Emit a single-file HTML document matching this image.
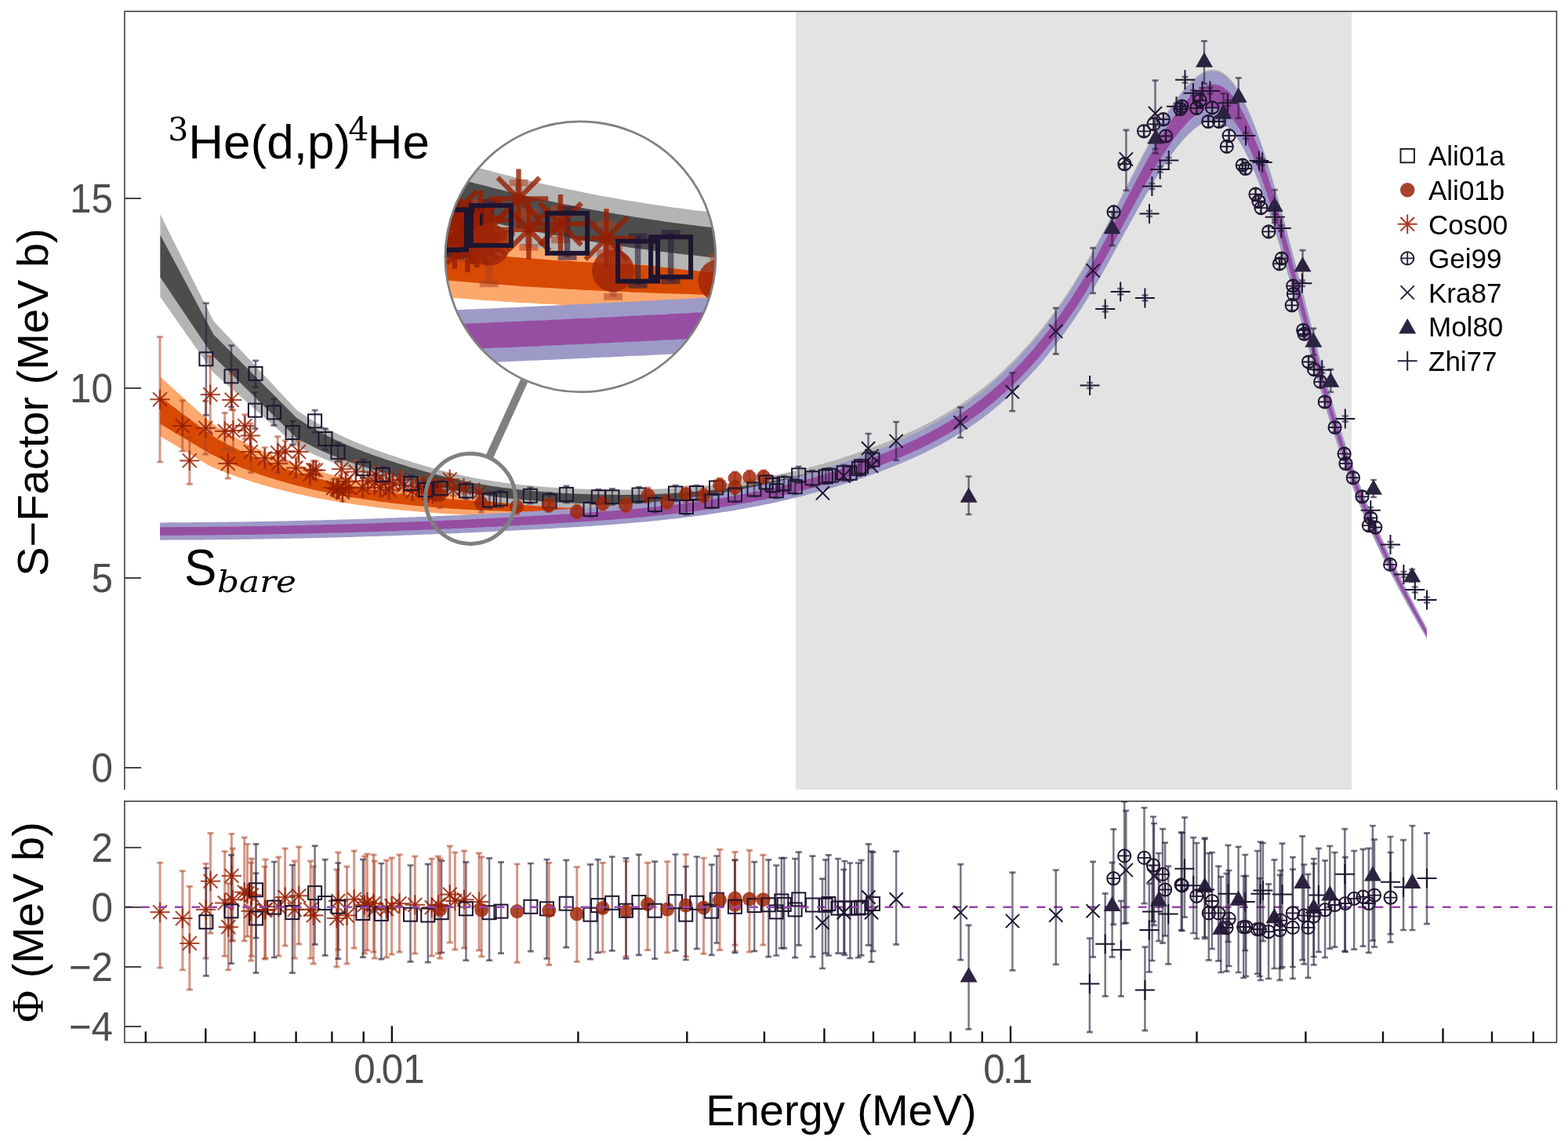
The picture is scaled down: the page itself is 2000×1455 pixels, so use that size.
<!DOCTYPE html>
<html><head><meta charset="utf-8"><title>S-Factor plot</title>
<style>
html,body{margin:0;padding:0;background:#fff;}
body{width:2000px;height:1455px;overflow:hidden;}
svg{display:block;}
text{font-family:"Liberation Sans",Arial,sans-serif;}
.tl{font-size:52px;fill:#4d4d4d;}
.lg{font-size:35px;fill:#000;}
.ax{font-size:56px;fill:#000;}
.sr{font-family:"Liberation Serif","Times New Roman",serif;}
</style></head>
<body>
<svg width="2000" height="1455" viewBox="0 0 2000 1455">
<defs>
<clipPath id="cu"><rect x="159" y="15" width="1826" height="992"/></clipPath>
<clipPath id="cl"><rect x="159" y="1022" width="1826" height="307"/></clipPath>
<clipPath id="ci"><circle cx="740.4" cy="327.4" r="172.2"/></clipPath>
<g id="upc">
<path d="M204.4,480.6 L268.0,538.1 L271.0,540.1 L274.0,542.1 L277.0,544.0 L280.0,545.9 L283.0,547.7 L286.0,549.5 L289.0,551.3 L292.0,553.1 L295.0,554.8 L298.0,556.5 L301.0,558.1 L304.0,559.8 L307.0,561.4 L310.0,562.9 L313.0,564.5 L316.0,566.0 L319.0,567.5 L322.0,568.9 L325.0,570.4 L328.0,571.8 L331.0,573.2 L334.0,574.5 L337.0,575.9 L340.0,577.2 L343.0,578.4 L346.0,579.7 L349.0,580.9 L352.0,582.2 L355.0,583.3 L358.0,584.5 L361.0,585.7 L364.0,586.8 L367.0,587.9 L370.0,589.0 L373.0,590.1 L376.0,591.1 L379.0,592.1 L382.0,593.1 L385.0,594.1 L388.0,595.1 L391.0,596.1 L394.0,597.0 L397.0,597.9 L400.0,598.8 L403.0,599.7 L406.0,600.6 L409.0,601.4 L412.0,602.3 L415.0,603.1 L418.0,603.9 L421.0,604.7 L424.0,605.5 L427.0,606.2 L430.0,607.0 L433.0,607.7 L436.0,608.4 L439.0,609.1 L442.0,609.8 L445.0,610.5 L448.0,611.1 L451.0,611.8 L454.0,612.4 L457.0,613.1 L460.0,613.7 L463.0,614.3 L466.0,614.9 L469.0,615.4 L472.0,616.0 L475.0,616.6 L478.0,617.1 L481.0,617.6 L484.0,618.1 L487.0,618.7 L490.0,619.2 L493.0,619.6 L496.0,620.1 L499.0,620.6 L502.0,621.0 L505.0,621.5 L508.0,621.9 L511.0,622.4 L514.0,622.8 L517.0,623.2 L520.0,623.6 L523.0,624.0 L526.0,624.4 L529.0,624.7 L532.0,625.1 L535.0,625.5 L538.0,625.8 L541.0,626.1 L544.0,626.5 L547.0,626.8 L550.0,627.1 L553.0,627.4 L556.0,627.7 L559.0,628.0 L562.0,628.3 L565.0,628.6 L568.0,628.9 L571.0,629.1 L574.0,629.4 L577.0,629.6 L580.0,629.9 L583.0,630.1 L586.0,630.3 L589.0,630.6 L592.0,630.8 L595.0,631.0 L598.0,631.2 L601.0,631.4 L604.0,631.6 L607.0,631.8 L610.0,631.9 L613.0,632.1 L616.0,632.3 L619.0,632.4 L622.0,632.6 L625.0,632.7 L628.0,632.9 L631.0,633.0 L634.0,633.2 L637.0,633.3 L640.0,633.4 L643.0,633.5 L646.0,633.6 L649.0,633.8 L652.0,633.9 L655.0,634.0 L658.0,634.0 L661.0,634.1 L664.0,634.2 L667.0,634.3 L670.0,634.4 L673.0,634.4 L676.0,634.5 L679.0,634.6 L682.0,634.6 L685.0,634.7 L688.0,634.7 L691.0,634.8 L694.0,634.8 L697.0,634.8 L700.0,634.9 L703.0,634.9 L706.0,634.9 L709.0,634.9 L712.0,634.9 L715.0,635.0 L718.0,635.0 L721.0,635.0 L724.0,635.0 L727.0,634.9 L730.0,634.9 L733.0,634.9 L736.0,634.9 L739.0,634.9 L742.0,634.8 L745.0,634.8 L748.0,634.8 L751.0,634.7 L754.0,634.7 L757.0,634.6 L760.0,634.5 L763.0,634.5 L766.0,634.4 L769.0,634.3 L772.0,634.2 L775.0,634.2 L778.0,634.1 L781.0,634.0 L784.0,633.9 L787.0,633.7 L790.0,633.6 L793.0,633.5 L796.0,633.4 L799.0,633.3 L802.0,633.1 L805.0,633.0 L808.0,632.8 L811.0,632.7 L814.0,632.5 L817.0,632.3 L820.0,632.2 L823.0,632.0 L826.0,631.8 L829.0,631.6 L832.0,631.4 L835.0,631.2 L838.0,631.0 L841.0,630.7 L844.0,630.5 L847.0,630.3 L850.0,630.0 L853.0,629.8 L856.0,629.5 L859.0,629.3 L862.0,629.0 L865.0,628.7 L868.0,628.4 L871.0,628.1 L874.0,627.8 L877.0,627.5 L880.0,627.2 L883.0,626.9 L886.0,626.6 L889.0,626.2 L892.0,625.9 L895.0,625.5 L898.0,625.1 L901.0,624.8 L904.0,624.4 L907.0,624.0 L910.0,623.6 L913.0,623.2 L916.0,622.8 L919.0,622.4 L922.0,621.9 L925.0,621.5 L928.0,621.1 L931.0,620.6 L934.0,620.1 L937.0,619.7 L940.0,619.2 L943.0,618.7 L946.0,618.2 L949.0,617.7 L952.0,617.1 L955.0,616.6 L958.0,616.1 L961.0,615.5 L964.0,615.0 L967.0,614.4 L970.0,613.8 L973.0,613.2 L976.0,612.6 L979.0,612.0 L982.0,611.4 L985.0,610.8 L988.0,610.1 L991.0,609.5 L994.0,608.8 L997.0,608.1 L1000.0,607.5 L1003.0,606.8 L1006.0,606.1 L1009.0,605.3 L1012.0,604.6 L1015.0,603.9 L1018.0,603.1 L1021.0,602.4 L1024.0,601.6 L1027.0,600.8 L1030.0,600.0 L1033.0,599.2 L1036.0,598.4 L1039.0,597.6 L1042.0,596.7 L1045.0,595.9 L1048.0,595.0 L1051.0,594.1 L1054.0,593.2 L1057.0,592.3 L1060.0,591.4 L1063.0,590.5 L1066.0,589.6 L1069.0,588.6 L1072.0,587.7 L1075.0,586.7 L1078.0,585.7 L1081.0,584.7 L1084.0,583.7 L1087.0,582.7 L1090.0,581.6 L1093.0,580.6 L1096.0,579.5 L1099.0,578.4 L1102.0,577.3 L1105.0,576.2 L1108.0,575.1 L1111.0,574.0 L1114.0,572.8 L1117.0,571.7 L1120.0,570.5 L1123.0,569.3 L1126.0,568.1 L1129.0,566.9 L1132.0,565.6 L1135.0,564.4 L1138.0,563.1 L1141.0,561.9 L1144.0,560.6 L1147.0,559.3 L1150.0,557.9 L1153.0,556.6 L1156.0,555.2 L1159.0,553.9 L1162.0,552.5 L1165.0,551.1 L1168.0,549.6 L1171.0,548.2 L1174.0,546.7 L1177.0,545.2 L1180.0,543.7 L1183.0,542.1 L1186.0,540.6 L1189.0,539.0 L1192.0,537.3 L1195.0,535.7 L1198.0,534.0 L1201.0,532.3 L1204.0,530.5 L1207.0,528.8 L1210.0,527.0 L1213.0,525.1 L1216.0,523.2 L1219.0,521.3 L1222.0,519.4 L1225.0,517.4 L1228.0,515.4 L1231.0,513.3 L1234.0,511.2 L1237.0,509.1 L1240.0,506.9 L1243.0,504.7 L1246.0,502.4 L1249.0,500.1 L1252.0,497.8 L1255.0,495.4 L1258.0,493.0 L1261.0,490.5 L1264.0,488.0 L1267.0,485.4 L1270.0,482.8 L1273.0,480.1 L1276.0,477.4 L1279.0,474.6 L1282.0,471.7 L1285.0,468.9 L1288.0,465.9 L1291.0,462.9 L1294.0,459.9 L1297.0,456.8 L1300.0,453.6 L1303.0,450.4 L1306.0,447.1 L1309.0,443.8 L1312.0,440.4 L1315.0,437.0 L1318.0,433.4 L1321.0,429.9 L1324.0,426.2 L1327.0,422.5 L1330.0,418.7 L1333.0,414.9 L1336.0,411.0 L1339.0,407.0 L1342.0,403.0 L1345.0,398.9 L1348.0,394.7 L1351.0,390.4 L1354.0,386.1 L1357.0,381.7 L1360.0,377.3 L1363.0,372.7 L1366.0,368.1 L1369.0,363.4 L1372.0,358.6 L1375.0,353.8 L1378.0,348.9 L1381.0,343.8 L1384.0,338.8 L1387.0,333.6 L1390.0,328.3 L1393.0,323.0 L1396.0,317.6 L1399.0,312.1 L1402.0,306.5 L1405.0,300.9 L1408.0,295.2 L1411.0,289.5 L1414.0,283.7 L1417.0,277.9 L1420.0,272.0 L1423.0,266.1 L1426.0,260.2 L1429.0,254.3 L1432.0,248.4 L1435.0,242.5 L1438.0,236.6 L1441.0,230.7 L1444.0,224.8 L1447.0,219.0 L1450.0,213.2 L1453.0,207.4 L1456.0,201.7 L1459.0,196.0 L1462.0,190.4 L1465.0,184.9 L1468.0,179.4 L1471.0,174.1 L1474.0,168.8 L1477.0,163.6 L1480.0,158.5 L1483.0,153.5 L1486.0,148.7 L1489.0,143.9 L1492.0,139.3 L1495.0,134.9 L1498.0,130.5 L1501.0,126.3 L1504.0,122.3 L1507.0,118.5 L1510.0,114.8 L1513.0,111.3 L1516.0,108.0 L1519.0,104.9 L1522.0,102.0 L1525.0,99.4 L1528.0,97.1 L1531.0,95.0 L1534.0,93.3 L1537.0,91.9 L1540.0,90.8 L1543.0,90.1 L1546.0,89.7 L1549.0,89.8 L1552.0,90.2 L1555.0,91.1 L1558.0,92.4 L1561.0,94.2 L1564.0,96.5 L1567.0,99.2 L1570.0,102.5 L1573.0,106.2 L1576.0,110.4 L1579.0,115.1 L1582.0,120.3 L1585.0,125.8 L1588.0,131.8 L1591.0,138.2 L1594.0,145.1 L1597.0,152.3 L1600.0,159.8 L1603.0,167.8 L1606.0,176.1 L1609.0,184.7 L1612.0,193.7 L1615.0,202.9 L1618.0,212.5 L1621.0,222.3 L1624.0,232.4 L1627.0,242.8 L1630.0,253.3 L1633.0,264.1 L1636.0,275.0 L1639.0,286.1 L1642.0,297.4 L1645.0,308.7 L1648.0,320.2 L1651.0,331.7 L1654.0,343.3 L1657.0,355.0 L1660.0,366.7 L1663.0,378.3 L1666.0,390.0 L1669.0,401.6 L1672.0,413.2 L1675.0,424.7 L1678.0,436.1 L1681.0,447.4 L1684.0,458.6 L1687.0,469.6 L1690.0,480.5 L1693.0,491.1 L1696.0,501.6 L1699.0,511.9 L1702.0,522.0 L1705.0,531.9 L1708.0,541.6 L1711.0,551.1 L1714.0,560.4 L1717.0,569.5 L1720.0,578.3 L1723.0,587.0 L1726.0,595.5 L1729.0,603.8 L1732.0,611.9 L1735.0,619.9 L1738.0,627.7 L1741.0,635.4 L1744.0,643.0 L1747.0,650.4 L1750.0,657.6 L1753.0,664.8 L1756.0,671.8 L1759.0,678.7 L1762.0,685.5 L1765.0,692.2 L1768.0,698.7 L1771.0,705.2 L1774.0,711.6 L1777.0,717.9 L1780.0,724.1 L1783.0,730.3 L1786.0,736.4 L1789.0,742.4 L1792.0,748.3 L1795.0,754.2 L1798.0,760.0 L1801.0,765.8 L1804.0,771.5 L1807.0,777.2 L1810.0,782.8 L1813.0,788.5 L1816.0,794.1 L1819.0,799.6 L1820.0,801.5 L1820.0,814.1 L1819.0,812.4 L1816.0,807.2 L1813.0,802.0 L1810.0,796.8 L1807.0,791.6 L1804.0,786.3 L1801.0,781.0 L1798.0,775.6 L1795.0,770.2 L1792.0,764.7 L1789.0,759.2 L1786.0,753.7 L1783.0,748.0 L1780.0,742.3 L1777.0,736.5 L1774.0,730.7 L1771.0,724.8 L1768.0,718.7 L1765.0,712.6 L1762.0,706.4 L1759.0,700.1 L1756.0,693.7 L1753.0,687.2 L1750.0,680.5 L1747.0,673.8 L1744.0,666.9 L1741.0,659.9 L1738.0,652.8 L1735.0,645.5 L1732.0,638.1 L1729.0,630.6 L1726.0,622.8 L1723.0,615.0 L1720.0,606.9 L1717.0,598.7 L1714.0,590.2 L1711.0,581.6 L1708.0,572.8 L1705.0,563.8 L1702.0,554.6 L1699.0,545.2 L1696.0,535.7 L1693.0,525.9 L1690.0,516.0 L1687.0,506.0 L1684.0,495.7 L1681.0,485.3 L1678.0,474.8 L1675.0,464.2 L1672.0,453.6 L1669.0,442.8 L1666.0,432.0 L1663.0,421.2 L1660.0,410.3 L1657.0,399.5 L1654.0,388.7 L1651.0,377.9 L1648.0,367.2 L1645.0,356.5 L1642.0,346.0 L1639.0,335.5 L1636.0,325.2 L1633.0,315.1 L1630.0,305.1 L1627.0,295.3 L1624.0,285.7 L1621.0,276.3 L1618.0,267.2 L1615.0,258.3 L1612.0,249.7 L1609.0,241.3 L1606.0,233.3 L1603.0,225.6 L1600.0,218.2 L1597.0,211.2 L1594.0,204.5 L1591.0,198.2 L1588.0,192.2 L1585.0,186.7 L1582.0,181.5 L1579.0,176.7 L1576.0,172.4 L1573.0,168.4 L1570.0,165.0 L1567.0,161.9 L1564.0,159.4 L1561.0,157.3 L1558.0,155.6 L1555.0,154.4 L1552.0,153.6 L1549.0,153.2 L1546.0,153.1 L1543.0,153.5 L1540.0,154.1 L1537.0,155.1 L1534.0,156.4 L1531.0,158.1 L1528.0,159.9 L1525.0,162.1 L1522.0,164.5 L1519.0,167.2 L1516.0,170.0 L1513.0,173.1 L1510.0,176.4 L1507.0,179.8 L1504.0,183.4 L1501.0,187.1 L1498.0,191.0 L1495.0,195.0 L1492.0,199.2 L1489.0,203.4 L1486.0,207.8 L1483.0,212.3 L1480.0,217.0 L1477.0,221.7 L1474.0,226.5 L1471.0,231.4 L1468.0,236.4 L1465.0,241.5 L1462.0,246.6 L1459.0,251.8 L1456.0,257.1 L1453.0,262.4 L1450.0,267.7 L1447.0,273.1 L1444.0,278.5 L1441.0,284.0 L1438.0,289.5 L1435.0,294.9 L1432.0,300.4 L1429.0,305.9 L1426.0,311.4 L1423.0,316.9 L1420.0,322.4 L1417.0,327.8 L1414.0,333.2 L1411.0,338.6 L1408.0,343.9 L1405.0,349.2 L1402.0,354.4 L1399.0,359.6 L1396.0,364.7 L1393.0,369.7 L1390.0,374.7 L1387.0,379.5 L1384.0,384.3 L1381.0,389.1 L1378.0,393.7 L1375.0,398.3 L1372.0,402.8 L1369.0,407.2 L1366.0,411.6 L1363.0,415.9 L1360.0,420.1 L1357.0,424.2 L1354.0,428.3 L1351.0,432.3 L1348.0,436.3 L1345.0,440.2 L1342.0,444.0 L1339.0,447.7 L1336.0,451.4 L1333.0,455.1 L1330.0,458.6 L1327.0,462.1 L1324.0,465.6 L1321.0,468.9 L1318.0,472.3 L1315.0,475.5 L1312.0,478.7 L1309.0,481.9 L1306.0,485.0 L1303.0,488.0 L1300.0,491.0 L1297.0,493.9 L1294.0,496.8 L1291.0,499.6 L1288.0,502.4 L1285.0,505.2 L1282.0,507.8 L1279.0,510.5 L1276.0,513.0 L1273.0,515.6 L1270.0,518.0 L1267.0,520.5 L1264.0,522.9 L1261.0,525.2 L1258.0,527.5 L1255.0,529.8 L1252.0,532.0 L1249.0,534.2 L1246.0,536.3 L1243.0,538.4 L1240.0,540.5 L1237.0,542.5 L1234.0,544.5 L1231.0,546.4 L1228.0,548.3 L1225.0,550.2 L1222.0,552.0 L1219.0,553.9 L1216.0,555.6 L1213.0,557.4 L1210.0,559.1 L1207.0,560.8 L1204.0,562.4 L1201.0,564.0 L1198.0,565.6 L1195.0,567.2 L1192.0,568.7 L1189.0,570.2 L1186.0,571.7 L1183.0,573.2 L1180.0,574.6 L1177.0,576.0 L1174.0,577.4 L1171.0,578.8 L1168.0,580.1 L1165.0,581.5 L1162.0,582.8 L1159.0,584.1 L1156.0,585.3 L1153.0,586.6 L1150.0,587.8 L1147.0,589.0 L1144.0,590.3 L1141.0,591.5 L1138.0,592.6 L1135.0,593.8 L1132.0,595.0 L1129.0,596.1 L1126.0,597.2 L1123.0,598.3 L1120.0,599.5 L1117.0,600.5 L1114.0,601.6 L1111.0,602.7 L1108.0,603.7 L1105.0,604.8 L1102.0,605.8 L1099.0,606.8 L1096.0,607.8 L1093.0,608.8 L1090.0,609.8 L1087.0,610.7 L1084.0,611.7 L1081.0,612.6 L1078.0,613.6 L1075.0,614.5 L1072.0,615.4 L1069.0,616.3 L1066.0,617.2 L1063.0,618.0 L1060.0,618.9 L1057.0,619.7 L1054.0,620.6 L1051.0,621.4 L1048.0,622.2 L1045.0,623.0 L1042.0,623.8 L1039.0,624.6 L1036.0,625.3 L1033.0,626.1 L1030.0,626.8 L1027.0,627.6 L1024.0,628.3 L1021.0,629.0 L1018.0,629.7 L1015.0,630.4 L1012.0,631.1 L1009.0,631.8 L1006.0,632.4 L1003.0,633.1 L1000.0,633.7 L997.0,634.4 L994.0,635.0 L991.0,635.6 L988.0,636.2 L985.0,636.8 L982.0,637.4 L979.0,637.9 L976.0,638.5 L973.0,639.1 L970.0,639.6 L967.0,640.1 L964.0,640.7 L961.0,641.2 L958.0,641.7 L955.0,642.2 L952.0,642.7 L949.0,643.2 L946.0,643.7 L943.0,644.1 L940.0,644.6 L937.0,645.0 L934.0,645.5 L931.0,645.9 L928.0,646.3 L925.0,646.7 L922.0,647.1 L919.0,647.5 L916.0,647.9 L913.0,648.3 L910.0,648.7 L907.0,649.1 L904.0,649.4 L901.0,649.8 L898.0,650.1 L895.0,650.4 L892.0,650.8 L889.0,651.1 L886.0,651.4 L883.0,651.7 L880.0,652.0 L877.0,652.3 L874.0,652.6 L871.0,652.9 L868.0,653.1 L865.0,653.4 L862.0,653.7 L859.0,653.9 L856.0,654.2 L853.0,654.4 L850.0,654.6 L847.0,654.9 L844.0,655.1 L841.0,655.3 L838.0,655.5 L835.0,655.7 L832.0,655.9 L829.0,656.1 L826.0,656.3 L823.0,656.4 L820.0,656.6 L817.0,656.8 L814.0,656.9 L811.0,657.1 L808.0,657.2 L805.0,657.4 L802.0,657.5 L799.0,657.6 L796.0,657.8 L793.0,657.9 L790.0,658.0 L787.0,658.1 L784.0,658.2 L781.0,658.3 L778.0,658.4 L775.0,658.5 L772.0,658.6 L769.0,658.7 L766.0,658.8 L763.0,658.8 L760.0,658.9 L757.0,659.0 L754.0,659.0 L751.0,659.1 L748.0,659.1 L745.0,659.2 L742.0,659.2 L739.0,659.2 L736.0,659.3 L733.0,659.3 L730.0,659.3 L727.0,659.3 L724.0,659.4 L721.0,659.4 L718.0,659.4 L715.0,659.4 L712.0,659.4 L709.0,659.4 L706.0,659.4 L703.0,659.4 L700.0,659.4 L697.0,659.3 L694.0,659.3 L691.0,659.3 L688.0,659.3 L685.0,659.3 L682.0,659.2 L679.0,659.2 L676.0,659.1 L673.0,659.1 L670.0,659.1 L667.0,659.0 L664.0,659.0 L661.0,658.9 L658.0,658.8 L655.0,658.8 L652.0,658.7 L649.0,658.6 L646.0,658.6 L643.0,658.5 L640.0,658.4 L637.0,658.3 L634.0,658.2 L631.0,658.1 L628.0,658.0 L625.0,657.9 L622.0,657.8 L619.0,657.7 L616.0,657.6 L613.0,657.4 L610.0,657.3 L607.0,657.2 L604.0,657.1 L601.0,656.9 L598.0,656.8 L595.0,656.6 L592.0,656.5 L589.0,656.3 L586.0,656.1 L583.0,656.0 L580.0,655.8 L577.0,655.6 L574.0,655.5 L571.0,655.3 L568.0,655.1 L565.0,654.9 L562.0,654.7 L559.0,654.5 L556.0,654.3 L553.0,654.0 L550.0,653.8 L547.0,653.6 L544.0,653.4 L541.0,653.1 L538.0,652.9 L535.0,652.6 L532.0,652.4 L529.0,652.1 L526.0,651.8 L523.0,651.6 L520.0,651.3 L517.0,651.0 L514.0,650.7 L511.0,650.4 L508.0,650.1 L505.0,649.8 L502.0,649.5 L499.0,649.2 L496.0,648.8 L493.0,648.5 L490.0,648.1 L487.0,647.8 L484.0,647.4 L481.0,647.1 L478.0,646.7 L475.0,646.3 L472.0,645.9 L469.0,645.5 L466.0,645.1 L463.0,644.7 L460.0,644.3 L457.0,643.9 L454.0,643.5 L451.0,643.0 L448.0,642.6 L445.0,642.1 L442.0,641.7 L439.0,641.2 L436.0,640.7 L433.0,640.2 L430.0,639.7 L427.0,639.2 L424.0,638.7 L421.0,638.2 L418.0,637.6 L415.0,637.1 L412.0,636.5 L409.0,636.0 L406.0,635.4 L403.0,634.8 L400.0,634.2 L397.0,633.6 L394.0,633.0 L391.0,632.3 L388.0,631.7 L385.0,631.1 L382.0,630.4 L379.0,629.7 L376.0,629.0 L373.0,628.3 L370.0,627.6 L367.0,626.9 L364.0,626.2 L361.0,625.4 L358.0,624.7 L355.0,623.9 L352.0,623.1 L349.0,622.3 L346.0,621.5 L343.0,620.7 L340.0,619.8 L337.0,619.0 L334.0,618.1 L331.0,617.2 L328.0,616.3 L325.0,615.4 L322.0,614.5 L319.0,613.5 L316.0,612.6 L313.0,611.6 L310.0,610.6 L307.0,609.5 L304.0,608.5 L301.0,607.5 L298.0,606.4 L295.0,605.3 L292.0,604.2 L289.0,603.1 L286.0,601.9 L283.0,600.7 L280.0,599.5 L277.0,598.3 L274.0,597.1 L271.0,595.8 L268.0,594.6 L204.4,556.2Z" fill="#fca86c"/>
<path d="M204.4,506.0 L268.0,554.1 L271.0,555.8 L274.0,557.6 L277.0,559.3 L280.0,561.0 L283.0,562.7 L286.0,564.3 L289.0,565.9 L292.0,567.5 L295.0,569.0 L298.0,570.5 L301.0,572.0 L304.0,573.5 L307.0,574.9 L310.0,576.3 L313.0,577.7 L316.0,579.1 L319.0,580.4 L322.0,581.7 L325.0,583.0 L328.0,584.3 L331.0,585.5 L334.0,586.7 L337.0,587.9 L340.0,589.1 L343.0,590.3 L346.0,591.4 L349.0,592.5 L352.0,593.6 L355.0,594.7 L358.0,595.7 L361.0,596.8 L364.0,597.8 L367.0,598.8 L370.0,599.7 L373.0,600.7 L376.0,601.7 L379.0,602.6 L382.0,603.5 L385.0,604.4 L388.0,605.3 L391.0,606.1 L394.0,607.0 L397.0,607.8 L400.0,608.6 L403.0,609.4 L406.0,610.2 L409.0,611.0 L412.0,611.7 L415.0,612.5 L418.0,613.2 L421.0,613.9 L424.0,614.6 L427.0,615.3 L430.0,616.0 L433.0,616.6 L436.0,617.3 L439.0,617.9 L442.0,618.6 L445.0,619.2 L448.0,619.8 L451.0,620.4 L454.0,620.9 L457.0,621.5 L460.0,622.1 L463.0,622.6 L466.0,623.1 L469.0,623.7 L472.0,624.2 L475.0,624.7 L478.0,625.2 L481.0,625.7 L484.0,626.1 L487.0,626.6 L490.0,627.0 L493.0,627.5 L496.0,627.9 L499.0,628.3 L502.0,628.8 L505.0,629.2 L508.0,629.6 L511.0,630.0 L514.0,630.3 L517.0,630.7 L520.0,631.1 L523.0,631.4 L526.0,631.8 L529.0,632.1 L532.0,632.5 L535.0,632.8 L538.0,633.1 L541.0,633.4 L544.0,633.7 L547.0,634.0 L550.0,634.3 L553.0,634.6 L556.0,634.9 L559.0,635.1 L562.0,635.4 L565.0,635.7 L568.0,635.9 L571.0,636.1 L574.0,636.4 L577.0,636.6 L580.0,636.8 L583.0,637.0 L586.0,637.3 L589.0,637.5 L592.0,637.7 L595.0,637.8 L598.0,638.0 L601.0,638.2 L604.0,638.4 L607.0,638.6 L610.0,638.7 L613.0,638.9 L616.0,639.0 L619.0,639.2 L622.0,639.3 L625.0,639.5 L628.0,639.6 L631.0,639.7 L634.0,639.8 L637.0,640.0 L640.0,640.1 L643.0,640.2 L646.0,640.3 L649.0,640.4 L652.0,640.5 L655.0,640.6 L658.0,640.6 L661.0,640.7 L664.0,640.8 L667.0,640.9 L670.0,640.9 L673.0,641.0 L676.0,641.1 L679.0,641.1 L682.0,641.2 L685.0,641.2 L688.0,641.2 L691.0,641.3 L694.0,641.3 L697.0,641.3 L700.0,641.4 L703.0,641.4 L706.0,641.4 L709.0,641.4 L712.0,641.4 L715.0,641.4 L718.0,641.4 L721.0,641.4 L724.0,641.4 L727.0,641.4 L730.0,641.4 L733.0,641.4 L736.0,641.4 L739.0,641.3 L742.0,641.3 L745.0,641.3 L748.0,641.2 L751.0,641.2 L754.0,641.1 L757.0,641.0 L760.0,641.0 L763.0,640.9 L766.0,640.8 L769.0,640.8 L772.0,640.7 L775.0,640.6 L778.0,640.5 L781.0,640.4 L784.0,640.3 L787.0,640.2 L790.0,640.1 L793.0,640.0 L796.0,639.8 L799.0,639.7 L802.0,639.6 L805.0,639.4 L808.0,639.3 L811.0,639.1 L814.0,639.0 L817.0,638.8 L820.0,638.6 L823.0,638.4 L826.0,638.2 L829.0,638.1 L832.0,637.9 L835.0,637.7 L838.0,637.4 L841.0,637.2 L844.0,637.0 L847.0,636.8 L850.0,636.5 L853.0,636.3 L856.0,636.0 L859.0,635.8 L862.0,635.5 L865.0,635.2 L868.0,635.0 L871.0,634.7 L874.0,634.4 L877.0,634.1 L880.0,633.8 L883.0,633.4 L886.0,633.1 L889.0,632.8 L892.0,632.4 L895.0,632.1 L898.0,631.7 L901.0,631.4 L904.0,631.0 L907.0,630.6 L910.0,630.2 L913.0,629.8 L916.0,629.4 L919.0,629.0 L922.0,628.6 L925.0,628.2 L928.0,627.7 L931.0,627.3 L934.0,626.8 L937.0,626.3 L940.0,625.9 L943.0,625.4 L946.0,624.9 L949.0,624.4 L952.0,623.9 L955.0,623.4 L958.0,622.8 L961.0,622.3 L964.0,621.7 L967.0,621.2 L970.0,620.6 L973.0,620.0 L976.0,619.4 L979.0,618.8 L982.0,618.2 L985.0,617.6 L988.0,617.0 L991.0,616.4 L994.0,615.7 L997.0,615.0 L1000.0,614.4 L1003.0,613.7 L1006.0,613.0 L1009.0,612.3 L1012.0,611.6 L1015.0,610.9 L1018.0,610.1 L1021.0,609.4 L1024.0,608.6 L1027.0,607.9 L1030.0,607.1 L1033.0,606.3 L1036.0,605.5 L1039.0,604.7 L1042.0,603.9 L1045.0,603.0 L1048.0,602.2 L1051.0,601.3 L1054.0,600.4 L1057.0,599.6 L1060.0,598.7 L1063.0,597.8 L1066.0,596.8 L1069.0,595.9 L1072.0,595.0 L1075.0,594.0 L1078.0,593.0 L1081.0,592.1 L1084.0,591.1 L1087.0,590.1 L1090.0,589.0 L1093.0,588.0 L1096.0,587.0 L1099.0,585.9 L1102.0,584.8 L1105.0,583.7 L1108.0,582.6 L1111.0,581.5 L1114.0,580.4 L1117.0,579.3 L1120.0,578.1 L1123.0,576.9 L1126.0,575.8 L1129.0,574.6 L1132.0,573.4 L1135.0,572.1 L1138.0,570.9 L1141.0,569.7 L1144.0,568.4 L1147.0,567.1 L1150.0,565.8 L1153.0,564.5 L1156.0,563.2 L1159.0,561.8 L1162.0,560.5 L1165.0,559.1 L1168.0,557.7 L1171.0,556.2 L1174.0,554.8 L1177.0,553.3 L1180.0,551.8 L1183.0,550.3 L1186.0,548.8 L1189.0,547.2 L1192.0,545.6 L1195.0,544.0 L1198.0,542.3 L1201.0,540.6 L1204.0,538.9 L1207.0,537.2 L1210.0,535.4 L1213.0,533.6 L1216.0,531.8 L1219.0,529.9 L1222.0,528.0 L1225.0,526.0 L1228.0,524.1 L1231.0,522.0 L1234.0,520.0 L1237.0,517.9 L1240.0,515.8 L1243.0,513.6 L1246.0,511.4 L1249.0,509.1 L1252.0,506.8 L1255.0,504.5 L1258.0,502.1 L1261.0,499.6 L1264.0,497.2 L1267.0,494.6 L1270.0,492.1 L1273.0,489.4 L1276.0,486.8 L1279.0,484.0 L1282.0,481.3 L1285.0,478.4 L1288.0,475.5 L1291.0,472.6 L1294.0,469.6 L1297.0,466.6 L1300.0,463.5 L1303.0,460.3 L1306.0,457.1 L1309.0,453.8 L1312.0,450.5 L1315.0,447.1 L1318.0,443.7 L1321.0,440.2 L1324.0,436.6 L1327.0,433.0 L1330.0,429.3 L1333.0,425.5 L1336.0,421.7 L1339.0,417.8 L1342.0,413.8 L1345.0,409.8 L1348.0,405.7 L1351.0,401.5 L1354.0,397.2 L1357.0,392.9 L1360.0,388.5 L1363.0,384.1 L1366.0,379.6 L1369.0,374.9 L1372.0,370.3 L1375.0,365.5 L1378.0,360.7 L1381.0,355.8 L1384.0,350.8 L1387.0,345.7 L1390.0,340.6 L1393.0,335.3 L1396.0,330.0 L1399.0,324.6 L1402.0,319.2 L1405.0,313.6 L1408.0,308.1 L1411.0,302.4 L1414.0,296.7 L1417.0,291.0 L1420.0,285.3 L1423.0,279.5 L1426.0,273.7 L1429.0,267.9 L1432.0,262.1 L1435.0,256.3 L1438.0,250.5 L1441.0,244.7 L1444.0,239.0 L1447.0,233.2 L1450.0,227.5 L1453.0,221.9 L1456.0,216.3 L1459.0,210.7 L1462.0,205.2 L1465.0,199.8 L1468.0,194.4 L1471.0,189.2 L1474.0,184.0 L1477.0,178.9 L1480.0,173.9 L1483.0,169.0 L1486.0,164.3 L1489.0,159.6 L1492.0,155.1 L1495.0,150.7 L1498.0,146.5 L1501.0,142.4 L1504.0,138.4 L1507.0,134.6 L1510.0,131.0 L1513.0,127.6 L1516.0,124.3 L1519.0,121.3 L1522.0,118.5 L1525.0,115.9 L1528.0,113.7 L1531.0,111.6 L1534.0,109.9 L1537.0,108.6 L1540.0,107.5 L1543.0,106.8 L1546.0,106.5 L1549.0,106.5 L1552.0,106.9 L1555.0,107.8 L1558.0,109.1 L1561.0,110.8 L1564.0,113.1 L1567.0,115.8 L1570.0,118.9 L1573.0,122.6 L1576.0,126.8 L1579.0,131.4 L1582.0,136.4 L1585.0,141.9 L1588.0,147.7 L1591.0,154.0 L1594.0,160.7 L1597.0,167.8 L1600.0,175.2 L1603.0,183.0 L1606.0,191.2 L1609.0,199.6 L1612.0,208.4 L1615.0,217.5 L1618.0,226.9 L1621.0,236.6 L1624.0,246.5 L1627.0,256.6 L1630.0,267.0 L1633.0,277.5 L1636.0,288.3 L1639.0,299.1 L1642.0,310.2 L1645.0,321.3 L1648.0,332.6 L1651.0,343.9 L1654.0,355.3 L1657.0,366.7 L1660.0,378.2 L1663.0,389.6 L1666.0,401.1 L1669.0,412.5 L1672.0,423.8 L1675.0,435.1 L1678.0,446.3 L1681.0,457.4 L1684.0,468.4 L1687.0,479.2 L1690.0,489.8 L1693.0,500.3 L1696.0,510.6 L1699.0,520.7 L1702.0,530.6 L1705.0,540.3 L1708.0,549.8 L1711.0,559.1 L1714.0,568.3 L1717.0,577.2 L1720.0,585.9 L1723.0,594.4 L1726.0,602.7 L1729.0,610.9 L1732.0,618.8 L1735.0,626.7 L1738.0,634.3 L1741.0,641.9 L1744.0,649.3 L1747.0,656.5 L1750.0,663.7 L1753.0,670.7 L1756.0,677.6 L1759.0,684.3 L1762.0,691.0 L1765.0,697.6 L1768.0,704.0 L1771.0,710.4 L1774.0,716.6 L1777.0,722.8 L1780.0,728.9 L1783.0,735.0 L1786.0,740.9 L1789.0,746.8 L1792.0,752.6 L1795.0,758.4 L1798.0,764.1 L1801.0,769.8 L1804.0,775.4 L1807.0,781.0 L1810.0,786.5 L1813.0,792.0 L1816.0,797.5 L1819.0,803.0 L1820.0,804.8 L1820.0,810.8 L1819.0,809.1 L1816.0,803.8 L1813.0,798.5 L1810.0,793.1 L1807.0,787.8 L1804.0,782.4 L1801.0,777.0 L1798.0,771.5 L1795.0,766.0 L1792.0,760.4 L1789.0,754.8 L1786.0,749.1 L1783.0,743.4 L1780.0,737.5 L1777.0,731.6 L1774.0,725.7 L1771.0,719.6 L1768.0,713.5 L1765.0,707.2 L1762.0,700.9 L1759.0,694.5 L1756.0,687.9 L1753.0,681.3 L1750.0,674.5 L1747.0,667.6 L1744.0,660.6 L1741.0,653.5 L1738.0,646.2 L1735.0,638.8 L1732.0,631.2 L1729.0,623.5 L1726.0,615.6 L1723.0,607.6 L1720.0,599.4 L1717.0,591.0 L1714.0,582.4 L1711.0,573.6 L1708.0,564.6 L1705.0,555.4 L1702.0,546.0 L1699.0,536.5 L1696.0,526.7 L1693.0,516.8 L1690.0,506.7 L1687.0,496.4 L1684.0,485.9 L1681.0,475.4 L1678.0,464.6 L1675.0,453.8 L1672.0,442.9 L1669.0,432.0 L1666.0,420.9 L1663.0,409.9 L1660.0,398.8 L1657.0,387.8 L1654.0,376.7 L1651.0,365.7 L1648.0,354.8 L1645.0,343.9 L1642.0,333.2 L1639.0,322.5 L1636.0,312.0 L1633.0,301.6 L1630.0,291.5 L1627.0,281.4 L1624.0,271.7 L1621.0,262.1 L1618.0,252.8 L1615.0,243.7 L1612.0,234.9 L1609.0,226.4 L1606.0,218.2 L1603.0,210.4 L1600.0,202.9 L1597.0,195.7 L1594.0,188.8 L1591.0,182.4 L1588.0,176.3 L1585.0,170.6 L1582.0,165.3 L1579.0,160.5 L1576.0,156.0 L1573.0,152.0 L1570.0,148.5 L1567.0,145.4 L1564.0,142.8 L1561.0,140.7 L1558.0,139.0 L1555.0,137.7 L1552.0,136.9 L1549.0,136.5 L1546.0,136.4 L1543.0,136.8 L1540.0,137.4 L1537.0,138.5 L1534.0,139.8 L1531.0,141.4 L1528.0,143.4 L1525.0,145.6 L1522.0,148.1 L1519.0,150.8 L1516.0,153.7 L1513.0,156.8 L1510.0,160.1 L1507.0,163.6 L1504.0,167.3 L1501.0,171.1 L1498.0,175.1 L1495.0,179.2 L1492.0,183.4 L1489.0,187.8 L1486.0,192.2 L1483.0,196.8 L1480.0,201.6 L1477.0,206.4 L1474.0,211.3 L1471.0,216.3 L1468.0,221.4 L1465.0,226.6 L1462.0,231.8 L1459.0,237.1 L1456.0,242.5 L1453.0,247.9 L1450.0,253.3 L1447.0,258.8 L1444.0,264.4 L1441.0,269.9 L1438.0,275.5 L1435.0,281.1 L1432.0,286.7 L1429.0,292.3 L1426.0,297.9 L1423.0,303.5 L1420.0,309.1 L1417.0,314.6 L1414.0,320.2 L1411.0,325.6 L1408.0,331.1 L1405.0,336.5 L1402.0,341.8 L1399.0,347.1 L1396.0,352.3 L1393.0,357.4 L1390.0,362.5 L1387.0,367.4 L1384.0,372.3 L1381.0,377.2 L1378.0,381.9 L1375.0,386.6 L1372.0,391.2 L1369.0,395.7 L1366.0,400.1 L1363.0,404.5 L1360.0,408.8 L1357.0,413.0 L1354.0,417.2 L1351.0,421.3 L1348.0,425.3 L1345.0,429.3 L1342.0,433.2 L1339.0,437.0 L1336.0,440.8 L1333.0,444.5 L1330.0,448.1 L1327.0,451.7 L1324.0,455.2 L1321.0,458.6 L1318.0,462.0 L1315.0,465.4 L1312.0,468.6 L1309.0,471.9 L1306.0,475.0 L1303.0,478.1 L1300.0,481.2 L1297.0,484.2 L1294.0,487.1 L1291.0,490.0 L1288.0,492.8 L1285.0,495.6 L1282.0,498.3 L1279.0,501.0 L1276.0,503.6 L1273.0,506.2 L1270.0,508.7 L1267.0,511.2 L1264.0,513.7 L1261.0,516.1 L1258.0,518.4 L1255.0,520.7 L1252.0,523.0 L1249.0,525.2 L1246.0,527.4 L1243.0,529.5 L1240.0,531.6 L1237.0,533.7 L1234.0,535.7 L1231.0,537.7 L1228.0,539.6 L1225.0,541.6 L1222.0,543.4 L1219.0,545.3 L1216.0,547.1 L1213.0,548.9 L1210.0,550.6 L1207.0,552.3 L1204.0,554.0 L1201.0,555.7 L1198.0,557.3 L1195.0,558.9 L1192.0,560.4 L1189.0,562.0 L1186.0,563.5 L1183.0,565.0 L1180.0,566.5 L1177.0,567.9 L1174.0,569.3 L1171.0,570.7 L1168.0,572.1 L1165.0,573.4 L1162.0,574.8 L1159.0,576.1 L1156.0,577.4 L1153.0,578.7 L1150.0,579.9 L1147.0,581.2 L1144.0,582.4 L1141.0,583.7 L1138.0,584.9 L1135.0,586.1 L1132.0,587.2 L1129.0,588.4 L1126.0,589.5 L1123.0,590.7 L1120.0,591.8 L1117.0,592.9 L1114.0,594.0 L1111.0,595.1 L1108.0,596.2 L1105.0,597.2 L1102.0,598.3 L1099.0,599.3 L1096.0,600.3 L1093.0,601.4 L1090.0,602.4 L1087.0,603.3 L1084.0,604.3 L1081.0,605.3 L1078.0,606.2 L1075.0,607.2 L1072.0,608.1 L1069.0,609.0 L1066.0,609.9 L1063.0,610.8 L1060.0,611.6 L1057.0,612.5 L1054.0,613.4 L1051.0,614.2 L1048.0,615.0 L1045.0,615.8 L1042.0,616.7 L1039.0,617.4 L1036.0,618.2 L1033.0,619.0 L1030.0,619.8 L1027.0,620.5 L1024.0,621.3 L1021.0,622.0 L1018.0,622.7 L1015.0,623.4 L1012.0,624.1 L1009.0,624.8 L1006.0,625.5 L1003.0,626.1 L1000.0,626.8 L997.0,627.4 L994.0,628.1 L991.0,628.7 L988.0,629.3 L985.0,629.9 L982.0,630.5 L979.0,631.1 L976.0,631.7 L973.0,632.2 L970.0,632.8 L967.0,633.4 L964.0,633.9 L961.0,634.4 L958.0,634.9 L955.0,635.5 L952.0,636.0 L949.0,636.4 L946.0,636.9 L943.0,637.4 L940.0,637.9 L937.0,638.3 L934.0,638.8 L931.0,639.2 L928.0,639.7 L925.0,640.1 L922.0,640.5 L919.0,640.9 L916.0,641.3 L913.0,641.7 L910.0,642.1 L907.0,642.4 L904.0,642.8 L901.0,643.2 L898.0,643.5 L895.0,643.9 L892.0,644.2 L889.0,644.5 L886.0,644.9 L883.0,645.2 L880.0,645.5 L877.0,645.8 L874.0,646.1 L871.0,646.3 L868.0,646.6 L865.0,646.9 L862.0,647.2 L859.0,647.4 L856.0,647.7 L853.0,647.9 L850.0,648.1 L847.0,648.4 L844.0,648.6 L841.0,648.8 L838.0,649.0 L835.0,649.2 L832.0,649.4 L829.0,649.6 L826.0,649.8 L823.0,650.0 L820.0,650.2 L817.0,650.3 L814.0,650.5 L811.0,650.6 L808.0,650.8 L805.0,650.9 L802.0,651.1 L799.0,651.2 L796.0,651.3 L793.0,651.4 L790.0,651.6 L787.0,651.7 L784.0,651.8 L781.0,651.9 L778.0,652.0 L775.0,652.1 L772.0,652.2 L769.0,652.2 L766.0,652.3 L763.0,652.4 L760.0,652.4 L757.0,652.5 L754.0,652.6 L751.0,652.6 L748.0,652.7 L745.0,652.7 L742.0,652.7 L739.0,652.8 L736.0,652.8 L733.0,652.8 L730.0,652.9 L727.0,652.9 L724.0,652.9 L721.0,652.9 L718.0,652.9 L715.0,652.9 L712.0,652.9 L709.0,652.9 L706.0,652.9 L703.0,652.9 L700.0,652.9 L697.0,652.8 L694.0,652.8 L691.0,652.8 L688.0,652.8 L685.0,652.7 L682.0,652.7 L679.0,652.6 L676.0,652.6 L673.0,652.5 L670.0,652.5 L667.0,652.4 L664.0,652.4 L661.0,652.3 L658.0,652.2 L655.0,652.2 L652.0,652.1 L649.0,652.0 L646.0,651.9 L643.0,651.8 L640.0,651.7 L637.0,651.6 L634.0,651.5 L631.0,651.4 L628.0,651.3 L625.0,651.2 L622.0,651.1 L619.0,650.9 L616.0,650.8 L613.0,650.7 L610.0,650.5 L607.0,650.4 L604.0,650.2 L601.0,650.1 L598.0,649.9 L595.0,649.8 L592.0,649.6 L589.0,649.4 L586.0,649.2 L583.0,649.0 L580.0,648.9 L577.0,648.7 L574.0,648.5 L571.0,648.2 L568.0,648.0 L565.0,647.8 L562.0,647.6 L559.0,647.4 L556.0,647.1 L553.0,646.9 L550.0,646.6 L547.0,646.4 L544.0,646.1 L541.0,645.8 L538.0,645.6 L535.0,645.3 L532.0,645.0 L529.0,644.7 L526.0,644.4 L523.0,644.1 L520.0,643.8 L517.0,643.5 L514.0,643.1 L511.0,642.8 L508.0,642.5 L505.0,642.1 L502.0,641.8 L499.0,641.4 L496.0,641.0 L493.0,640.6 L490.0,640.3 L487.0,639.9 L484.0,639.5 L481.0,639.0 L478.0,638.6 L475.0,638.2 L472.0,637.8 L469.0,637.3 L466.0,636.9 L463.0,636.4 L460.0,635.9 L457.0,635.5 L454.0,635.0 L451.0,634.5 L448.0,634.0 L445.0,633.4 L442.0,632.9 L439.0,632.4 L436.0,631.8 L433.0,631.3 L430.0,630.7 L427.0,630.1 L424.0,629.5 L421.0,628.9 L418.0,628.3 L415.0,627.7 L412.0,627.1 L409.0,626.4 L406.0,625.8 L403.0,625.1 L400.0,624.4 L397.0,623.7 L394.0,623.0 L391.0,622.3 L388.0,621.6 L385.0,620.8 L382.0,620.1 L379.0,619.3 L376.0,618.5 L373.0,617.7 L370.0,616.9 L367.0,616.0 L364.0,615.2 L361.0,614.3 L358.0,613.5 L355.0,612.6 L352.0,611.7 L349.0,610.8 L346.0,609.8 L343.0,608.9 L340.0,607.9 L337.0,606.9 L334.0,605.9 L331.0,604.9 L328.0,603.8 L325.0,602.8 L322.0,601.7 L319.0,600.6 L316.0,599.5 L313.0,598.3 L310.0,597.2 L307.0,596.0 L304.0,594.8 L301.0,593.6 L298.0,592.3 L295.0,591.1 L292.0,589.8 L289.0,588.5 L286.0,587.1 L283.0,585.8 L280.0,584.4 L277.0,583.0 L274.0,581.5 L271.0,580.1 L268.0,578.6 L204.4,540.4Z" fill="#d84a04"/>
<path d="M204.4,273.2 L272.3,409.3 L378.2,522.7 L381.2,524.8 L384.2,526.8 L387.2,528.8 L390.2,530.8 L393.2,532.7 L396.2,534.6 L399.2,536.4 L402.2,538.2 L405.2,540.0 L408.2,541.7 L411.2,543.4 L414.2,545.0 L417.2,546.7 L420.2,548.2 L423.2,549.8 L426.2,551.3 L429.2,552.8 L432.2,554.2 L435.2,555.6 L438.2,557.0 L441.2,558.4 L444.2,559.7 L447.2,561.0 L450.2,562.3 L453.2,563.5 L456.2,564.8 L459.2,566.0 L462.2,567.2 L465.2,568.4 L468.2,569.5 L471.2,570.7 L474.2,571.8 L477.2,572.9 L480.2,574.0 L483.2,575.1 L486.2,576.2 L489.2,577.2 L492.2,578.3 L495.2,579.3 L498.2,580.3 L501.2,581.3 L504.2,582.3 L507.2,583.3 L510.2,584.3 L513.2,585.3 L516.2,586.2 L519.2,587.2 L522.2,588.1 L525.2,589.1 L528.2,590.0 L531.2,590.9 L534.2,591.8 L537.2,592.7 L540.2,593.6 L543.2,594.5 L546.2,595.3 L549.2,596.2 L552.2,597.0 L555.2,597.8 L558.2,598.6 L561.2,599.4 L564.2,600.2 L567.2,601.0 L570.2,601.7 L573.2,602.5 L576.2,603.2 L579.2,603.9 L582.2,604.6 L585.2,605.3 L588.2,605.9 L591.2,606.6 L594.2,607.2 L597.2,607.8 L600.2,608.4 L603.2,609.0 L606.2,609.6 L609.2,610.2 L612.2,610.7 L615.2,611.2 L618.2,611.8 L621.2,612.3 L624.2,612.7 L627.2,613.2 L630.2,613.7 L633.2,614.1 L636.2,614.5 L639.2,615.0 L642.2,615.4 L645.2,615.8 L648.2,616.2 L651.2,616.5 L654.2,616.9 L657.2,617.2 L660.2,617.6 L663.2,617.9 L666.2,618.2 L669.2,618.5 L672.2,618.8 L675.2,619.1 L678.2,619.4 L681.2,619.7 L684.2,620.0 L687.2,620.2 L690.2,620.5 L693.2,620.7 L696.2,620.9 L699.2,621.2 L702.2,621.4 L705.2,621.6 L708.2,621.8 L711.2,622.0 L714.2,622.2 L717.2,622.4 L720.2,622.5 L723.2,622.7 L726.2,622.9 L729.2,623.0 L732.2,623.2 L735.2,623.3 L738.2,623.4 L741.2,623.5 L744.2,623.7 L747.2,623.8 L750.2,623.9 L753.2,624.0 L756.2,624.1 L759.2,624.1 L762.2,624.2 L765.2,624.3 L768.2,624.3 L771.2,624.4 L774.2,624.4 L777.2,624.5 L780.2,624.5 L783.2,624.5 L786.2,624.5 L789.2,624.5 L792.2,624.5 L795.2,624.5 L798.2,624.5 L801.2,624.5 L804.2,624.5 L807.2,624.4 L810.2,624.4 L813.2,624.3 L816.2,624.3 L819.2,624.2 L822.2,624.1 L825.2,624.0 L828.2,623.9 L831.2,623.8 L834.2,623.7 L837.2,623.6 L840.2,623.5 L843.2,623.3 L846.2,623.2 L849.2,623.0 L852.2,622.9 L855.2,622.7 L858.2,622.5 L861.2,622.4 L864.2,622.2 L867.2,622.0 L870.2,621.8 L873.2,621.5 L876.2,621.3 L879.2,621.1 L882.2,620.8 L885.2,620.6 L888.2,620.3 L891.2,620.0 L894.2,619.8 L897.2,619.5 L900.2,619.2 L903.2,618.9 L906.2,618.5 L909.2,618.2 L912.2,617.9 L915.2,617.5 L918.2,617.2 L921.2,616.8 L924.2,616.4 L927.2,616.1 L930.2,615.7 L933.2,615.3 L936.2,614.9 L939.2,614.4 L942.2,614.0 L945.2,613.6 L948.2,613.1 L951.2,612.6 L954.2,612.2 L957.2,611.7 L960.2,611.2 L963.2,610.7 L966.2,610.2 L969.2,609.6 L972.2,609.1 L975.2,608.6 L978.2,608.0 L981.2,607.4 L984.2,606.8 L987.2,606.3 L990.2,605.7 L993.2,605.0 L996.2,604.4 L999.2,603.8 L1002.2,603.1 L1005.2,602.5 L1008.2,601.8 L1011.2,601.1 L1014.2,600.4 L1017.2,599.7 L1020.2,599.0 L1023.2,598.3 L1026.2,597.5 L1029.2,596.8 L1032.2,596.0 L1035.2,595.2 L1038.2,594.5 L1041.2,593.7 L1044.2,592.8 L1047.2,592.0 L1050.2,591.2 L1053.2,590.3 L1056.2,589.5 L1059.2,588.6 L1062.2,587.7 L1065.2,586.8 L1068.2,585.9 L1071.2,585.0 L1074.2,584.0 L1077.2,583.1 L1080.2,582.1 L1083.2,581.1 L1086.2,580.1 L1089.2,579.1 L1092.2,578.1 L1095.2,577.1 L1098.2,576.0 L1101.2,575.0 L1104.2,573.9 L1107.2,572.8 L1110.2,571.7 L1113.2,570.6 L1116.2,569.4 L1119.2,568.3 L1122.2,567.1 L1125.2,566.0 L1128.2,564.8 L1131.2,563.6 L1134.2,562.4 L1137.2,561.1 L1140.2,559.9 L1143.2,558.6 L1146.2,557.3 L1149.2,556.0 L1152.2,554.7 L1155.2,553.4 L1158.2,552.1 L1161.2,550.7 L1164.2,549.3 L1167.2,547.9 L1170.2,546.5 L1173.2,545.0 L1176.2,543.6 L1179.2,542.1 L1182.2,540.5 L1185.2,539.0 L1188.2,537.4 L1191.2,535.8 L1194.2,534.2 L1197.2,532.5 L1200.2,530.8 L1203.2,529.1 L1206.2,527.4 L1209.2,525.6 L1212.2,523.8 L1215.2,521.9 L1218.2,520.0 L1221.2,518.1 L1224.2,516.2 L1227.2,514.2 L1230.2,512.1 L1233.2,510.1 L1236.2,508.0 L1239.2,505.8 L1242.2,503.6 L1245.2,501.4 L1248.2,499.1 L1251.2,496.8 L1254.2,494.4 L1257.2,492.0 L1260.2,489.5 L1263.2,487.0 L1266.2,484.5 L1269.2,481.9 L1272.2,479.2 L1275.2,476.5 L1278.2,473.8 L1281.2,471.0 L1284.2,468.1 L1287.2,465.2 L1290.2,462.3 L1293.2,459.2 L1296.2,456.2 L1299.2,453.0 L1302.2,449.8 L1305.2,446.6 L1308.2,443.3 L1311.2,439.9 L1314.2,436.5 L1317.2,433.0 L1320.2,429.4 L1323.2,425.8 L1326.2,422.1 L1329.2,418.4 L1332.2,414.6 L1335.2,410.7 L1338.2,406.8 L1341.2,402.7 L1344.2,398.7 L1347.2,394.5 L1350.2,390.3 L1353.2,386.0 L1356.2,381.6 L1359.2,377.2 L1362.2,372.7 L1365.2,368.1 L1368.2,363.4 L1371.2,358.7 L1374.2,353.8 L1377.2,348.9 L1380.2,344.0 L1383.2,338.9 L1386.2,333.8 L1389.2,328.5 L1392.2,323.2 L1395.2,317.9 L1398.2,312.4 L1401.2,306.8 L1404.2,301.2 L1407.2,295.6 L1410.2,289.8 L1413.2,284.1 L1416.2,278.3 L1419.2,272.4 L1422.2,266.5 L1425.2,260.7 L1428.2,254.8 L1431.2,248.8 L1434.2,242.9 L1437.2,237.0 L1440.2,231.1 L1443.2,225.3 L1446.2,219.4 L1449.2,213.6 L1452.2,207.8 L1455.2,202.1 L1458.2,196.4 L1461.2,190.8 L1464.2,185.3 L1467.2,179.8 L1470.2,174.4 L1473.2,169.1 L1476.2,163.9 L1479.2,158.8 L1482.2,153.8 L1485.2,148.9 L1488.2,144.2 L1491.2,139.5 L1494.2,135.0 L1497.2,130.7 L1500.2,126.5 L1503.2,122.4 L1506.2,118.5 L1509.2,114.8 L1512.2,111.2 L1515.2,107.9 L1518.2,104.7 L1521.2,101.8 L1524.2,99.2 L1527.2,96.8 L1530.2,94.7 L1533.2,92.9 L1536.2,91.4 L1539.2,90.2 L1542.2,89.4 L1545.2,89.0 L1548.2,88.9 L1551.2,89.3 L1554.2,90.0 L1557.2,91.3 L1560.2,92.9 L1563.2,95.1 L1566.2,97.7 L1569.2,100.8 L1572.2,104.4 L1575.2,108.6 L1578.2,113.1 L1581.2,118.2 L1584.2,123.6 L1587.2,129.5 L1590.2,135.8 L1593.2,142.6 L1596.2,149.7 L1599.2,157.2 L1602.2,165.0 L1605.2,173.2 L1608.2,181.8 L1611.2,190.7 L1614.2,199.9 L1617.2,209.4 L1620.2,219.2 L1623.2,229.2 L1626.2,239.5 L1629.2,250.0 L1632.2,260.7 L1635.2,271.7 L1638.2,282.7 L1641.2,293.9 L1644.2,305.3 L1647.2,316.7 L1650.2,328.3 L1653.2,339.9 L1656.2,351.5 L1659.2,363.2 L1662.2,374.9 L1665.2,386.6 L1668.2,398.2 L1671.2,409.8 L1674.2,421.4 L1677.2,432.8 L1680.2,444.2 L1683.2,455.4 L1686.2,466.4 L1689.2,477.4 L1692.2,488.1 L1695.2,498.6 L1698.2,509.0 L1701.2,519.1 L1704.2,529.1 L1707.2,538.8 L1710.2,548.4 L1713.2,557.7 L1716.2,566.9 L1719.2,575.8 L1722.2,584.5 L1725.2,593.1 L1728.2,601.4 L1731.2,609.6 L1734.2,617.7 L1737.2,625.5 L1740.2,633.2 L1743.2,640.8 L1746.2,648.3 L1749.2,655.6 L1752.2,662.8 L1755.2,669.8 L1758.2,676.7 L1761.2,683.6 L1764.2,690.3 L1767.2,696.9 L1770.2,703.4 L1773.2,709.8 L1776.2,716.2 L1779.2,722.4 L1782.2,728.6 L1785.2,734.7 L1788.2,740.7 L1791.2,746.6 L1794.2,752.5 L1797.2,758.4 L1800.2,764.2 L1803.2,769.9 L1806.2,775.6 L1809.2,781.3 L1812.2,786.9 L1815.2,792.5 L1818.2,798.1 L1820.0,801.4 L1820.0,814.1 L1818.2,811.0 L1815.2,805.8 L1812.2,800.6 L1809.2,795.4 L1806.2,790.1 L1803.2,784.8 L1800.2,779.5 L1797.2,774.1 L1794.2,768.7 L1791.2,763.2 L1788.2,757.7 L1785.2,752.1 L1782.2,746.4 L1779.2,740.7 L1776.2,734.9 L1773.2,729.0 L1770.2,723.1 L1767.2,717.0 L1764.2,710.9 L1761.2,704.6 L1758.2,698.3 L1755.2,691.9 L1752.2,685.3 L1749.2,678.6 L1746.2,671.8 L1743.2,664.9 L1740.2,657.9 L1737.2,650.7 L1734.2,643.4 L1731.2,636.0 L1728.2,628.4 L1725.2,620.6 L1722.2,612.7 L1719.2,604.6 L1716.2,596.3 L1713.2,587.8 L1710.2,579.1 L1707.2,570.2 L1704.2,561.2 L1701.2,551.9 L1698.2,542.5 L1695.2,532.9 L1692.2,523.1 L1689.2,513.1 L1686.2,503.0 L1683.2,492.7 L1680.2,482.3 L1677.2,471.7 L1674.2,461.1 L1671.2,450.4 L1668.2,439.6 L1665.2,428.8 L1662.2,417.9 L1659.2,407.1 L1656.2,396.2 L1653.2,385.4 L1650.2,374.6 L1647.2,363.9 L1644.2,353.3 L1641.2,342.8 L1638.2,332.3 L1635.2,322.1 L1632.2,311.9 L1629.2,302.0 L1626.2,292.2 L1623.2,282.7 L1620.2,273.3 L1617.2,264.2 L1614.2,255.4 L1611.2,246.9 L1608.2,238.6 L1605.2,230.7 L1602.2,223.0 L1599.2,215.7 L1596.2,208.8 L1593.2,202.2 L1590.2,195.9 L1587.2,190.0 L1584.2,184.6 L1581.2,179.5 L1578.2,174.8 L1575.2,170.6 L1572.2,166.7 L1569.2,163.4 L1566.2,160.5 L1563.2,158.0 L1560.2,156.0 L1557.2,154.5 L1554.2,153.4 L1551.2,152.6 L1548.2,152.3 L1545.2,152.3 L1542.2,152.8 L1539.2,153.5 L1536.2,154.6 L1533.2,156.0 L1530.2,157.6 L1527.2,159.6 L1524.2,161.8 L1521.2,164.3 L1518.2,167.0 L1515.2,169.9 L1512.2,173.0 L1509.2,176.3 L1506.2,179.8 L1503.2,183.4 L1500.2,187.2 L1497.2,191.1 L1494.2,195.1 L1491.2,199.3 L1488.2,203.6 L1485.2,208.0 L1482.2,212.5 L1479.2,217.2 L1476.2,221.9 L1473.2,226.8 L1470.2,231.7 L1467.2,236.7 L1464.2,241.8 L1461.2,246.9 L1458.2,252.1 L1455.2,257.4 L1452.2,262.7 L1449.2,268.1 L1446.2,273.5 L1443.2,278.9 L1440.2,284.3 L1437.2,289.8 L1434.2,295.3 L1431.2,300.8 L1428.2,306.3 L1425.2,311.7 L1422.2,317.2 L1419.2,322.7 L1416.2,328.1 L1413.2,333.5 L1410.2,338.8 L1407.2,344.2 L1404.2,349.4 L1401.2,354.6 L1398.2,359.8 L1395.2,364.8 L1392.2,369.9 L1389.2,374.8 L1386.2,379.6 L1383.2,384.4 L1380.2,389.1 L1377.2,393.7 L1374.2,398.3 L1371.2,402.7 L1368.2,407.1 L1365.2,411.5 L1362.2,415.7 L1359.2,419.9 L1356.2,424.1 L1353.2,428.1 L1350.2,432.1 L1347.2,436.0 L1344.2,439.9 L1341.2,443.7 L1338.2,447.4 L1335.2,451.1 L1332.2,454.7 L1329.2,458.2 L1326.2,461.7 L1323.2,465.1 L1320.2,468.5 L1317.2,471.8 L1314.2,475.0 L1311.2,478.2 L1308.2,481.3 L1305.2,484.4 L1302.2,487.4 L1299.2,490.3 L1296.2,493.3 L1293.2,496.1 L1290.2,498.9 L1287.2,501.7 L1284.2,504.4 L1281.2,507.0 L1278.2,509.6 L1275.2,512.2 L1272.2,514.7 L1269.2,517.1 L1266.2,519.6 L1263.2,521.9 L1260.2,524.2 L1257.2,526.5 L1254.2,528.8 L1251.2,531.0 L1248.2,533.1 L1245.2,535.2 L1242.2,537.3 L1239.2,539.3 L1236.2,541.3 L1233.2,543.3 L1230.2,545.2 L1227.2,547.1 L1224.2,548.9 L1221.2,550.7 L1218.2,552.5 L1215.2,554.3 L1212.2,556.0 L1209.2,557.7 L1206.2,559.3 L1203.2,561.0 L1200.2,562.5 L1197.2,564.1 L1194.2,565.6 L1191.2,567.2 L1188.2,568.6 L1185.2,570.1 L1182.2,571.5 L1179.2,572.9 L1176.2,574.3 L1173.2,575.7 L1170.2,577.0 L1167.2,578.4 L1164.2,579.7 L1161.2,581.0 L1158.2,582.2 L1155.2,583.5 L1152.2,584.7 L1149.2,585.9 L1146.2,587.1 L1143.2,588.3 L1140.2,589.5 L1137.2,590.6 L1134.2,591.8 L1131.2,592.9 L1128.2,594.0 L1125.2,595.1 L1122.2,596.2 L1119.2,597.3 L1116.2,598.3 L1113.2,599.4 L1110.2,600.4 L1107.2,601.4 L1104.2,602.4 L1101.2,603.4 L1098.2,604.4 L1095.2,605.4 L1092.2,606.3 L1089.2,607.3 L1086.2,608.2 L1083.2,609.1 L1080.2,610.0 L1077.2,610.9 L1074.2,611.8 L1071.2,612.7 L1068.2,613.5 L1065.2,614.4 L1062.2,615.2 L1059.2,616.1 L1056.2,616.9 L1053.2,617.7 L1050.2,618.4 L1047.2,619.2 L1044.2,620.0 L1041.2,620.7 L1038.2,621.5 L1035.2,622.2 L1032.2,622.9 L1029.2,623.6 L1026.2,624.3 L1023.2,625.0 L1020.2,625.7 L1017.2,626.3 L1014.2,627.0 L1011.2,627.6 L1008.2,628.3 L1005.2,628.9 L1002.2,629.5 L999.2,630.1 L996.2,630.7 L993.2,631.2 L990.2,631.8 L987.2,632.4 L984.2,632.9 L981.2,633.4 L978.2,634.0 L975.2,634.5 L972.2,635.0 L969.2,635.5 L966.2,636.0 L963.2,636.4 L960.2,636.9 L957.2,637.4 L954.2,637.8 L951.2,638.2 L948.2,638.7 L945.2,639.1 L942.2,639.5 L939.2,639.9 L936.2,640.3 L933.2,640.7 L930.2,641.0 L927.2,641.4 L924.2,641.7 L921.2,642.1 L918.2,642.4 L915.2,642.8 L912.2,643.1 L909.2,643.4 L906.2,643.7 L903.2,644.0 L900.2,644.3 L897.2,644.5 L894.2,644.8 L891.2,645.0 L888.2,645.3 L885.2,645.5 L882.2,645.8 L879.2,646.0 L876.2,646.2 L873.2,646.4 L870.2,646.6 L867.2,646.8 L864.2,647.0 L861.2,647.2 L858.2,647.3 L855.2,647.5 L852.2,647.6 L849.2,647.8 L846.2,647.9 L843.2,648.1 L840.2,648.2 L837.2,648.3 L834.2,648.4 L831.2,648.5 L828.2,648.6 L825.2,648.7 L822.2,648.8 L819.2,648.8 L816.2,648.9 L813.2,648.9 L810.2,649.0 L807.2,649.0 L804.2,649.1 L801.2,649.1 L798.2,649.1 L795.2,649.1 L792.2,649.2 L789.2,649.2 L786.2,649.1 L783.2,649.1 L780.2,649.1 L777.2,649.1 L774.2,649.1 L771.2,649.0 L768.2,649.0 L765.2,648.9 L762.2,648.9 L759.2,648.8 L756.2,648.7 L753.2,648.7 L750.2,648.6 L747.2,648.5 L744.2,648.4 L741.2,648.3 L738.2,648.2 L735.2,648.1 L732.2,647.9 L729.2,647.8 L726.2,647.7 L723.2,647.5 L720.2,647.4 L717.2,647.2 L714.2,647.1 L711.2,646.9 L708.2,646.8 L705.2,646.6 L702.2,646.4 L699.2,646.2 L696.2,646.0 L693.2,645.8 L690.2,645.6 L687.2,645.4 L684.2,645.2 L681.2,644.9 L678.2,644.7 L675.2,644.5 L672.2,644.2 L669.2,644.0 L666.2,643.7 L663.2,643.4 L660.2,643.1 L657.2,642.8 L654.2,642.5 L651.2,642.2 L648.2,641.9 L645.2,641.6 L642.2,641.3 L639.2,640.9 L636.2,640.6 L633.2,640.2 L630.2,639.8 L627.2,639.4 L624.2,639.0 L621.2,638.6 L618.2,638.2 L615.2,637.8 L612.2,637.3 L609.2,636.9 L606.2,636.4 L603.2,635.9 L600.2,635.4 L597.2,634.9 L594.2,634.4 L591.2,633.9 L588.2,633.4 L585.2,632.8 L582.2,632.3 L579.2,631.7 L576.2,631.1 L573.2,630.5 L570.2,629.9 L567.2,629.3 L564.2,628.7 L561.2,628.0 L558.2,627.4 L555.2,626.7 L552.2,626.1 L549.2,625.4 L546.2,624.7 L543.2,624.0 L540.2,623.3 L537.2,622.6 L534.2,621.9 L531.2,621.2 L528.2,620.5 L525.2,619.7 L522.2,619.0 L519.2,618.2 L516.2,617.5 L513.2,616.7 L510.2,615.9 L507.2,615.2 L504.2,614.4 L501.2,613.6 L498.2,612.8 L495.2,612.0 L492.2,611.2 L489.2,610.4 L486.2,609.5 L483.2,608.7 L480.2,607.9 L477.2,607.0 L474.2,606.1 L471.2,605.3 L468.2,604.4 L465.2,603.5 L462.2,602.6 L459.2,601.6 L456.2,600.7 L453.2,599.7 L450.2,598.8 L447.2,597.8 L444.2,596.8 L441.2,595.7 L438.2,594.7 L435.2,593.6 L432.2,592.5 L429.2,591.4 L426.2,590.3 L423.2,589.1 L420.2,588.0 L417.2,586.8 L414.2,585.5 L411.2,584.3 L408.2,583.0 L405.2,581.7 L402.2,580.3 L399.2,579.0 L396.2,577.6 L393.2,576.1 L390.2,574.7 L387.2,573.2 L384.2,571.7 L381.2,570.1 L378.2,568.5 L272.3,475.3 L204.4,378.8Z" fill="#b4b4b4"/>
<path d="M204.4,299.6 L272.3,426.5 L378.2,532.7 L381.2,534.7 L384.2,536.6 L387.2,538.5 L390.2,540.4 L393.2,542.2 L396.2,544.0 L399.2,545.8 L402.2,547.5 L405.2,549.2 L408.2,550.8 L411.2,552.4 L414.2,554.0 L417.2,555.6 L420.2,557.1 L423.2,558.5 L426.2,560.0 L429.2,561.4 L432.2,562.8 L435.2,564.1 L438.2,565.5 L441.2,566.8 L444.2,568.0 L447.2,569.3 L450.2,570.5 L453.2,571.7 L456.2,572.9 L459.2,574.1 L462.2,575.2 L465.2,576.4 L468.2,577.5 L471.2,578.6 L474.2,579.7 L477.2,580.7 L480.2,581.8 L483.2,582.8 L486.2,583.8 L489.2,584.9 L492.2,585.9 L495.2,586.9 L498.2,587.8 L501.2,588.8 L504.2,589.8 L507.2,590.7 L510.2,591.7 L513.2,592.6 L516.2,593.6 L519.2,594.5 L522.2,595.4 L525.2,596.3 L528.2,597.2 L531.2,598.1 L534.2,598.9 L537.2,599.8 L540.2,600.7 L543.2,601.5 L546.2,602.3 L549.2,603.2 L552.2,604.0 L555.2,604.8 L558.2,605.5 L561.2,606.3 L564.2,607.1 L567.2,607.8 L570.2,608.6 L573.2,609.3 L576.2,610.0 L579.2,610.7 L582.2,611.3 L585.2,612.0 L588.2,612.6 L591.2,613.3 L594.2,613.9 L597.2,614.5 L600.2,615.1 L603.2,615.7 L606.2,616.2 L609.2,616.8 L612.2,617.3 L615.2,617.8 L618.2,618.3 L621.2,618.8 L624.2,619.3 L627.2,619.7 L630.2,620.2 L633.2,620.6 L636.2,621.1 L639.2,621.5 L642.2,621.9 L645.2,622.3 L648.2,622.6 L651.2,623.0 L654.2,623.4 L657.2,623.7 L660.2,624.0 L663.2,624.4 L666.2,624.7 L669.2,625.0 L672.2,625.3 L675.2,625.6 L678.2,625.8 L681.2,626.1 L684.2,626.4 L687.2,626.6 L690.2,626.9 L693.2,627.1 L696.2,627.3 L699.2,627.6 L702.2,627.8 L705.2,628.0 L708.2,628.2 L711.2,628.4 L714.2,628.6 L717.2,628.7 L720.2,628.9 L723.2,629.1 L726.2,629.2 L729.2,629.4 L732.2,629.5 L735.2,629.7 L738.2,629.8 L741.2,629.9 L744.2,630.0 L747.2,630.1 L750.2,630.2 L753.2,630.3 L756.2,630.4 L759.2,630.5 L762.2,630.6 L765.2,630.6 L768.2,630.7 L771.2,630.8 L774.2,630.8 L777.2,630.8 L780.2,630.9 L783.2,630.9 L786.2,630.9 L789.2,630.9 L792.2,630.9 L795.2,630.9 L798.2,630.9 L801.2,630.9 L804.2,630.9 L807.2,630.8 L810.2,630.8 L813.2,630.7 L816.2,630.7 L819.2,630.6 L822.2,630.5 L825.2,630.4 L828.2,630.4 L831.2,630.3 L834.2,630.2 L837.2,630.0 L840.2,629.9 L843.2,629.8 L846.2,629.7 L849.2,629.5 L852.2,629.4 L855.2,629.2 L858.2,629.0 L861.2,628.8 L864.2,628.7 L867.2,628.5 L870.2,628.3 L873.2,628.0 L876.2,627.8 L879.2,627.6 L882.2,627.4 L885.2,627.1 L888.2,626.9 L891.2,626.6 L894.2,626.3 L897.2,626.0 L900.2,625.7 L903.2,625.4 L906.2,625.1 L909.2,624.8 L912.2,624.5 L915.2,624.2 L918.2,623.8 L921.2,623.4 L924.2,623.1 L927.2,622.7 L930.2,622.3 L933.2,621.9 L936.2,621.5 L939.2,621.1 L942.2,620.7 L945.2,620.3 L948.2,619.8 L951.2,619.4 L954.2,618.9 L957.2,618.4 L960.2,617.9 L963.2,617.4 L966.2,616.9 L969.2,616.4 L972.2,615.9 L975.2,615.4 L978.2,614.8 L981.2,614.3 L984.2,613.7 L987.2,613.1 L990.2,612.5 L993.2,611.9 L996.2,611.3 L999.2,610.7 L1002.2,610.1 L1005.2,609.4 L1008.2,608.8 L1011.2,608.1 L1014.2,607.4 L1017.2,606.7 L1020.2,606.0 L1023.2,605.3 L1026.2,604.6 L1029.2,603.8 L1032.2,603.1 L1035.2,602.3 L1038.2,601.6 L1041.2,600.8 L1044.2,600.0 L1047.2,599.2 L1050.2,598.4 L1053.2,597.5 L1056.2,596.7 L1059.2,595.8 L1062.2,594.9 L1065.2,594.1 L1068.2,593.2 L1071.2,592.3 L1074.2,591.3 L1077.2,590.4 L1080.2,589.5 L1083.2,588.5 L1086.2,587.5 L1089.2,586.5 L1092.2,585.5 L1095.2,584.5 L1098.2,583.5 L1101.2,582.5 L1104.2,581.4 L1107.2,580.3 L1110.2,579.3 L1113.2,578.2 L1116.2,577.0 L1119.2,575.9 L1122.2,574.8 L1125.2,573.6 L1128.2,572.5 L1131.2,571.3 L1134.2,570.1 L1137.2,568.9 L1140.2,567.7 L1143.2,566.4 L1146.2,565.2 L1149.2,563.9 L1152.2,562.6 L1155.2,561.3 L1158.2,560.0 L1161.2,558.7 L1164.2,557.3 L1167.2,555.9 L1170.2,554.5 L1173.2,553.1 L1176.2,551.7 L1179.2,550.2 L1182.2,548.7 L1185.2,547.2 L1188.2,545.6 L1191.2,544.1 L1194.2,542.5 L1197.2,540.8 L1200.2,539.2 L1203.2,537.5 L1206.2,535.8 L1209.2,534.0 L1212.2,532.3 L1215.2,530.4 L1218.2,528.6 L1221.2,526.7 L1224.2,524.8 L1227.2,522.8 L1230.2,520.8 L1233.2,518.8 L1236.2,516.7 L1239.2,514.6 L1242.2,512.5 L1245.2,510.3 L1248.2,508.1 L1251.2,505.8 L1254.2,503.5 L1257.2,501.1 L1260.2,498.7 L1263.2,496.2 L1266.2,493.7 L1269.2,491.2 L1272.2,488.6 L1275.2,485.9 L1278.2,483.2 L1281.2,480.5 L1284.2,477.7 L1287.2,474.8 L1290.2,471.9 L1293.2,469.0 L1296.2,465.9 L1299.2,462.9 L1302.2,459.7 L1305.2,456.5 L1308.2,453.3 L1311.2,450.0 L1314.2,446.6 L1317.2,443.2 L1320.2,439.7 L1323.2,436.2 L1326.2,432.6 L1329.2,428.9 L1332.2,425.1 L1335.2,421.3 L1338.2,417.5 L1341.2,413.5 L1344.2,409.5 L1347.2,405.4 L1350.2,401.3 L1353.2,397.1 L1356.2,392.8 L1359.2,388.4 L1362.2,384.0 L1365.2,379.5 L1368.2,374.9 L1371.2,370.3 L1374.2,365.5 L1377.2,360.7 L1380.2,355.8 L1383.2,350.9 L1386.2,345.8 L1389.2,340.7 L1392.2,335.5 L1395.2,330.2 L1398.2,324.9 L1401.2,319.4 L1404.2,313.9 L1407.2,308.4 L1410.2,302.8 L1413.2,297.1 L1416.2,291.4 L1419.2,285.7 L1422.2,279.9 L1425.2,274.1 L1428.2,268.3 L1431.2,262.5 L1434.2,256.7 L1437.2,250.9 L1440.2,245.1 L1443.2,239.4 L1446.2,233.7 L1449.2,228.0 L1452.2,222.3 L1455.2,216.7 L1458.2,211.1 L1461.2,205.6 L1464.2,200.2 L1467.2,194.8 L1470.2,189.5 L1473.2,184.3 L1476.2,179.2 L1479.2,174.2 L1482.2,169.3 L1485.2,164.5 L1488.2,159.8 L1491.2,155.3 L1494.2,150.9 L1497.2,146.6 L1500.2,142.5 L1503.2,138.5 L1506.2,134.7 L1509.2,131.0 L1512.2,127.5 L1515.2,124.2 L1518.2,121.1 L1521.2,118.3 L1524.2,115.7 L1527.2,113.3 L1530.2,111.3 L1533.2,109.5 L1536.2,108.0 L1539.2,106.9 L1542.2,106.1 L1545.2,105.7 L1548.2,105.6 L1551.2,106.0 L1554.2,106.7 L1557.2,107.9 L1560.2,109.5 L1563.2,111.6 L1566.2,114.2 L1569.2,117.3 L1572.2,120.9 L1575.2,124.9 L1578.2,129.4 L1581.2,134.3 L1584.2,139.7 L1587.2,145.5 L1590.2,151.7 L1593.2,158.3 L1596.2,165.2 L1599.2,172.6 L1602.2,180.3 L1605.2,188.4 L1608.2,196.8 L1611.2,205.5 L1614.2,214.5 L1617.2,223.8 L1620.2,233.4 L1623.2,243.3 L1626.2,253.4 L1629.2,263.7 L1632.2,274.2 L1635.2,284.9 L1638.2,295.8 L1641.2,306.8 L1644.2,317.9 L1647.2,329.2 L1650.2,340.5 L1653.2,351.9 L1656.2,363.3 L1659.2,374.8 L1662.2,386.2 L1665.2,397.7 L1668.2,409.1 L1671.2,420.5 L1674.2,431.8 L1677.2,443.1 L1680.2,454.2 L1683.2,465.2 L1686.2,476.1 L1689.2,486.8 L1692.2,497.3 L1695.2,507.6 L1698.2,517.8 L1701.2,527.8 L1704.2,537.5 L1707.2,547.1 L1710.2,556.5 L1713.2,565.7 L1716.2,574.6 L1719.2,583.4 L1722.2,592.0 L1725.2,600.3 L1728.2,608.5 L1731.2,616.6 L1734.2,624.4 L1737.2,632.2 L1740.2,639.7 L1743.2,647.2 L1746.2,654.5 L1749.2,661.6 L1752.2,668.7 L1755.2,675.6 L1758.2,682.4 L1761.2,689.1 L1764.2,695.7 L1767.2,702.2 L1770.2,708.6 L1773.2,714.9 L1776.2,721.1 L1779.2,727.2 L1782.2,733.3 L1785.2,739.3 L1788.2,745.2 L1791.2,751.0 L1794.2,756.8 L1797.2,762.5 L1800.2,768.2 L1803.2,773.8 L1806.2,779.4 L1809.2,785.0 L1812.2,790.5 L1815.2,796.0 L1818.2,801.5 L1820.0,804.8 L1820.0,810.8 L1818.2,807.6 L1815.2,802.3 L1812.2,797.0 L1809.2,791.7 L1806.2,786.3 L1803.2,780.9 L1800.2,775.4 L1797.2,770.0 L1794.2,764.4 L1791.2,758.8 L1788.2,753.2 L1785.2,747.5 L1782.2,741.7 L1779.2,735.9 L1776.2,730.0 L1773.2,724.0 L1770.2,717.9 L1767.2,711.7 L1764.2,705.4 L1761.2,699.1 L1758.2,692.6 L1755.2,686.0 L1752.2,679.4 L1749.2,672.6 L1746.2,665.6 L1743.2,658.6 L1740.2,651.4 L1737.2,644.1 L1734.2,636.6 L1731.2,629.0 L1728.2,621.3 L1725.2,613.3 L1722.2,605.3 L1719.2,597.0 L1716.2,588.5 L1713.2,579.9 L1710.2,571.0 L1707.2,561.9 L1704.2,552.7 L1701.2,543.3 L1698.2,533.6 L1695.2,523.8 L1692.2,513.9 L1689.2,503.7 L1686.2,493.4 L1683.2,482.9 L1680.2,472.2 L1677.2,461.5 L1674.2,450.6 L1671.2,439.7 L1668.2,428.7 L1665.2,417.7 L1662.2,406.6 L1659.2,395.5 L1656.2,384.4 L1653.2,373.4 L1650.2,362.4 L1647.2,351.5 L1644.2,340.6 L1641.2,329.9 L1638.2,319.3 L1635.2,308.8 L1632.2,298.4 L1629.2,288.3 L1626.2,278.3 L1623.2,268.6 L1620.2,259.1 L1617.2,249.8 L1614.2,240.8 L1611.2,232.1 L1608.2,223.6 L1605.2,215.5 L1602.2,207.7 L1599.2,200.3 L1596.2,193.2 L1593.2,186.5 L1590.2,180.1 L1587.2,174.1 L1584.2,168.5 L1581.2,163.3 L1578.2,158.6 L1575.2,154.2 L1572.2,150.3 L1569.2,146.9 L1566.2,143.9 L1563.2,141.4 L1560.2,139.4 L1557.2,137.8 L1554.2,136.7 L1551.2,135.9 L1548.2,135.6 L1545.2,135.6 L1542.2,136.1 L1539.2,136.8 L1536.2,137.9 L1533.2,139.3 L1530.2,141.1 L1527.2,143.0 L1524.2,145.3 L1521.2,147.8 L1518.2,150.6 L1515.2,153.6 L1512.2,156.7 L1509.2,160.1 L1506.2,163.6 L1503.2,167.3 L1500.2,171.2 L1497.2,175.2 L1494.2,179.3 L1491.2,183.5 L1488.2,187.9 L1485.2,192.4 L1482.2,197.1 L1479.2,201.8 L1476.2,206.6 L1473.2,211.6 L1470.2,216.6 L1467.2,221.7 L1464.2,226.9 L1461.2,232.1 L1458.2,237.4 L1455.2,242.8 L1452.2,248.2 L1449.2,253.7 L1446.2,259.2 L1443.2,264.7 L1440.2,270.3 L1437.2,275.9 L1434.2,281.5 L1431.2,287.1 L1428.2,292.7 L1425.2,298.3 L1422.2,303.9 L1419.2,309.4 L1416.2,315.0 L1413.2,320.5 L1410.2,325.9 L1407.2,331.4 L1404.2,336.7 L1401.2,342.0 L1398.2,347.3 L1395.2,352.5 L1392.2,357.6 L1389.2,362.6 L1386.2,367.5 L1383.2,372.4 L1380.2,377.2 L1377.2,381.9 L1374.2,386.6 L1371.2,391.1 L1368.2,395.6 L1365.2,400.0 L1362.2,404.4 L1359.2,408.7 L1356.2,412.9 L1353.2,417.0 L1350.2,421.1 L1347.2,425.1 L1344.2,429.0 L1341.2,432.9 L1338.2,436.7 L1335.2,440.4 L1332.2,444.1 L1329.2,447.7 L1326.2,451.3 L1323.2,454.7 L1320.2,458.2 L1317.2,461.5 L1314.2,464.8 L1311.2,468.1 L1308.2,471.3 L1305.2,474.4 L1302.2,477.5 L1299.2,480.5 L1296.2,483.5 L1293.2,486.4 L1290.2,489.3 L1287.2,492.1 L1284.2,494.8 L1281.2,497.5 L1278.2,500.2 L1275.2,502.8 L1272.2,505.3 L1269.2,507.9 L1266.2,510.3 L1263.2,512.7 L1260.2,515.1 L1257.2,517.4 L1254.2,519.7 L1251.2,522.0 L1248.2,524.1 L1245.2,526.3 L1242.2,528.4 L1239.2,530.5 L1236.2,532.5 L1233.2,534.5 L1230.2,536.5 L1227.2,538.4 L1224.2,540.3 L1221.2,542.2 L1218.2,544.0 L1215.2,545.8 L1212.2,547.5 L1209.2,549.2 L1206.2,550.9 L1203.2,552.6 L1200.2,554.2 L1197.2,555.8 L1194.2,557.4 L1191.2,558.9 L1188.2,560.4 L1185.2,561.9 L1182.2,563.4 L1179.2,564.8 L1176.2,566.2 L1173.2,567.6 L1170.2,569.0 L1167.2,570.3 L1164.2,571.7 L1161.2,573.0 L1158.2,574.3 L1155.2,575.5 L1152.2,576.8 L1149.2,578.0 L1146.2,579.3 L1143.2,580.5 L1140.2,581.7 L1137.2,582.8 L1134.2,584.0 L1131.2,585.2 L1128.2,586.3 L1125.2,587.4 L1122.2,588.5 L1119.2,589.6 L1116.2,590.7 L1113.2,591.8 L1110.2,592.8 L1107.2,593.9 L1104.2,594.9 L1101.2,595.9 L1098.2,596.9 L1095.2,597.9 L1092.2,598.9 L1089.2,599.9 L1086.2,600.8 L1083.2,601.8 L1080.2,602.7 L1077.2,603.6 L1074.2,604.5 L1071.2,605.4 L1068.2,606.3 L1065.2,607.1 L1062.2,608.0 L1059.2,608.8 L1056.2,609.7 L1053.2,610.5 L1050.2,611.3 L1047.2,612.1 L1044.2,612.8 L1041.2,613.6 L1038.2,614.4 L1035.2,615.1 L1032.2,615.8 L1029.2,616.6 L1026.2,617.3 L1023.2,618.0 L1020.2,618.7 L1017.2,619.3 L1014.2,620.0 L1011.2,620.7 L1008.2,621.3 L1005.2,621.9 L1002.2,622.6 L999.2,623.2 L996.2,623.8 L993.2,624.4 L990.2,624.9 L987.2,625.5 L984.2,626.1 L981.2,626.6 L978.2,627.1 L975.2,627.7 L972.2,628.2 L969.2,628.7 L966.2,629.2 L963.2,629.7 L960.2,630.2 L957.2,630.6 L954.2,631.1 L951.2,631.5 L948.2,632.0 L945.2,632.4 L942.2,632.8 L939.2,633.2 L936.2,633.6 L933.2,634.0 L930.2,634.4 L927.2,634.7 L924.2,635.1 L921.2,635.5 L918.2,635.8 L915.2,636.1 L912.2,636.5 L909.2,636.8 L906.2,637.1 L903.2,637.4 L900.2,637.7 L897.2,638.0 L894.2,638.2 L891.2,638.5 L888.2,638.8 L885.2,639.0 L882.2,639.2 L879.2,639.5 L876.2,639.7 L873.2,639.9 L870.2,640.1 L867.2,640.3 L864.2,640.5 L861.2,640.7 L858.2,640.9 L855.2,641.0 L852.2,641.2 L849.2,641.3 L846.2,641.5 L843.2,641.6 L840.2,641.7 L837.2,641.9 L834.2,642.0 L831.2,642.1 L828.2,642.2 L825.2,642.3 L822.2,642.3 L819.2,642.4 L816.2,642.5 L813.2,642.5 L810.2,642.6 L807.2,642.6 L804.2,642.7 L801.2,642.7 L798.2,642.7 L795.2,642.7 L792.2,642.8 L789.2,642.8 L786.2,642.8 L783.2,642.7 L780.2,642.7 L777.2,642.7 L774.2,642.7 L771.2,642.6 L768.2,642.6 L765.2,642.5 L762.2,642.5 L759.2,642.4 L756.2,642.4 L753.2,642.3 L750.2,642.2 L747.2,642.1 L744.2,642.0 L741.2,641.9 L738.2,641.8 L735.2,641.7 L732.2,641.6 L729.2,641.4 L726.2,641.3 L723.2,641.2 L720.2,641.0 L717.2,640.9 L714.2,640.7 L711.2,640.5 L708.2,640.4 L705.2,640.2 L702.2,640.0 L699.2,639.8 L696.2,639.6 L693.2,639.4 L690.2,639.2 L687.2,639.0 L684.2,638.8 L681.2,638.5 L678.2,638.3 L675.2,638.0 L672.2,637.8 L669.2,637.5 L666.2,637.2 L663.2,637.0 L660.2,636.7 L657.2,636.4 L654.2,636.1 L651.2,635.8 L648.2,635.4 L645.2,635.1 L642.2,634.8 L639.2,634.4 L636.2,634.0 L633.2,633.7 L630.2,633.3 L627.2,632.9 L624.2,632.5 L621.2,632.1 L618.2,631.6 L615.2,631.2 L612.2,630.7 L609.2,630.3 L606.2,629.8 L603.2,629.3 L600.2,628.8 L597.2,628.3 L594.2,627.8 L591.2,627.2 L588.2,626.7 L585.2,626.1 L582.2,625.5 L579.2,624.9 L576.2,624.3 L573.2,623.7 L570.2,623.1 L567.2,622.5 L564.2,621.8 L561.2,621.2 L558.2,620.5 L555.2,619.8 L552.2,619.1 L549.2,618.4 L546.2,617.7 L543.2,617.0 L540.2,616.3 L537.2,615.5 L534.2,614.8 L531.2,614.0 L528.2,613.3 L525.2,612.5 L522.2,611.7 L519.2,610.9 L516.2,610.2 L513.2,609.4 L510.2,608.6 L507.2,607.7 L504.2,606.9 L501.2,606.1 L498.2,605.3 L495.2,604.4 L492.2,603.6 L489.2,602.7 L486.2,601.9 L483.2,601.0 L480.2,600.1 L477.2,599.2 L474.2,598.3 L471.2,597.4 L468.2,596.4 L465.2,595.5 L462.2,594.5 L459.2,593.6 L456.2,592.6 L453.2,591.6 L450.2,590.5 L447.2,589.5 L444.2,588.4 L441.2,587.3 L438.2,586.2 L435.2,585.1 L432.2,584.0 L429.2,582.8 L426.2,581.6 L423.2,580.4 L420.2,579.1 L417.2,577.9 L414.2,576.6 L411.2,575.2 L408.2,573.9 L405.2,572.5 L402.2,571.1 L399.2,569.6 L396.2,568.1 L393.2,566.6 L390.2,565.1 L387.2,563.5 L384.2,561.9 L381.2,560.2 L378.2,558.5 L272.3,454.6 L204.4,353.5Z" fill="#4d4d4d"/>
<path d="M204.0,666.4 L207.0,666.4 L210.0,666.4 L213.0,666.3 L216.0,666.3 L219.0,666.3 L222.0,666.3 L225.0,666.3 L228.0,666.3 L231.0,666.2 L234.0,666.2 L237.0,666.2 L240.0,666.2 L243.0,666.2 L246.0,666.1 L249.0,666.1 L252.0,666.1 L255.0,666.1 L258.0,666.0 L261.0,666.0 L264.0,666.0 L267.0,665.9 L270.0,665.9 L273.0,665.9 L276.0,665.8 L279.0,665.8 L282.0,665.8 L285.0,665.7 L288.0,665.7 L291.0,665.7 L294.0,665.6 L297.0,665.6 L300.0,665.5 L303.0,665.5 L306.0,665.5 L309.0,665.4 L312.0,665.4 L315.0,665.3 L318.0,665.3 L321.0,665.2 L324.0,665.2 L327.0,665.1 L330.0,665.1 L333.0,665.0 L336.0,665.0 L339.0,664.9 L342.0,664.9 L345.0,664.8 L348.0,664.7 L351.0,664.7 L354.0,664.6 L357.0,664.6 L360.0,664.5 L363.0,664.4 L366.0,664.4 L369.0,664.3 L372.0,664.2 L375.0,664.2 L378.0,664.1 L381.0,664.0 L384.0,664.0 L387.0,663.9 L390.0,663.8 L393.0,663.7 L396.0,663.7 L399.0,663.6 L402.0,663.5 L405.0,663.4 L408.0,663.4 L411.0,663.3 L414.0,663.2 L417.0,663.1 L420.0,663.0 L423.0,663.0 L426.0,662.9 L429.0,662.8 L432.0,662.7 L435.0,662.6 L438.0,662.5 L441.0,662.4 L444.0,662.3 L447.0,662.3 L450.0,662.2 L453.0,662.1 L456.0,662.0 L459.0,661.9 L462.0,661.8 L465.0,661.7 L468.0,661.6 L471.0,661.5 L474.0,661.4 L477.0,661.3 L480.0,661.2 L483.0,661.1 L486.0,661.0 L489.0,660.9 L492.0,660.8 L495.0,660.6 L498.0,660.5 L501.0,660.4 L504.0,660.3 L507.0,660.2 L510.0,660.1 L513.0,660.0 L516.0,659.9 L519.0,659.7 L522.0,659.6 L525.0,659.5 L528.0,659.4 L531.0,659.3 L534.0,659.1 L537.0,659.0 L540.0,658.9 L543.0,658.8 L546.0,658.6 L549.0,658.5 L552.0,658.4 L555.0,658.3 L558.0,658.1 L561.0,658.0 L564.0,657.9 L567.0,657.7 L570.0,657.6 L573.0,657.5 L576.0,657.3 L579.0,657.2 L582.0,657.0 L585.0,656.9 L588.0,656.8 L591.0,656.6 L594.0,656.5 L597.0,656.3 L600.0,656.2 L603.0,656.0 L606.0,655.9 L609.0,655.7 L612.0,655.6 L615.0,655.4 L618.0,655.3 L621.0,655.1 L624.0,655.0 L627.0,654.8 L630.0,654.7 L633.0,654.5 L636.0,654.3 L639.0,654.2 L642.0,654.0 L645.0,653.9 L648.0,653.7 L651.0,653.5 L654.0,653.4 L657.0,653.2 L660.0,653.0 L663.0,652.9 L666.0,652.7 L669.0,652.5 L672.0,652.4 L675.0,652.2 L678.0,652.0 L681.0,651.8 L684.0,651.7 L687.0,651.5 L690.0,651.3 L693.0,651.1 L696.0,650.9 L699.0,650.8 L702.0,650.6 L705.0,650.4 L708.0,650.2 L711.0,650.0 L714.0,649.8 L717.0,649.6 L720.0,649.4 L723.0,649.3 L726.0,649.1 L729.0,648.9 L732.0,648.7 L735.0,648.5 L738.0,648.3 L741.0,648.1 L744.0,647.9 L747.0,647.6 L750.0,647.4 L753.0,647.2 L756.0,647.0 L759.0,646.8 L762.0,646.6 L765.0,646.3 L768.0,646.1 L771.0,645.9 L774.0,645.6 L777.0,645.4 L780.0,645.1 L783.0,644.9 L786.0,644.7 L789.0,644.4 L792.0,644.1 L795.0,643.9 L798.0,643.6 L801.0,643.4 L804.0,643.1 L807.0,642.8 L810.0,642.5 L813.0,642.2 L816.0,641.9 L819.0,641.6 L822.0,641.4 L825.0,641.0 L828.0,640.7 L831.0,640.4 L834.0,640.1 L837.0,639.8 L840.0,639.5 L843.0,639.1 L846.0,638.8 L849.0,638.4 L852.0,638.1 L855.0,637.7 L858.0,637.4 L861.0,637.0 L864.0,636.6 L867.0,636.2 L870.0,635.9 L873.0,635.5 L876.0,635.1 L879.0,634.7 L882.0,634.3 L885.0,633.8 L888.0,633.4 L891.0,633.0 L894.0,632.5 L897.0,632.1 L900.0,631.6 L903.0,631.2 L906.0,630.7 L909.0,630.3 L912.0,629.8 L915.0,629.3 L918.0,628.8 L921.0,628.3 L924.0,627.8 L927.0,627.3 L930.0,626.7 L933.0,626.2 L936.0,625.7 L939.0,625.1 L942.0,624.5 L945.0,624.0 L948.0,623.4 L951.0,622.8 L954.0,622.2 L957.0,621.6 L960.0,621.0 L963.0,620.4 L966.0,619.8 L969.0,619.1 L972.0,618.5 L975.0,617.8 L978.0,617.2 L981.0,616.5 L984.0,615.8 L987.0,615.1 L990.0,614.4 L993.0,613.7 L996.0,613.0 L999.0,612.3 L1002.0,611.5 L1005.0,610.8 L1008.0,610.0 L1011.0,609.2 L1014.0,608.4 L1017.0,607.7 L1020.0,606.9 L1023.0,606.0 L1026.0,605.2 L1029.0,604.4 L1032.0,603.5 L1035.0,602.7 L1038.0,601.8 L1041.0,600.9 L1044.0,600.0 L1047.0,599.1 L1050.0,598.2 L1053.0,597.3 L1056.0,596.4 L1059.0,595.4 L1062.0,594.4 L1065.0,593.5 L1068.0,592.5 L1071.0,591.5 L1074.0,590.5 L1077.0,589.5 L1080.0,588.4 L1083.0,587.4 L1086.0,586.3 L1089.0,585.3 L1092.0,584.2 L1095.0,583.1 L1098.0,582.0 L1101.0,580.9 L1104.0,579.7 L1107.0,578.6 L1110.0,577.4 L1113.0,576.2 L1116.0,575.0 L1119.0,573.8 L1122.0,572.6 L1125.0,571.4 L1128.0,570.2 L1131.0,568.9 L1134.0,567.6 L1137.0,566.3 L1140.0,565.0 L1143.0,563.7 L1146.0,562.4 L1149.0,561.1 L1152.0,559.7 L1155.0,558.3 L1158.0,556.9 L1161.0,555.5 L1164.0,554.1 L1167.0,552.7 L1170.0,551.2 L1173.0,549.7 L1176.0,548.2 L1179.0,546.6 L1182.0,545.1 L1185.0,543.5 L1188.0,541.9 L1191.0,540.2 L1194.0,538.6 L1197.0,536.9 L1200.0,535.1 L1203.0,533.4 L1206.0,531.6 L1209.0,529.8 L1212.0,527.9 L1215.0,526.0 L1218.0,524.1 L1221.0,522.2 L1224.0,520.2 L1227.0,518.2 L1230.0,516.1 L1233.0,514.0 L1236.0,511.9 L1239.0,509.7 L1242.0,507.5 L1245.0,505.2 L1248.0,502.9 L1251.0,500.5 L1254.0,498.2 L1257.0,495.7 L1260.0,493.2 L1263.0,490.7 L1266.0,488.1 L1269.0,485.5 L1272.0,482.8 L1275.0,480.1 L1278.0,477.3 L1281.0,474.5 L1284.0,471.6 L1287.0,468.7 L1290.0,465.7 L1293.0,462.7 L1296.0,459.6 L1299.0,456.4 L1302.0,453.2 L1305.0,450.0 L1308.0,446.6 L1311.0,443.2 L1314.0,439.8 L1317.0,436.3 L1320.0,432.7 L1323.0,429.1 L1326.0,425.4 L1329.0,421.6 L1332.0,417.8 L1335.0,413.9 L1338.0,410.0 L1341.0,405.9 L1344.0,401.8 L1347.0,397.7 L1350.0,393.4 L1353.0,389.1 L1356.0,384.7 L1359.0,380.3 L1362.0,375.8 L1365.0,371.2 L1368.0,366.5 L1371.0,361.7 L1374.0,356.9 L1377.0,352.0 L1380.0,347.0 L1383.0,341.9 L1386.0,336.8 L1389.0,331.6 L1392.0,326.2 L1395.0,320.8 L1398.0,315.4 L1401.0,309.8 L1404.0,304.2 L1407.0,298.5 L1410.0,292.8 L1413.0,287.0 L1416.0,281.2 L1419.0,275.3 L1422.0,269.5 L1425.0,263.6 L1428.0,257.6 L1431.0,251.7 L1434.0,245.8 L1437.0,239.9 L1440.0,234.0 L1443.0,228.1 L1446.0,222.2 L1449.0,216.4 L1452.0,210.6 L1455.0,204.9 L1458.0,199.2 L1461.0,193.6 L1464.0,188.0 L1467.0,182.5 L1470.0,177.1 L1473.0,171.8 L1476.0,166.5 L1479.0,161.4 L1482.0,156.4 L1485.0,151.5 L1488.0,146.7 L1491.0,142.0 L1494.0,137.5 L1497.0,133.1 L1500.0,128.9 L1503.0,124.8 L1506.0,120.9 L1509.0,117.1 L1512.0,113.5 L1515.0,110.2 L1518.0,107.0 L1521.0,104.0 L1524.0,101.3 L1527.0,98.9 L1530.0,96.8 L1533.0,94.9 L1536.0,93.4 L1539.0,92.2 L1542.0,91.3 L1545.0,90.8 L1548.0,90.7 L1551.0,91.0 L1554.0,91.7 L1557.0,92.9 L1560.0,94.5 L1563.0,96.6 L1566.0,99.2 L1569.0,102.2 L1572.0,105.8 L1575.0,109.8 L1578.0,114.4 L1581.0,119.3 L1584.0,124.7 L1587.0,130.6 L1590.0,136.8 L1593.0,143.5 L1596.0,150.6 L1599.0,158.0 L1602.0,165.8 L1605.0,174.0 L1608.0,182.5 L1611.0,191.3 L1614.0,200.5 L1617.0,209.9 L1620.0,219.7 L1623.0,229.7 L1626.0,239.9 L1629.0,250.4 L1632.0,261.0 L1635.0,271.9 L1638.0,282.9 L1641.0,294.1 L1644.0,305.4 L1647.0,316.8 L1650.0,328.3 L1653.0,339.9 L1656.0,351.5 L1659.0,363.2 L1662.0,374.8 L1665.0,386.5 L1668.0,398.1 L1671.0,409.7 L1674.0,421.2 L1677.0,432.7 L1680.0,444.0 L1683.0,455.2 L1686.0,466.3 L1689.0,477.2 L1692.0,487.9 L1695.0,498.4 L1698.0,508.8 L1701.0,518.9 L1704.0,528.9 L1707.0,538.6 L1710.0,548.2 L1713.0,557.5 L1716.0,566.7 L1719.0,575.6 L1722.0,584.3 L1725.0,592.9 L1728.0,601.2 L1731.0,609.4 L1734.0,617.5 L1737.0,625.3 L1740.0,633.0 L1743.0,640.6 L1746.0,648.1 L1749.0,655.4 L1752.0,662.5 L1755.0,669.6 L1758.0,676.5 L1761.0,683.4 L1764.0,690.1 L1767.0,696.7 L1770.0,703.2 L1773.0,709.6 L1776.0,715.9 L1779.0,722.2 L1782.0,728.3 L1785.0,734.4 L1788.0,740.5 L1791.0,746.4 L1794.0,752.3 L1797.0,758.1 L1800.0,763.9 L1803.0,769.7 L1806.0,775.4 L1809.0,781.0 L1812.0,786.7 L1815.0,792.3 L1818.0,797.8 L1820.0,801.5 L1820.0,814.2 L1818.0,810.8 L1815.0,805.6 L1812.0,800.4 L1809.0,795.2 L1806.0,789.9 L1803.0,784.6 L1800.0,779.3 L1797.0,773.9 L1794.0,768.5 L1791.0,763.0 L1788.0,757.5 L1785.0,751.9 L1782.0,746.2 L1779.0,740.5 L1776.0,734.7 L1773.0,728.8 L1770.0,722.9 L1767.0,716.8 L1764.0,710.7 L1761.0,704.5 L1758.0,698.1 L1755.0,691.7 L1752.0,685.1 L1749.0,678.5 L1746.0,671.7 L1743.0,664.8 L1740.0,657.7 L1737.0,650.6 L1734.0,643.3 L1731.0,635.8 L1728.0,628.2 L1725.0,620.4 L1722.0,612.5 L1719.0,604.4 L1716.0,596.1 L1713.0,587.6 L1710.0,578.9 L1707.0,570.1 L1704.0,561.0 L1701.0,551.8 L1698.0,542.3 L1695.0,532.7 L1692.0,522.9 L1689.0,513.0 L1686.0,502.9 L1683.0,492.6 L1680.0,482.2 L1677.0,471.7 L1674.0,461.0 L1671.0,450.3 L1668.0,439.6 L1665.0,428.8 L1662.0,418.0 L1659.0,407.1 L1656.0,396.3 L1653.0,385.5 L1650.0,374.8 L1647.0,364.1 L1644.0,353.5 L1641.0,343.0 L1638.0,332.6 L1635.0,322.4 L1632.0,312.3 L1629.0,302.4 L1626.0,292.6 L1623.0,283.1 L1620.0,273.8 L1617.0,264.8 L1614.0,256.0 L1611.0,247.5 L1608.0,239.3 L1605.0,231.4 L1602.0,223.8 L1599.0,216.6 L1596.0,209.7 L1593.0,203.1 L1590.0,196.9 L1587.0,191.1 L1584.0,185.7 L1581.0,180.7 L1578.0,176.1 L1575.0,171.9 L1572.0,168.1 L1569.0,164.8 L1566.0,161.9 L1563.0,159.6 L1560.0,157.6 L1557.0,156.1 L1554.0,155.1 L1551.0,154.4 L1548.0,154.1 L1545.0,154.2 L1542.0,154.7 L1539.0,155.4 L1536.0,156.6 L1533.0,158.0 L1530.0,159.7 L1527.0,161.7 L1524.0,164.0 L1521.0,166.5 L1518.0,169.2 L1515.0,172.2 L1512.0,175.3 L1509.0,178.6 L1506.0,182.1 L1503.0,185.8 L1500.0,189.6 L1497.0,193.5 L1494.0,197.6 L1491.0,201.8 L1488.0,206.1 L1485.0,210.5 L1482.0,215.1 L1479.0,219.8 L1476.0,224.5 L1473.0,229.4 L1470.0,234.3 L1467.0,239.3 L1464.0,244.4 L1461.0,249.6 L1458.0,254.8 L1455.0,260.1 L1452.0,265.4 L1449.0,270.8 L1446.0,276.2 L1443.0,281.7 L1440.0,287.1 L1437.0,292.6 L1434.0,298.1 L1431.0,303.6 L1428.0,309.1 L1425.0,314.6 L1422.0,320.1 L1419.0,325.6 L1416.0,331.0 L1413.0,336.4 L1410.0,341.8 L1407.0,347.1 L1404.0,352.4 L1401.0,357.6 L1398.0,362.7 L1395.0,367.8 L1392.0,372.8 L1389.0,377.8 L1386.0,382.6 L1383.0,387.4 L1380.0,392.1 L1377.0,396.7 L1374.0,401.3 L1371.0,405.8 L1368.0,410.2 L1365.0,414.5 L1362.0,418.8 L1359.0,423.0 L1356.0,427.1 L1353.0,431.2 L1350.0,435.2 L1347.0,439.1 L1344.0,443.0 L1341.0,446.8 L1338.0,450.6 L1335.0,454.2 L1332.0,457.9 L1329.0,461.4 L1326.0,464.9 L1323.0,468.3 L1320.0,471.7 L1317.0,475.0 L1314.0,478.3 L1311.0,481.5 L1308.0,484.6 L1305.0,487.7 L1302.0,490.7 L1299.0,493.7 L1296.0,496.6 L1293.0,499.5 L1290.0,502.3 L1287.0,505.1 L1284.0,507.8 L1281.0,510.5 L1278.0,513.1 L1275.0,515.7 L1272.0,518.2 L1269.0,520.7 L1266.0,523.2 L1263.0,525.5 L1260.0,527.9 L1257.0,530.2 L1254.0,532.5 L1251.0,534.7 L1248.0,536.9 L1245.0,539.0 L1242.0,541.1 L1239.0,543.2 L1236.0,545.2 L1233.0,547.2 L1230.0,549.1 L1227.0,551.0 L1224.0,552.9 L1221.0,554.8 L1218.0,556.6 L1215.0,558.4 L1212.0,560.1 L1209.0,561.8 L1206.0,563.5 L1203.0,565.2 L1200.0,566.8 L1197.0,568.4 L1194.0,570.0 L1191.0,571.5 L1188.0,573.1 L1185.0,574.6 L1182.0,576.0 L1179.0,577.5 L1176.0,578.9 L1173.0,580.3 L1170.0,581.7 L1167.0,583.1 L1164.0,584.4 L1161.0,585.8 L1158.0,587.1 L1155.0,588.4 L1152.0,589.6 L1149.0,590.9 L1146.0,592.1 L1143.0,593.4 L1140.0,594.6 L1137.0,595.8 L1134.0,597.0 L1131.0,598.2 L1128.0,599.3 L1125.0,600.5 L1122.0,601.6 L1119.0,602.8 L1116.0,603.9 L1113.0,605.0 L1110.0,606.1 L1107.0,607.1 L1104.0,608.2 L1101.0,609.3 L1098.0,610.3 L1095.0,611.3 L1092.0,612.4 L1089.0,613.4 L1086.0,614.4 L1083.0,615.3 L1080.0,616.3 L1077.0,617.3 L1074.0,618.2 L1071.0,619.1 L1068.0,620.1 L1065.0,621.0 L1062.0,621.9 L1059.0,622.8 L1056.0,623.7 L1053.0,624.5 L1050.0,625.4 L1047.0,626.2 L1044.0,627.1 L1041.0,627.9 L1038.0,628.7 L1035.0,629.5 L1032.0,630.3 L1029.0,631.1 L1026.0,631.9 L1023.0,632.7 L1020.0,633.4 L1017.0,634.2 L1014.0,634.9 L1011.0,635.6 L1008.0,636.3 L1005.0,637.0 L1002.0,637.7 L999.0,638.4 L996.0,639.1 L993.0,639.8 L990.0,640.4 L987.0,641.1 L984.0,641.7 L981.0,642.4 L978.0,643.0 L975.0,643.6 L972.0,644.2 L969.0,644.8 L966.0,645.4 L963.0,646.0 L960.0,646.6 L957.0,647.1 L954.0,647.7 L951.0,648.2 L948.0,648.8 L945.0,649.3 L942.0,649.8 L939.0,650.4 L936.0,650.9 L933.0,651.4 L930.0,651.9 L927.0,652.4 L924.0,652.8 L921.0,653.3 L918.0,653.8 L915.0,654.2 L912.0,654.7 L909.0,655.1 L906.0,655.6 L903.0,656.0 L900.0,656.4 L897.0,656.9 L894.0,657.3 L891.0,657.7 L888.0,658.1 L885.0,658.5 L882.0,658.9 L879.0,659.2 L876.0,659.6 L873.0,660.0 L870.0,660.3 L867.0,660.7 L864.0,661.1 L861.0,661.4 L858.0,661.7 L855.0,662.1 L852.0,662.4 L849.0,662.7 L846.0,663.1 L843.0,663.4 L840.0,663.7 L837.0,664.0 L834.0,664.3 L831.0,664.6 L828.0,664.9 L825.0,665.2 L822.0,665.4 L819.0,665.7 L816.0,666.0 L813.0,666.3 L810.0,666.5 L807.0,666.8 L804.0,667.0 L801.0,667.3 L798.0,667.6 L795.0,667.8 L792.0,668.0 L789.0,668.3 L786.0,668.5 L783.0,668.7 L780.0,669.0 L777.0,669.2 L774.0,669.4 L771.0,669.6 L768.0,669.9 L765.0,670.1 L762.0,670.3 L759.0,670.5 L756.0,670.7 L753.0,670.9 L750.0,671.1 L747.0,671.3 L744.0,671.5 L741.0,671.7 L738.0,671.9 L735.0,672.1 L732.0,672.2 L729.0,672.4 L726.0,672.6 L723.0,672.8 L720.0,673.0 L717.0,673.1 L714.0,673.3 L711.0,673.5 L708.0,673.7 L705.0,673.8 L702.0,674.0 L699.0,674.2 L696.0,674.3 L693.0,674.5 L690.0,674.7 L687.0,674.9 L684.0,675.0 L681.0,675.2 L678.0,675.3 L675.0,675.5 L672.0,675.7 L669.0,675.8 L666.0,676.0 L663.0,676.1 L660.0,676.3 L657.0,676.5 L654.0,676.6 L651.0,676.8 L648.0,676.9 L645.0,677.1 L642.0,677.2 L639.0,677.4 L636.0,677.5 L633.0,677.7 L630.0,677.8 L627.0,678.0 L624.0,678.1 L621.0,678.2 L618.0,678.4 L615.0,678.5 L612.0,678.7 L609.0,678.8 L606.0,678.9 L603.0,679.1 L600.0,679.2 L597.0,679.4 L594.0,679.5 L591.0,679.6 L588.0,679.8 L585.0,679.9 L582.0,680.0 L579.0,680.1 L576.0,680.3 L573.0,680.4 L570.0,680.5 L567.0,680.7 L564.0,680.8 L561.0,680.9 L558.0,681.0 L555.0,681.1 L552.0,681.3 L549.0,681.4 L546.0,681.5 L543.0,681.6 L540.0,681.7 L537.0,681.8 L534.0,682.0 L531.0,682.1 L528.0,682.2 L525.0,682.3 L522.0,682.4 L519.0,682.5 L516.0,682.6 L513.0,682.7 L510.0,682.8 L507.0,683.0 L504.0,683.1 L501.0,683.2 L498.0,683.3 L495.0,683.4 L492.0,683.5 L489.0,683.6 L486.0,683.7 L483.0,683.8 L480.0,683.9 L477.0,684.0 L474.0,684.0 L471.0,684.1 L468.0,684.2 L465.0,684.3 L462.0,684.4 L459.0,684.5 L456.0,684.6 L453.0,684.7 L450.0,684.8 L447.0,684.9 L444.0,684.9 L441.0,685.0 L438.0,685.1 L435.0,685.2 L432.0,685.3 L429.0,685.4 L426.0,685.4 L423.0,685.5 L420.0,685.6 L417.0,685.7 L414.0,685.7 L411.0,685.8 L408.0,685.9 L405.0,686.0 L402.0,686.0 L399.0,686.1 L396.0,686.2 L393.0,686.2 L390.0,686.3 L387.0,686.4 L384.0,686.4 L381.0,686.5 L378.0,686.6 L375.0,686.6 L372.0,686.7 L369.0,686.8 L366.0,686.8 L363.0,686.9 L360.0,686.9 L357.0,687.0 L354.0,687.1 L351.0,687.1 L348.0,687.2 L345.0,687.2 L342.0,687.3 L339.0,687.3 L336.0,687.4 L333.0,687.4 L330.0,687.5 L327.0,687.5 L324.0,687.6 L321.0,687.6 L318.0,687.7 L315.0,687.7 L312.0,687.7 L309.0,687.8 L306.0,687.8 L303.0,687.9 L300.0,687.9 L297.0,687.9 L294.0,688.0 L291.0,688.0 L288.0,688.1 L285.0,688.1 L282.0,688.1 L279.0,688.2 L276.0,688.2 L273.0,688.2 L270.0,688.3 L267.0,688.3 L264.0,688.3 L261.0,688.3 L258.0,688.4 L255.0,688.4 L252.0,688.4 L249.0,688.4 L246.0,688.5 L243.0,688.5 L240.0,688.5 L237.0,688.5 L234.0,688.5 L231.0,688.6 L228.0,688.6 L225.0,688.6 L222.0,688.6 L219.0,688.6 L216.0,688.6 L213.0,688.7 L210.0,688.7 L207.0,688.7 L204.0,688.7Z" fill="#9e9ac8"/>
<path d="M204.0,672.3 L207.0,672.2 L210.0,672.2 L213.0,672.2 L216.0,672.2 L219.0,672.2 L222.0,672.2 L225.0,672.2 L228.0,672.1 L231.0,672.1 L234.0,672.1 L237.0,672.1 L240.0,672.1 L243.0,672.0 L246.0,672.0 L249.0,672.0 L252.0,672.0 L255.0,671.9 L258.0,671.9 L261.0,671.9 L264.0,671.9 L267.0,671.8 L270.0,671.8 L273.0,671.8 L276.0,671.7 L279.0,671.7 L282.0,671.7 L285.0,671.6 L288.0,671.6 L291.0,671.6 L294.0,671.5 L297.0,671.5 L300.0,671.4 L303.0,671.4 L306.0,671.4 L309.0,671.3 L312.0,671.3 L315.0,671.2 L318.0,671.2 L321.0,671.1 L324.0,671.1 L327.0,671.0 L330.0,671.0 L333.0,670.9 L336.0,670.9 L339.0,670.8 L342.0,670.8 L345.0,670.7 L348.0,670.6 L351.0,670.6 L354.0,670.5 L357.0,670.5 L360.0,670.4 L363.0,670.3 L366.0,670.3 L369.0,670.2 L372.0,670.2 L375.0,670.1 L378.0,670.0 L381.0,670.0 L384.0,669.9 L387.0,669.8 L390.0,669.7 L393.0,669.7 L396.0,669.6 L399.0,669.5 L402.0,669.5 L405.0,669.4 L408.0,669.3 L411.0,669.2 L414.0,669.1 L417.0,669.1 L420.0,669.0 L423.0,668.9 L426.0,668.8 L429.0,668.7 L432.0,668.7 L435.0,668.6 L438.0,668.5 L441.0,668.4 L444.0,668.3 L447.0,668.2 L450.0,668.1 L453.0,668.0 L456.0,667.9 L459.0,667.8 L462.0,667.7 L465.0,667.6 L468.0,667.6 L471.0,667.5 L474.0,667.4 L477.0,667.3 L480.0,667.2 L483.0,667.1 L486.0,666.9 L489.0,666.8 L492.0,666.7 L495.0,666.6 L498.0,666.5 L501.0,666.4 L504.0,666.3 L507.0,666.2 L510.0,666.1 L513.0,666.0 L516.0,665.9 L519.0,665.7 L522.0,665.6 L525.0,665.5 L528.0,665.4 L531.0,665.3 L534.0,665.2 L537.0,665.0 L540.0,664.9 L543.0,664.8 L546.0,664.7 L549.0,664.5 L552.0,664.4 L555.0,664.3 L558.0,664.2 L561.0,664.0 L564.0,663.9 L567.0,663.8 L570.0,663.6 L573.0,663.5 L576.0,663.4 L579.0,663.2 L582.0,663.1 L585.0,663.0 L588.0,662.8 L591.0,662.7 L594.0,662.5 L597.0,662.4 L600.0,662.2 L603.0,662.1 L606.0,662.0 L609.0,661.8 L612.0,661.7 L615.0,661.5 L618.0,661.4 L621.0,661.2 L624.0,661.1 L627.0,660.9 L630.0,660.8 L633.0,660.6 L636.0,660.5 L639.0,660.3 L642.0,660.1 L645.0,660.0 L648.0,659.8 L651.0,659.7 L654.0,659.5 L657.0,659.3 L660.0,659.2 L663.0,659.0 L666.0,658.8 L669.0,658.7 L672.0,658.5 L675.0,658.3 L678.0,658.2 L681.0,658.0 L684.0,657.8 L687.0,657.6 L690.0,657.5 L693.0,657.3 L696.0,657.1 L699.0,656.9 L702.0,656.8 L705.0,656.6 L708.0,656.4 L711.0,656.2 L714.0,656.0 L717.0,655.8 L720.0,655.6 L723.0,655.5 L726.0,655.3 L729.0,655.1 L732.0,654.9 L735.0,654.7 L738.0,654.5 L741.0,654.3 L744.0,654.1 L747.0,653.9 L750.0,653.7 L753.0,653.5 L756.0,653.2 L759.0,653.0 L762.0,652.8 L765.0,652.6 L768.0,652.4 L771.0,652.1 L774.0,651.9 L777.0,651.7 L780.0,651.4 L783.0,651.2 L786.0,650.9 L789.0,650.7 L792.0,650.4 L795.0,650.2 L798.0,649.9 L801.0,649.7 L804.0,649.4 L807.0,649.1 L810.0,648.8 L813.0,648.6 L816.0,648.3 L819.0,648.0 L822.0,647.7 L825.0,647.4 L828.0,647.1 L831.0,646.8 L834.0,646.5 L837.0,646.2 L840.0,645.8 L843.0,645.5 L846.0,645.2 L849.0,644.8 L852.0,644.5 L855.0,644.1 L858.0,643.8 L861.0,643.4 L864.0,643.1 L867.0,642.7 L870.0,642.3 L873.0,641.9 L876.0,641.5 L879.0,641.1 L882.0,640.7 L885.0,640.3 L888.0,639.9 L891.0,639.5 L894.0,639.1 L897.0,638.6 L900.0,638.2 L903.0,637.7 L906.0,637.3 L909.0,636.8 L912.0,636.3 L915.0,635.9 L918.0,635.4 L921.0,634.9 L924.0,634.4 L927.0,633.9 L930.0,633.4 L933.0,632.8 L936.0,632.3 L939.0,631.8 L942.0,631.2 L945.0,630.7 L948.0,630.1 L951.0,629.5 L954.0,628.9 L957.0,628.3 L960.0,627.8 L963.0,627.1 L966.0,626.5 L969.0,625.9 L972.0,625.3 L975.0,624.6 L978.0,624.0 L981.0,623.3 L984.0,622.6 L987.0,622.0 L990.0,621.3 L993.0,620.6 L996.0,619.9 L999.0,619.2 L1002.0,618.4 L1005.0,617.7 L1008.0,616.9 L1011.0,616.2 L1014.0,615.4 L1017.0,614.6 L1020.0,613.9 L1023.0,613.1 L1026.0,612.2 L1029.0,611.4 L1032.0,610.6 L1035.0,609.8 L1038.0,608.9 L1041.0,608.0 L1044.0,607.2 L1047.0,606.3 L1050.0,605.4 L1053.0,604.5 L1056.0,603.6 L1059.0,602.6 L1062.0,601.7 L1065.0,600.7 L1068.0,599.8 L1071.0,598.8 L1074.0,597.8 L1077.0,596.8 L1080.0,595.8 L1083.0,594.8 L1086.0,593.7 L1089.0,592.7 L1092.0,591.6 L1095.0,590.5 L1098.0,589.4 L1101.0,588.3 L1104.0,587.2 L1107.0,586.1 L1110.0,585.0 L1113.0,583.8 L1116.0,582.6 L1119.0,581.5 L1122.0,580.3 L1125.0,579.1 L1128.0,577.8 L1131.0,576.6 L1134.0,575.4 L1137.0,574.1 L1140.0,572.8 L1143.0,571.5 L1146.0,570.2 L1149.0,568.9 L1152.0,567.6 L1155.0,566.2 L1158.0,564.9 L1161.0,563.5 L1164.0,562.1 L1167.0,560.7 L1170.0,559.2 L1173.0,557.8 L1176.0,556.3 L1179.0,554.8 L1182.0,553.2 L1185.0,551.7 L1188.0,550.1 L1191.0,548.5 L1194.0,546.8 L1197.0,545.2 L1200.0,543.5 L1203.0,541.8 L1206.0,540.0 L1209.0,538.2 L1212.0,536.4 L1215.0,534.6 L1218.0,532.7 L1221.0,530.8 L1224.0,528.8 L1227.0,526.8 L1230.0,524.8 L1233.0,522.7 L1236.0,520.6 L1239.0,518.5 L1242.0,516.3 L1245.0,514.1 L1248.0,511.8 L1251.0,509.5 L1254.0,507.2 L1257.0,504.8 L1260.0,502.4 L1263.0,499.9 L1266.0,497.4 L1269.0,494.8 L1272.0,492.2 L1275.0,489.5 L1278.0,486.8 L1281.0,484.0 L1284.0,481.2 L1287.0,478.3 L1290.0,475.4 L1293.0,472.4 L1296.0,469.3 L1299.0,466.3 L1302.0,463.1 L1305.0,459.9 L1308.0,456.6 L1311.0,453.3 L1314.0,449.9 L1317.0,446.5 L1320.0,443.0 L1323.0,439.4 L1326.0,435.8 L1329.0,432.1 L1332.0,428.4 L1335.0,424.5 L1338.0,420.7 L1341.0,416.7 L1344.0,412.7 L1347.0,408.6 L1350.0,404.4 L1353.0,400.2 L1356.0,395.9 L1359.0,391.5 L1362.0,387.1 L1365.0,382.6 L1368.0,378.0 L1371.0,373.3 L1374.0,368.6 L1377.0,363.8 L1380.0,358.9 L1383.0,353.9 L1386.0,348.9 L1389.0,343.7 L1392.0,338.5 L1395.0,333.2 L1398.0,327.9 L1401.0,322.4 L1404.0,316.9 L1407.0,311.3 L1410.0,305.7 L1413.0,300.0 L1416.0,294.3 L1419.0,288.6 L1422.0,282.8 L1425.0,277.0 L1428.0,271.2 L1431.0,265.4 L1434.0,259.6 L1437.0,253.8 L1440.0,248.0 L1443.0,242.2 L1446.0,236.5 L1449.0,230.7 L1452.0,225.1 L1455.0,219.4 L1458.0,213.8 L1461.0,208.3 L1464.0,202.9 L1467.0,197.5 L1470.0,192.2 L1473.0,187.0 L1476.0,181.8 L1479.0,176.8 L1482.0,171.9 L1485.0,167.0 L1488.0,162.4 L1491.0,157.8 L1494.0,153.3 L1497.0,149.0 L1500.0,144.9 L1503.0,140.9 L1506.0,137.0 L1509.0,133.3 L1512.0,129.8 L1515.0,126.5 L1518.0,123.4 L1521.0,120.5 L1524.0,117.8 L1527.0,115.5 L1530.0,113.3 L1533.0,111.5 L1536.0,110.0 L1539.0,108.8 L1542.0,108.0 L1545.0,107.5 L1548.0,107.4 L1551.0,107.7 L1554.0,108.4 L1557.0,109.6 L1560.0,111.1 L1563.0,113.2 L1566.0,115.7 L1569.0,118.7 L1572.0,122.2 L1575.0,126.2 L1578.0,130.6 L1581.0,135.5 L1584.0,140.8 L1587.0,146.5 L1590.0,152.7 L1593.0,159.2 L1596.0,166.1 L1599.0,173.4 L1602.0,181.1 L1605.0,189.1 L1608.0,197.5 L1611.0,206.1 L1614.0,215.1 L1617.0,224.4 L1620.0,233.9 L1623.0,243.7 L1626.0,253.8 L1629.0,264.1 L1632.0,274.5 L1635.0,285.2 L1638.0,296.0 L1641.0,307.0 L1644.0,318.1 L1647.0,329.3 L1650.0,340.6 L1653.0,351.9 L1656.0,363.3 L1659.0,374.8 L1662.0,386.2 L1665.0,397.7 L1668.0,409.1 L1671.0,420.4 L1674.0,431.7 L1677.0,443.0 L1680.0,454.1 L1683.0,465.1 L1686.0,475.9 L1689.0,486.6 L1692.0,497.1 L1695.0,507.5 L1698.0,517.6 L1701.0,527.6 L1704.0,537.4 L1707.0,546.9 L1710.0,556.3 L1713.0,565.5 L1716.0,574.4 L1719.0,583.2 L1722.0,591.8 L1725.0,600.1 L1728.0,608.3 L1731.0,616.4 L1734.0,624.3 L1737.0,632.0 L1740.0,639.5 L1743.0,647.0 L1746.0,654.3 L1749.0,661.4 L1752.0,668.5 L1755.0,675.4 L1758.0,682.2 L1761.0,688.9 L1764.0,695.5 L1767.0,702.0 L1770.0,708.4 L1773.0,714.7 L1776.0,720.9 L1779.0,727.0 L1782.0,733.1 L1785.0,739.0 L1788.0,744.9 L1791.0,750.8 L1794.0,756.6 L1797.0,762.3 L1800.0,768.0 L1803.0,773.6 L1806.0,779.2 L1809.0,784.7 L1812.0,790.3 L1815.0,795.8 L1818.0,801.2 L1820.0,804.9 L1820.0,810.9 L1818.0,807.4 L1815.0,802.1 L1812.0,796.8 L1809.0,791.4 L1806.0,786.1 L1803.0,780.7 L1800.0,775.2 L1797.0,769.7 L1794.0,764.2 L1791.0,758.6 L1788.0,753.0 L1785.0,747.3 L1782.0,741.5 L1779.0,735.7 L1776.0,729.8 L1773.0,723.8 L1770.0,717.7 L1767.0,711.5 L1764.0,705.3 L1761.0,698.9 L1758.0,692.4 L1755.0,685.9 L1752.0,679.2 L1749.0,672.4 L1746.0,665.4 L1743.0,658.4 L1740.0,651.2 L1737.0,643.9 L1734.0,636.5 L1731.0,628.9 L1728.0,621.1 L1725.0,613.2 L1722.0,605.1 L1719.0,596.8 L1716.0,588.3 L1713.0,579.7 L1710.0,570.8 L1707.0,561.8 L1704.0,552.5 L1701.0,543.1 L1698.0,533.5 L1695.0,523.7 L1692.0,513.7 L1689.0,503.6 L1686.0,493.2 L1683.0,482.7 L1680.0,472.1 L1677.0,461.4 L1674.0,450.6 L1671.0,439.6 L1668.0,428.7 L1665.0,417.6 L1662.0,406.6 L1659.0,395.5 L1656.0,384.5 L1653.0,373.5 L1650.0,362.5 L1647.0,351.6 L1644.0,340.8 L1641.0,330.1 L1638.0,319.5 L1635.0,309.1 L1632.0,298.8 L1629.0,288.7 L1626.0,278.7 L1623.0,269.0 L1620.0,259.6 L1617.0,250.3 L1614.0,241.4 L1611.0,232.7 L1608.0,224.3 L1605.0,216.3 L1602.0,208.5 L1599.0,201.2 L1596.0,194.1 L1593.0,187.4 L1590.0,181.1 L1587.0,175.2 L1584.0,169.6 L1581.0,164.5 L1578.0,159.8 L1575.0,155.5 L1572.0,151.7 L1569.0,148.3 L1566.0,145.4 L1563.0,143.0 L1560.0,141.0 L1557.0,139.5 L1554.0,138.4 L1551.0,137.7 L1548.0,137.4 L1545.0,137.5 L1542.0,138.0 L1539.0,138.8 L1536.0,139.9 L1533.0,141.4 L1530.0,143.1 L1527.0,145.2 L1524.0,147.5 L1521.0,150.0 L1518.0,152.8 L1515.0,155.8 L1512.0,159.0 L1509.0,162.4 L1506.0,166.0 L1503.0,169.7 L1500.0,173.6 L1497.0,177.6 L1494.0,181.7 L1491.0,186.0 L1488.0,190.4 L1485.0,195.0 L1482.0,199.6 L1479.0,204.4 L1476.0,209.2 L1473.0,214.2 L1470.0,219.2 L1467.0,224.4 L1464.0,229.6 L1461.0,234.8 L1458.0,240.2 L1455.0,245.6 L1452.0,251.0 L1449.0,256.5 L1446.0,262.0 L1443.0,267.5 L1440.0,273.1 L1437.0,278.7 L1434.0,284.3 L1431.0,289.9 L1428.0,295.6 L1425.0,301.2 L1422.0,306.8 L1419.0,312.3 L1416.0,317.9 L1413.0,323.4 L1410.0,328.9 L1407.0,334.3 L1404.0,339.7 L1401.0,345.0 L1398.0,350.2 L1395.0,355.4 L1392.0,360.5 L1389.0,365.6 L1386.0,370.5 L1383.0,375.4 L1380.0,380.2 L1377.0,384.9 L1374.0,389.6 L1371.0,394.2 L1368.0,398.7 L1365.0,403.1 L1362.0,407.5 L1359.0,411.7 L1356.0,416.0 L1353.0,420.1 L1350.0,424.2 L1347.0,428.2 L1344.0,432.2 L1341.0,436.0 L1338.0,439.9 L1335.0,443.6 L1332.0,447.3 L1329.0,450.9 L1326.0,454.5 L1323.0,458.0 L1320.0,461.4 L1317.0,464.8 L1314.0,468.1 L1311.0,471.4 L1308.0,474.6 L1305.0,477.8 L1302.0,480.9 L1299.0,483.9 L1296.0,486.9 L1293.0,489.8 L1290.0,492.7 L1287.0,495.5 L1284.0,498.3 L1281.0,501.0 L1278.0,503.7 L1275.0,506.3 L1272.0,508.9 L1269.0,511.4 L1266.0,513.9 L1263.0,516.4 L1260.0,518.8 L1257.0,521.1 L1254.0,523.4 L1251.0,525.7 L1248.0,527.9 L1245.0,530.1 L1242.0,532.2 L1239.0,534.3 L1236.0,536.4 L1233.0,538.4 L1230.0,540.4 L1227.0,542.4 L1224.0,544.3 L1221.0,546.2 L1218.0,548.0 L1215.0,549.9 L1212.0,551.6 L1209.0,553.4 L1206.0,555.1 L1203.0,556.8 L1200.0,558.5 L1197.0,560.1 L1194.0,561.7 L1191.0,563.3 L1188.0,564.8 L1185.0,566.4 L1182.0,567.9 L1179.0,569.4 L1176.0,570.8 L1173.0,572.3 L1170.0,573.7 L1167.0,575.1 L1164.0,576.4 L1161.0,577.8 L1158.0,579.1 L1155.0,580.4 L1152.0,581.7 L1149.0,583.0 L1146.0,584.3 L1143.0,585.6 L1140.0,586.8 L1137.0,588.0 L1134.0,589.3 L1131.0,590.5 L1128.0,591.6 L1125.0,592.8 L1122.0,594.0 L1119.0,595.1 L1116.0,596.3 L1113.0,597.4 L1110.0,598.5 L1107.0,599.6 L1104.0,600.7 L1101.0,601.8 L1098.0,602.8 L1095.0,603.9 L1092.0,604.9 L1089.0,606.0 L1086.0,607.0 L1083.0,608.0 L1080.0,609.0 L1077.0,609.9 L1074.0,610.9 L1071.0,611.9 L1068.0,612.8 L1065.0,613.7 L1062.0,614.7 L1059.0,615.6 L1056.0,616.5 L1053.0,617.4 L1050.0,618.2 L1047.0,619.1 L1044.0,620.0 L1041.0,620.8 L1038.0,621.6 L1035.0,622.5 L1032.0,623.3 L1029.0,624.1 L1026.0,624.9 L1023.0,625.6 L1020.0,626.4 L1017.0,627.2 L1014.0,627.9 L1011.0,628.7 L1008.0,629.4 L1005.0,630.1 L1002.0,630.8 L999.0,631.5 L996.0,632.2 L993.0,632.9 L990.0,633.6 L987.0,634.2 L984.0,634.9 L981.0,635.6 L978.0,636.2 L975.0,636.8 L972.0,637.4 L969.0,638.1 L966.0,638.7 L963.0,639.2 L960.0,639.8 L957.0,640.4 L954.0,641.0 L951.0,641.5 L948.0,642.1 L945.0,642.6 L942.0,643.2 L939.0,643.7 L936.0,644.2 L933.0,644.7 L930.0,645.2 L927.0,645.7 L924.0,646.2 L921.0,646.7 L918.0,647.2 L915.0,647.7 L912.0,648.1 L909.0,648.6 L906.0,649.0 L903.0,649.5 L900.0,649.9 L897.0,650.3 L894.0,650.8 L891.0,651.2 L888.0,651.6 L885.0,652.0 L882.0,652.4 L879.0,652.8 L876.0,653.1 L873.0,653.5 L870.0,653.9 L867.0,654.3 L864.0,654.6 L861.0,655.0 L858.0,655.3 L855.0,655.7 L852.0,656.0 L849.0,656.3 L846.0,656.7 L843.0,657.0 L840.0,657.3 L837.0,657.6 L834.0,657.9 L831.0,658.2 L828.0,658.5 L825.0,658.8 L822.0,659.1 L819.0,659.4 L816.0,659.7 L813.0,659.9 L810.0,660.2 L807.0,660.5 L804.0,660.7 L801.0,661.0 L798.0,661.2 L795.0,661.5 L792.0,661.7 L789.0,662.0 L786.0,662.2 L783.0,662.5 L780.0,662.7 L777.0,662.9 L774.0,663.1 L771.0,663.4 L768.0,663.6 L765.0,663.8 L762.0,664.0 L759.0,664.2 L756.0,664.4 L753.0,664.7 L750.0,664.9 L747.0,665.1 L744.0,665.3 L741.0,665.5 L738.0,665.6 L735.0,665.8 L732.0,666.0 L729.0,666.2 L726.0,666.4 L723.0,666.6 L720.0,666.8 L717.0,667.0 L714.0,667.1 L711.0,667.3 L708.0,667.5 L705.0,667.7 L702.0,667.8 L699.0,668.0 L696.0,668.2 L693.0,668.4 L690.0,668.5 L687.0,668.7 L684.0,668.9 L681.0,669.0 L678.0,669.2 L675.0,669.4 L672.0,669.5 L669.0,669.7 L666.0,669.8 L663.0,670.0 L660.0,670.2 L657.0,670.3 L654.0,670.5 L651.0,670.6 L648.0,670.8 L645.0,671.0 L642.0,671.1 L639.0,671.3 L636.0,671.4 L633.0,671.6 L630.0,671.7 L627.0,671.9 L624.0,672.0 L621.0,672.1 L618.0,672.3 L615.0,672.4 L612.0,672.6 L609.0,672.7 L606.0,672.9 L603.0,673.0 L600.0,673.1 L597.0,673.3 L594.0,673.4 L591.0,673.6 L588.0,673.7 L585.0,673.8 L582.0,674.0 L579.0,674.1 L576.0,674.2 L573.0,674.4 L570.0,674.5 L567.0,674.6 L564.0,674.7 L561.0,674.9 L558.0,675.0 L555.0,675.1 L552.0,675.2 L549.0,675.4 L546.0,675.5 L543.0,675.6 L540.0,675.7 L537.0,675.8 L534.0,675.9 L531.0,676.1 L528.0,676.2 L525.0,676.3 L522.0,676.4 L519.0,676.5 L516.0,676.6 L513.0,676.7 L510.0,676.8 L507.0,677.0 L504.0,677.1 L501.0,677.2 L498.0,677.3 L495.0,677.4 L492.0,677.5 L489.0,677.6 L486.0,677.7 L483.0,677.8 L480.0,677.9 L477.0,678.0 L474.0,678.1 L471.0,678.2 L468.0,678.3 L465.0,678.4 L462.0,678.5 L459.0,678.5 L456.0,678.6 L453.0,678.7 L450.0,678.8 L447.0,678.9 L444.0,679.0 L441.0,679.1 L438.0,679.2 L435.0,679.2 L432.0,679.3 L429.0,679.4 L426.0,679.5 L423.0,679.6 L420.0,679.6 L417.0,679.7 L414.0,679.8 L411.0,679.9 L408.0,680.0 L405.0,680.0 L402.0,680.1 L399.0,680.2 L396.0,680.2 L393.0,680.3 L390.0,680.4 L387.0,680.5 L384.0,680.5 L381.0,680.6 L378.0,680.7 L375.0,680.7 L372.0,680.8 L369.0,680.8 L366.0,680.9 L363.0,681.0 L360.0,681.0 L357.0,681.1 L354.0,681.1 L351.0,681.2 L348.0,681.3 L345.0,681.3 L342.0,681.4 L339.0,681.4 L336.0,681.5 L333.0,681.5 L330.0,681.6 L327.0,681.6 L324.0,681.7 L321.0,681.7 L318.0,681.8 L315.0,681.8 L312.0,681.8 L309.0,681.9 L306.0,681.9 L303.0,682.0 L300.0,682.0 L297.0,682.1 L294.0,682.1 L291.0,682.1 L288.0,682.2 L285.0,682.2 L282.0,682.2 L279.0,682.3 L276.0,682.3 L273.0,682.3 L270.0,682.4 L267.0,682.4 L264.0,682.4 L261.0,682.5 L258.0,682.5 L255.0,682.5 L252.0,682.5 L249.0,682.6 L246.0,682.6 L243.0,682.6 L240.0,682.6 L237.0,682.6 L234.0,682.7 L231.0,682.7 L228.0,682.7 L225.0,682.7 L222.0,682.7 L219.0,682.7 L216.0,682.8 L213.0,682.8 L210.0,682.8 L207.0,682.8 L204.0,682.8Z" fill="#964ea2"/>
<g stroke="rgba(175,65,35,0.55)" fill="none"><path d="M204,429.6V589.1" stroke-width="3.0"/><path d="M200.1,429.6H207.9M200.1,589.1H207.9" stroke-width="2.9"/></g>
<g stroke="rgba(175,65,35,0.55)" fill="none"><path d="M232.7,510.7V575.3" stroke-width="3.0"/><path d="M228.8,510.7H236.6M228.8,575.3H236.6" stroke-width="2.9"/></g>
<g stroke="rgba(175,65,35,0.55)" fill="none"><path d="M241.8,557.5V617.3" stroke-width="3.0"/><path d="M237.9,557.5H245.8M237.9,617.3H245.8" stroke-width="2.9"/></g>
<g stroke="rgba(175,65,35,0.55)" fill="none"><path d="M262.3,511.4V579.4" stroke-width="3.0"/><path d="M258.4,511.4H266.2M258.4,579.4H266.2" stroke-width="2.9"/></g>
<g stroke="rgba(175,65,35,0.55)" fill="none"><path d="M268.2,454.4V552" stroke-width="3.0"/><path d="M264.2,454.4H272.1M264.2,552H272.1" stroke-width="2.9"/></g>
<g stroke="rgba(175,65,35,0.55)" fill="none"><path d="M286.7,526.5V573.3" stroke-width="3.0"/><path d="M282.8,526.5H290.6M282.8,573.3H290.6" stroke-width="2.9"/></g>
<g stroke="rgba(175,65,35,0.55)" fill="none"><path d="M290.8,573.3V610" stroke-width="3.0"/><path d="M286.9,573.3H294.8M286.9,610H294.8" stroke-width="2.9"/></g>
<g stroke="rgba(175,65,35,0.55)" fill="none"><path d="M295.6,476.4V522.4" stroke-width="3.0"/><path d="M291.7,476.4H299.6M291.7,522.4H299.6" stroke-width="2.9"/></g>
<g stroke="rgba(175,65,35,0.55)" fill="none"><path d="M297.4,523.1V576" stroke-width="3.0"/><path d="M293.4,523.1H301.3M293.4,576H301.3" stroke-width="2.9"/></g>
<g stroke="rgba(175,65,35,0.55)" fill="none"><path d="M312.3,528.7V560" stroke-width="3.0"/><path d="M308.4,528.7H316.2M308.4,560H316.2" stroke-width="2.9"/></g>
<g stroke="rgba(175,65,35,0.55)" fill="none"><path d="M319.2,540V570" stroke-width="3.0"/><path d="M315.2,540H323.1M315.2,570H323.1" stroke-width="2.9"/></g>
<g stroke="rgba(175,65,35,0.55)" fill="none"><path d="M319.9,560V602.9" stroke-width="3.0"/><path d="M315.9,560H323.8M315.9,602.9H323.8" stroke-width="2.9"/></g>
<g stroke="rgba(175,65,35,0.55)" fill="none"><path d="M337.7,570.6V598.1" stroke-width="3.0"/><path d="M333.8,570.6H341.6M333.8,598.1H341.6" stroke-width="2.9"/></g>
<g stroke="rgba(175,65,35,0.55)" fill="none"><path d="M354.2,556.8V602.2" stroke-width="3.0"/><path d="M350.2,556.8H358.1M350.2,602.2H358.1" stroke-width="2.9"/></g>
<g stroke="rgba(175,65,35,0.55)" fill="none"><path d="M354.9,578V604" stroke-width="3.0"/><path d="M350.9,578H358.8M350.9,604H358.8" stroke-width="2.9"/></g>
<g stroke="rgba(175,65,35,0.55)" fill="none"><path d="M363.8,562V588" stroke-width="3.0"/><path d="M359.9,562H367.8M359.9,588H367.8" stroke-width="2.9"/></g>
<g stroke="rgba(175,65,35,0.55)" fill="none"><path d="M381,562.3V590" stroke-width="3.0"/><path d="M377.1,562.3H384.9M377.1,590H384.9" stroke-width="2.9"/></g>
<g stroke="rgba(175,65,35,0.55)" fill="none"><path d="M377.6,583V609" stroke-width="3.0"/><path d="M373.7,583H381.6M373.7,609H381.6" stroke-width="2.9"/></g>
<g stroke="rgba(175,65,35,0.55)" fill="none"><path d="M399.6,587.8V611" stroke-width="3.0"/><path d="M395.7,587.8H403.6M395.7,611H403.6" stroke-width="2.9"/></g>
<g stroke="rgba(175,65,35,0.55)" fill="none"><path d="M395.5,592V618" stroke-width="3.0"/><path d="M391.6,592H399.4M391.6,618H399.4" stroke-width="2.9"/></g>
<g stroke="rgba(175,65,35,0.55)" fill="none"><path d="M402.9,588V611" stroke-width="3.0"/><path d="M398.9,588H406.8M398.9,611H406.8" stroke-width="2.9"/></g>
<g stroke="rgba(175,65,35,0.55)" fill="none"><path d="M429.8,610V634" stroke-width="3.0"/><path d="M425.9,610H433.8M425.9,634H433.8" stroke-width="2.9"/></g>
<g stroke="rgba(175,65,35,0.55)" fill="none"><path d="M435.6,586V610" stroke-width="3.0"/><path d="M431.7,586H439.6M431.7,610H439.6" stroke-width="2.9"/></g>
<g stroke="rgba(175,65,35,0.55)" fill="none"><path d="M431.8,611V636" stroke-width="3.0"/><path d="M427.9,611H435.8M427.9,636H435.8" stroke-width="2.9"/></g>
<g stroke="rgba(175,65,35,0.55)" fill="none"><path d="M445.2,610V633" stroke-width="3.0"/><path d="M441.2,610H449.1M441.2,633H449.1" stroke-width="2.9"/></g>
<g stroke="rgba(175,65,35,0.55)" fill="none"><path d="M453.9,587.2V614" stroke-width="3.0"/><path d="M449.9,587.2H457.8M449.9,614H457.8" stroke-width="2.9"/></g>
<g stroke="rgba(175,65,35,0.55)" fill="none"><path d="M462.6,610V633" stroke-width="3.0"/><path d="M458.7,610H466.6M458.7,633H466.6" stroke-width="2.9"/></g>
<g stroke="rgba(175,65,35,0.55)" fill="none"><path d="M469.3,602V624" stroke-width="3.0"/><path d="M465.4,602H473.2M465.4,624H473.2" stroke-width="2.9"/></g>
<g stroke="rgba(175,65,35,0.55)" fill="none"><path d="M478,604V626" stroke-width="3.0"/><path d="M474.1,604H481.9M474.1,626H481.9" stroke-width="2.9"/></g>
<g stroke="rgba(175,65,35,0.55)" fill="none"><path d="M492.4,604V626" stroke-width="3.0"/><path d="M488.4,604H496.3M488.4,626H496.3" stroke-width="2.9"/></g>
<g stroke="rgba(175,65,35,0.55)" fill="none"><path d="M496.2,614V636" stroke-width="3.0"/><path d="M492.2,614H500.1M492.2,636H500.1" stroke-width="2.9"/></g>
<g stroke="rgba(175,65,35,0.55)" fill="none"><path d="M501.1,606V628" stroke-width="3.0"/><path d="M497.2,606H505.1M497.2,628H505.1" stroke-width="2.9"/></g>
<g stroke="rgba(175,65,35,0.55)" fill="none"><path d="M526.1,616V637" stroke-width="3.0"/><path d="M522.1,616H530.1M522.1,637H530.1" stroke-width="2.9"/></g>
<g stroke="rgba(175,65,35,0.55)" fill="none"><path d="M532.8,609V631" stroke-width="3.0"/><path d="M528.8,609H536.8M528.8,631H536.8" stroke-width="2.9"/></g>
<g stroke="rgba(175,65,35,0.55)" fill="none"><path d="M554,616V637" stroke-width="3.0"/><path d="M550,616H558M550,637H558" stroke-width="2.9"/></g>
<g stroke="rgba(175,65,35,0.55)" fill="none"><path d="M425,611V633" stroke-width="3.0"/><path d="M421.1,611H428.9M421.1,633H428.9" stroke-width="2.9"/></g>
<g stroke="rgba(175,65,35,0.55)" fill="none"><path d="M437,617V639" stroke-width="3.0"/><path d="M433.1,617H440.9M433.1,639H440.9" stroke-width="2.9"/></g>
<g stroke="rgba(175,65,35,0.55)" fill="none"><path d="M441,603V625" stroke-width="3.0"/><path d="M437.1,603H444.9M437.1,625H444.9" stroke-width="2.9"/></g>
<g stroke="rgba(175,65,35,0.55)" fill="none"><path d="M480,595V617" stroke-width="3.0"/><path d="M476.1,595H483.9M476.1,617H483.9" stroke-width="2.9"/></g>
<g stroke="rgba(175,65,35,0.55)" fill="none"><path d="M510,601V623" stroke-width="3.0"/><path d="M506.1,601H514M506.1,623H514" stroke-width="2.9"/></g>
<g stroke="rgba(175,65,35,0.55)" fill="none"><path d="M515,608V630" stroke-width="3.0"/><path d="M511.1,608H519M511.1,630H519" stroke-width="2.9"/></g>
<g stroke="rgba(175,65,35,0.55)" fill="none"><path d="M538,611V633" stroke-width="3.0"/><path d="M534,611H542M534,633H542" stroke-width="2.9"/></g>
<g stroke="rgba(175,65,35,0.55)" fill="none"><path d="M547,606V628" stroke-width="3.0"/><path d="M543,606H551M543,628H551" stroke-width="2.9"/></g>
<g stroke="rgba(175,65,35,0.55)" fill="none"><path d="M485,611V633" stroke-width="3.0"/><path d="M481.1,611H488.9M481.1,633H488.9" stroke-width="2.9"/></g>
<g stroke="rgba(175,65,35,0.55)" fill="none"><path d="M552,623V637" stroke-width="3.0"/><path d="M548,623H556M548,637H556" stroke-width="2.9"/></g>
<g stroke="rgba(175,65,35,0.55)" fill="none"><path d="M557.5,613V628" stroke-width="3.0"/><path d="M553.5,613H561.5M553.5,628H561.5" stroke-width="2.9"/></g>
<g stroke="rgba(175,65,35,0.55)" fill="none"><path d="M546.5,621V636" stroke-width="3.0"/><path d="M542.5,621H550.5M542.5,636H550.5" stroke-width="2.9"/></g>
<g stroke="rgba(175,65,35,0.55)" fill="none"><path d="M553,617V631" stroke-width="3.0"/><path d="M549,617H557M549,631H557" stroke-width="2.9"/></g>
<g stroke="rgba(40,30,60,0.62)" fill="none"><path d="M262.9,386.6V529.3" stroke-width="2.5"/><path d="M258.9,386.6H266.8M258.9,529.3H266.8" stroke-width="2.7"/></g>
<g stroke="rgba(40,30,60,0.62)" fill="none"><path d="M295,440.6V519" stroke-width="2.5"/><path d="M291.1,440.6H298.9M291.1,519H298.9" stroke-width="2.7"/></g>
<g stroke="rgba(40,30,60,0.62)" fill="none"><path d="M326,459.9V493.6" stroke-width="2.5"/><path d="M322.1,459.9H329.9M322.1,493.6H329.9" stroke-width="2.7"/></g>
<g stroke="rgba(40,30,60,0.62)" fill="none"><path d="M325.4,500.5V546.5" stroke-width="2.5"/><path d="M321.4,500.5H329.3M321.4,546.5H329.3" stroke-width="2.7"/></g>
<g stroke="rgba(40,30,60,0.62)" fill="none"><path d="M349.4,508.7V542.4" stroke-width="2.5"/><path d="M345.4,508.7H353.3M345.4,542.4H353.3" stroke-width="2.7"/></g>
<g stroke="rgba(40,30,60,0.62)" fill="none"><path d="M373.1,536.9V567.1" stroke-width="2.5"/><path d="M369.2,536.9H377.1M369.2,567.1H377.1" stroke-width="2.7"/></g>
<g stroke="rgba(40,30,60,0.62)" fill="none"><path d="M401.6,523.2V551.3" stroke-width="2.5"/><path d="M397.7,523.2H405.6M397.7,551.3H405.6" stroke-width="2.7"/></g>
<g stroke="rgba(40,30,60,0.62)" fill="none"><path d="M415,546.5V573.3" stroke-width="2.5"/><path d="M411.1,546.5H418.9M411.1,573.3H418.9" stroke-width="2.7"/></g>
<g stroke="rgba(40,30,60,0.62)" fill="none"><path d="M431,565.1V588.5" stroke-width="2.5"/><path d="M427.1,565.1H434.9M427.1,588.5H434.9" stroke-width="2.7"/></g>
<g stroke="rgba(40,30,60,0.62)" fill="none"><path d="M463.5,586.2V609.3" stroke-width="2.5"/><path d="M459.6,586.2H467.4M459.6,609.3H467.4" stroke-width="2.7"/></g>
<g stroke="rgba(40,30,60,0.62)" fill="none"><path d="M488.1,595.8V618" stroke-width="2.5"/><path d="M484.2,595.8H492.1M484.2,618H492.1" stroke-width="2.7"/></g>
<g stroke="rgba(40,30,60,0.62)" fill="none"><path d="M524.2,606.4V627" stroke-width="2.5"/><path d="M520.2,606.4H528.2M520.2,627H528.2" stroke-width="2.7"/></g>
<g stroke="rgba(40,30,60,0.62)" fill="none"><path d="M549.7,614V635" stroke-width="2.5"/><path d="M545.8,614H553.7M545.8,635H553.7" stroke-width="2.7"/></g>
<g stroke="rgba(175,65,35,0.55)" fill="none"><path d="M573.7,604.6V619" stroke-width="3.0"/><path d="M569.8,604.6H577.7M569.8,619H577.7" stroke-width="2.9"/></g>
<g stroke="rgba(175,65,35,0.55)" fill="none"><path d="M591.5,615.4V628.8" stroke-width="3.0"/><path d="M587.5,615.4H595.5M587.5,628.8H595.5" stroke-width="2.9"/></g>
<g stroke="rgba(175,65,35,0.55)" fill="none"><path d="M611,622.1V634.4" stroke-width="3.0"/><path d="M607,622.1H615M607,634.4H615" stroke-width="2.9"/></g>
<g stroke="rgba(175,65,35,0.55)" fill="none"><path d="M578,617V632" stroke-width="3.0"/><path d="M574,617H582M574,632H582" stroke-width="2.9"/></g>
<g stroke="rgba(175,65,35,0.55)" fill="none"><path d="M555.9,620V636" stroke-width="3.0"/><path d="M551.9,620H559.9M551.9,636H559.9" stroke-width="2.9"/></g>
<g stroke="rgba(175,65,35,0.55)" fill="none"><path d="M549.5,617V632" stroke-width="3.0"/><path d="M545.5,617H553.5M545.5,632H553.5" stroke-width="2.9"/></g>
<g stroke="rgba(175,65,35,0.55)" fill="none"><path d="M559.4,619V634" stroke-width="3.0"/><path d="M555.4,619H563.4M555.4,634H563.4" stroke-width="2.9"/></g>
<g stroke="rgba(175,65,35,0.55)" fill="none"><path d="M561.1,612.8V647.5" stroke-width="3.0"/><path d="M557.1,612.8H565.1M557.1,647.5H565.1" stroke-width="2.9"/></g>
<g stroke="rgba(175,65,35,0.55)" fill="none"><path d="M613.9,631.5V653" stroke-width="3.0"/><path d="M609.9,631.5H617.9M609.9,653H617.9" stroke-width="2.9"/></g>
<g stroke="rgba(175,65,35,0.55)" fill="none"><path d="M659,636V656" stroke-width="3.0"/><path d="M655,636H663M655,656H663" stroke-width="2.9"/></g>
<g stroke="rgba(40,30,60,0.62)" fill="none"><path d="M562,612.8V632.9" stroke-width="2.5"/><path d="M558,612.8H566M558,632.9H566" stroke-width="2.7"/></g>
<g stroke="rgba(40,30,60,0.62)" fill="none"><path d="M594.4,615.7V636.1" stroke-width="2.5"/><path d="M590.4,615.7H598.4M590.4,636.1H598.4" stroke-width="2.7"/></g>
<g stroke="rgba(40,30,60,0.62)" fill="none"><path d="M624.4,627.4V648.1" stroke-width="2.5"/><path d="M620.4,627.4H628.4M620.4,648.1H628.4" stroke-width="2.7"/></g>
<g stroke="rgba(40,30,60,0.62)" fill="none"><path d="M638.4,625.9V646.3" stroke-width="2.5"/><path d="M634.4,625.9H642.4M634.4,646.3H642.4" stroke-width="2.7"/></g>
<g stroke="rgba(40,30,60,0.62)" fill="none"><path d="M543,614V635" stroke-width="2.5"/><path d="M539,614H547M539,635H547" stroke-width="2.7"/></g>
<g stroke="rgba(40,30,60,0.62)" fill="none"><path d="M676.3,621.8V642" stroke-width="2.5"/><path d="M672.3,621.8H680.2M672.3,642H680.2" stroke-width="2.7"/></g>
<g stroke="rgba(40,30,60,0.62)" fill="none"><path d="M701,628.9V649" stroke-width="2.5"/><path d="M697,628.9H705M697,649H705" stroke-width="2.7"/></g>
<g stroke="rgba(175,65,35,0.55)" fill="none"><path d="M699.9,636V652.5" stroke-width="3.0"/><path d="M695.9,636H703.9M695.9,652.5H703.9" stroke-width="2.9"/></g>
<g stroke="rgba(40,30,60,0.62)" fill="none"><path d="M722.4,619.9V640.9" stroke-width="2.5"/><path d="M718.4,619.9H726.4M718.4,640.9H726.4" stroke-width="2.7"/></g>
<g stroke="rgba(175,65,35,0.55)" fill="none"><path d="M735.9,644V661" stroke-width="3.0"/><path d="M731.9,644H739.9M731.9,661H739.9" stroke-width="2.9"/></g>
<g stroke="rgba(40,30,60,0.62)" fill="none"><path d="M753.1,640.5V658.5" stroke-width="2.5"/><path d="M749.1,640.5H757.1M749.1,658.5H757.1" stroke-width="2.7"/></g>
<g stroke="rgba(40,30,60,0.62)" fill="none"><path d="M763.3,624V643.5" stroke-width="2.5"/><path d="M759.3,624H767.2M759.3,643.5H767.2" stroke-width="2.7"/></g>
<g stroke="rgba(175,65,35,0.55)" fill="none"><path d="M768.9,633V651" stroke-width="3.0"/><path d="M764.9,633H772.9M764.9,651H772.9" stroke-width="2.9"/></g>
<g stroke="rgba(40,30,60,0.62)" fill="none"><path d="M780.9,623.3V643.5" stroke-width="2.5"/><path d="M776.9,623.3H784.9M776.9,643.5H784.9" stroke-width="2.7"/></g>
<g stroke="rgba(175,65,35,0.55)" fill="none"><path d="M798,635V653" stroke-width="3.0"/><path d="M794,635H802M794,653H802" stroke-width="2.9"/></g>
<g stroke="rgba(40,30,60,0.62)" fill="none"><path d="M815,621V641" stroke-width="2.5"/><path d="M811,621H819M811,641H819" stroke-width="2.7"/></g>
<g stroke="rgba(175,65,35,0.55)" fill="none"><path d="M826.5,622V641" stroke-width="3.0"/><path d="M822.5,622H830.5M822.5,641H830.5" stroke-width="2.9"/></g>
<g stroke="rgba(40,30,60,0.62)" fill="none"><path d="M835.5,634V653" stroke-width="2.5"/><path d="M831.5,634H839.5M831.5,653H839.5" stroke-width="2.7"/></g>
<g stroke="rgba(175,65,35,0.55)" fill="none"><path d="M851,631V649" stroke-width="3.0"/><path d="M847,631H855M847,649H855" stroke-width="2.9"/></g>
<g stroke="rgba(40,30,60,0.62)" fill="none"><path d="M861.5,619V639" stroke-width="2.5"/><path d="M857.5,619H865.5M857.5,639H865.5" stroke-width="2.7"/></g>
<g stroke="rgba(175,65,35,0.55)" fill="none"><path d="M875,621V640" stroke-width="3.0"/><path d="M871,621H879M871,640H879" stroke-width="2.9"/></g>
<g stroke="rgba(40,30,60,0.62)" fill="none"><path d="M875.5,637V656" stroke-width="2.5"/><path d="M871.5,637H879.5M871.5,656H879.5" stroke-width="2.7"/></g>
<g stroke="rgba(40,30,60,0.62)" fill="none"><path d="M888.5,619V638" stroke-width="2.5"/><path d="M884.5,619H892.5M884.5,638H892.5" stroke-width="2.7"/></g>
<g stroke="rgba(175,65,35,0.55)" fill="none"><path d="M897.5,623V641" stroke-width="3.0"/><path d="M893.5,623H901.5M893.5,641H901.5" stroke-width="2.9"/></g>
<g stroke="rgba(40,30,60,0.62)" fill="none"><path d="M908,630V648" stroke-width="2.5"/><path d="M904,630H912M904,648H912" stroke-width="2.7"/></g>
<g stroke="rgba(40,30,60,0.62)" fill="none"><path d="M913.5,613V631" stroke-width="2.5"/><path d="M909.5,613H917.5M909.5,631H917.5" stroke-width="2.7"/></g>
<g stroke="rgba(175,65,35,0.55)" fill="none"><path d="M918,610V627" stroke-width="3.0"/><path d="M914,610H922M914,627H922" stroke-width="2.9"/></g>
<g stroke="rgba(175,65,35,0.55)" fill="none"><path d="M937.5,602V618" stroke-width="3.0"/><path d="M933.5,602H941.5M933.5,618H941.5" stroke-width="2.9"/></g>
<g stroke="rgba(175,65,35,0.55)" fill="none"><path d="M937.5,613V630" stroke-width="3.0"/><path d="M933.5,613H941.5M933.5,630H941.5" stroke-width="2.9"/></g>
<g stroke="rgba(40,30,60,0.62)" fill="none"><path d="M937.5,622V640" stroke-width="2.5"/><path d="M933.5,622H941.5M933.5,640H941.5" stroke-width="2.7"/></g>
<g stroke="rgba(175,65,35,0.55)" fill="none"><path d="M956,600V617" stroke-width="3.0"/><path d="M952,600H960M952,617H960" stroke-width="2.9"/></g>
<g stroke="rgba(40,30,60,0.62)" fill="none"><path d="M962,615V633" stroke-width="2.5"/><path d="M958,615H966M958,633H966" stroke-width="2.7"/></g>
<g stroke="rgba(175,65,35,0.55)" fill="none"><path d="M974,600V616" stroke-width="3.0"/><path d="M970,600H978M970,616H978" stroke-width="2.9"/></g>
<g stroke="rgba(40,30,60,0.62)" fill="none"><path d="M977,606V624" stroke-width="2.5"/><path d="M973,606H981M973,624H981" stroke-width="2.7"/></g>
<g stroke="rgba(40,30,60,0.62)" fill="none"><path d="M985.6,609V628" stroke-width="2.5"/><path d="M981.6,609H989.6M981.6,628H989.6" stroke-width="2.7"/></g>
<g stroke="rgba(40,30,60,0.62)" fill="none"><path d="M990.3,617V635" stroke-width="2.5"/><path d="M986.3,617H994.2M986.3,635H994.2" stroke-width="2.7"/></g>
<g stroke="rgba(40,30,60,0.62)" fill="none"><path d="M1000,607V626" stroke-width="2.5"/><path d="M996,607H1004M996,626H1004" stroke-width="2.7"/></g>
<g stroke="rgba(40,30,60,0.62)" fill="none"><path d="M1014.3,611V630" stroke-width="2.5"/><path d="M1010.3,611H1018.2M1010.3,630H1018.2" stroke-width="2.7"/></g>
<g stroke="rgba(40,30,60,0.62)" fill="none"><path d="M1018.6,595V616" stroke-width="2.5"/><path d="M1014.6,595H1022.6M1014.6,616H1022.6" stroke-width="2.7"/></g>
<g stroke="rgba(40,30,60,0.62)" fill="none"><path d="M1036,600V620" stroke-width="2.5"/><path d="M1032,600H1040M1032,620H1040" stroke-width="2.7"/></g>
<g stroke="rgba(40,30,60,0.62)" fill="none"><path d="M1053.3,598V617" stroke-width="2.5"/><path d="M1049.3,598H1057.2M1049.3,617H1057.2" stroke-width="2.7"/></g>
<g stroke="rgba(40,30,60,0.62)" fill="none"><path d="M1057.3,597V616" stroke-width="2.5"/><path d="M1053.3,597H1061.2M1053.3,616H1061.2" stroke-width="2.7"/></g>
<g stroke="rgba(40,30,60,0.62)" fill="none"><path d="M1076.2,593V613" stroke-width="2.5"/><path d="M1072.2,593H1080.2M1072.2,613H1080.2" stroke-width="2.7"/></g>
<g stroke="rgba(40,30,60,0.62)" fill="none"><path d="M1084,594V613" stroke-width="2.5"/><path d="M1080,594H1088M1080,613H1088" stroke-width="2.7"/></g>
<g stroke="rgba(40,30,60,0.62)" fill="none"><path d="M1095.5,588V607" stroke-width="2.5"/><path d="M1091.5,588H1099.5M1091.5,607H1099.5" stroke-width="2.7"/></g>
<g stroke="rgba(40,30,60,0.62)" fill="none"><path d="M1098.5,586V605" stroke-width="2.5"/><path d="M1094.5,586H1102.5M1094.5,605H1102.5" stroke-width="2.7"/></g>
<g stroke="rgba(40,30,60,0.62)" fill="none"><path d="M1112.9,576V596" stroke-width="2.5"/><path d="M1109,576H1116.9M1109,596H1116.9" stroke-width="2.7"/></g>
<g stroke="rgba(40,30,60,0.62)" fill="none"><path d="M1107.5,553V590" stroke-width="2.5"/><path d="M1103.5,553H1111.5M1103.5,590H1111.5" stroke-width="2.7"/></g>
<g stroke="rgba(40,30,60,0.62)" fill="none"><path d="M1143,538V587" stroke-width="2.5"/><path d="M1139,538H1147M1139,587H1147" stroke-width="2.7"/></g>
<g stroke="rgba(40,30,60,0.62)" fill="none"><path d="M1225,519.4V558" stroke-width="2.5"/><path d="M1221,519.4H1229M1221,558H1229" stroke-width="2.7"/></g>
<g stroke="rgba(40,30,60,0.62)" fill="none"><path d="M1235.6,607.5V656" stroke-width="2.5"/><path d="M1231.6,607.5H1239.5M1231.6,656H1239.5" stroke-width="2.7"/></g>
<g stroke="rgba(40,30,60,0.62)" fill="none"><path d="M1291.3,475.5V524.1" stroke-width="2.5"/><path d="M1287.3,475.5H1295.2M1287.3,524.1H1295.2" stroke-width="2.7"/></g>
<g stroke="rgba(40,30,60,0.62)" fill="none"><path d="M1346.7,392.8V451.4" stroke-width="2.5"/><path d="M1342.8,392.8H1350.7M1342.8,451.4H1350.7" stroke-width="2.7"/></g>
<g stroke="rgba(40,30,60,0.62)" fill="none"><path d="M1394.1,316.1V373.9" stroke-width="2.5"/><path d="M1390.1,316.1H1398M1390.1,373.9H1398" stroke-width="2.7"/></g>
<g stroke="rgba(40,30,60,0.62)" fill="none"><path d="M1418.5,270V312.8" stroke-width="2.5"/><path d="M1414.5,270H1422.5M1414.5,312.8H1422.5" stroke-width="2.7"/></g>
<g stroke="rgba(40,30,60,0.62)" fill="none"><path d="M1420.6,263V278" stroke-width="2.5"/><path d="M1416.6,263H1424.5M1416.6,278H1424.5" stroke-width="2.7"/></g>
<g stroke="rgba(40,30,60,0.62)" fill="none"><path d="M1390.1,488V495" stroke-width="2.5"/><path d="M1386.1,488H1394M1386.1,495H1394" stroke-width="2.7"/></g>
<g stroke="rgba(40,30,60,0.62)" fill="none"><path d="M1409.7,390.5V397.5" stroke-width="2.5"/><path d="M1405.8,390.5H1413.7M1405.8,397.5H1413.7" stroke-width="2.7"/></g>
<g stroke="rgba(40,30,60,0.62)" fill="none"><path d="M1429.2,368V375.5" stroke-width="2.5"/><path d="M1425.2,368H1433.2M1425.2,375.5H1433.2" stroke-width="2.7"/></g>
<g stroke="rgba(40,30,60,0.62)" fill="none"><path d="M1460.4,376.5V383.5" stroke-width="2.5"/><path d="M1456.5,376.5H1464.4M1456.5,383.5H1464.4" stroke-width="2.7"/></g>
<g stroke="rgba(40,30,60,0.62)" fill="none"><path d="M1466,269V276" stroke-width="2.5"/><path d="M1462,269H1470M1462,276H1470" stroke-width="2.7"/></g>
<g stroke="rgba(40,30,60,0.62)" fill="none"><path d="M1469.4,234V241" stroke-width="2.5"/><path d="M1465.5,234H1473.4M1465.5,241H1473.4" stroke-width="2.7"/></g>
<g stroke="rgba(40,30,60,0.62)" fill="none"><path d="M1479.7,212.5V219.5" stroke-width="2.5"/><path d="M1475.8,212.5H1483.7M1475.8,219.5H1483.7" stroke-width="2.7"/></g>
<g stroke="rgba(40,30,60,0.62)" fill="none"><path d="M1490.7,201V208" stroke-width="2.5"/><path d="M1486.8,201H1494.7M1486.8,208H1494.7" stroke-width="2.7"/></g>
<g stroke="rgba(40,30,60,0.62)" fill="none"><path d="M1434.4,202V216" stroke-width="2.5"/><path d="M1430.5,202H1438.4M1430.5,216H1438.4" stroke-width="2.7"/></g>
<g stroke="rgba(40,30,60,0.62)" fill="none"><path d="M1436.4,165.9V242.9" stroke-width="2.5"/><path d="M1432.5,165.9H1440.4M1432.5,242.9H1440.4" stroke-width="2.7"/></g>
<g stroke="rgba(40,30,60,0.62)" fill="none"><path d="M1459.1,160V174" stroke-width="2.5"/><path d="M1455.1,160H1463M1455.1,174H1463" stroke-width="2.7"/></g>
<g stroke="rgba(40,30,60,0.62)" fill="none"><path d="M1471.5,151V165" stroke-width="2.5"/><path d="M1467.5,151H1475.5M1467.5,165H1475.5" stroke-width="2.7"/></g>
<g stroke="rgba(40,30,60,0.62)" fill="none"><path d="M1474.2,160V195.5" stroke-width="2.5"/><path d="M1470.2,160H1478.2M1470.2,195.5H1478.2" stroke-width="2.7"/></g>
<g stroke="rgba(40,30,60,0.62)" fill="none"><path d="M1473.5,102.7V190" stroke-width="2.5"/><path d="M1469.5,102.7H1477.5M1469.5,190H1477.5" stroke-width="2.7"/></g>
<g stroke="rgba(40,30,60,0.62)" fill="none"><path d="M1483.8,145V159" stroke-width="2.5"/><path d="M1479.8,145H1487.8M1479.8,159H1487.8" stroke-width="2.7"/></g>
<g stroke="rgba(40,30,60,0.62)" fill="none"><path d="M1487,166V180" stroke-width="2.5"/><path d="M1483,166H1491M1483,180H1491" stroke-width="2.7"/></g>
<g stroke="rgba(40,30,60,0.62)" fill="none"><path d="M1505.4,132V146" stroke-width="2.5"/><path d="M1501.5,132H1509.4M1501.5,146H1509.4" stroke-width="2.7"/></g>
<g stroke="rgba(40,30,60,0.62)" fill="none"><path d="M1507.6,129V142" stroke-width="2.5"/><path d="M1503.6,129H1511.5M1503.6,142H1511.5" stroke-width="2.7"/></g>
<g stroke="rgba(40,30,60,0.62)" fill="none"><path d="M1526.3,131V145" stroke-width="2.5"/><path d="M1522.3,131H1530.2M1522.3,145H1530.2" stroke-width="2.7"/></g>
<g stroke="rgba(40,30,60,0.62)" fill="none"><path d="M1530.7,121V135" stroke-width="2.5"/><path d="M1526.8,121H1534.7M1526.8,135H1534.7" stroke-width="2.7"/></g>
<g stroke="rgba(40,30,60,0.62)" fill="none"><path d="M1546.1,130V144" stroke-width="2.5"/><path d="M1542.1,130H1550M1542.1,144H1550" stroke-width="2.7"/></g>
<g stroke="rgba(40,30,60,0.62)" fill="none"><path d="M1541.2,148V162" stroke-width="2.5"/><path d="M1537.2,148H1545.2M1537.2,162H1545.2" stroke-width="2.7"/></g>
<g stroke="rgba(40,30,60,0.62)" fill="none"><path d="M1554.9,148V162" stroke-width="2.5"/><path d="M1551,148H1558.9M1551,162H1558.9" stroke-width="2.7"/></g>
<g stroke="rgba(40,30,60,0.62)" fill="none"><path d="M1567.6,166V180" stroke-width="2.5"/><path d="M1563.6,166H1571.5M1563.6,180H1571.5" stroke-width="2.7"/></g>
<g stroke="rgba(40,30,60,0.62)" fill="none"><path d="M1564.8,180V194" stroke-width="2.5"/><path d="M1560.8,180H1568.8M1560.8,194H1568.8" stroke-width="2.7"/></g>
<g stroke="rgba(40,30,60,0.62)" fill="none"><path d="M1500.5,132V139" stroke-width="2.5"/><path d="M1496.5,132H1504.5M1496.5,139H1504.5" stroke-width="2.7"/></g>
<g stroke="rgba(40,30,60,0.62)" fill="none"><path d="M1511.5,98V105.5" stroke-width="2.5"/><path d="M1507.5,98H1515.5M1507.5,105.5H1515.5" stroke-width="2.7"/></g>
<g stroke="rgba(40,30,60,0.62)" fill="none"><path d="M1521.9,115V122" stroke-width="2.5"/><path d="M1518,115H1525.9M1518,122H1525.9" stroke-width="2.7"/></g>
<g stroke="rgba(40,30,60,0.62)" fill="none"><path d="M1533.5,112V119.5" stroke-width="2.5"/><path d="M1529.5,112H1537.5M1529.5,119.5H1537.5" stroke-width="2.7"/></g>
<g stroke="rgba(40,30,60,0.62)" fill="none"><path d="M1543.4,112V119.5" stroke-width="2.5"/><path d="M1539.5,112H1547.4M1539.5,119.5H1547.4" stroke-width="2.7"/></g>
<g stroke="rgba(40,30,60,0.62)" fill="none"><path d="M1565.9,128V135" stroke-width="2.5"/><path d="M1562,128H1569.9M1562,135H1569.9" stroke-width="2.7"/></g>
<g stroke="rgba(40,30,60,0.62)" fill="none"><path d="M1589,169.5V177" stroke-width="2.5"/><path d="M1585,169.5H1593M1585,177H1593" stroke-width="2.7"/></g>
<g stroke="rgba(40,30,60,0.62)" fill="none"><path d="M1536,52.3V106.6" stroke-width="2.5"/><path d="M1532,52.3H1540M1532,106.6H1540" stroke-width="2.7"/></g>
<g stroke="rgba(40,30,60,0.62)" fill="none"><path d="M1579.7,99.4V150.6" stroke-width="2.5"/><path d="M1575.8,99.4H1583.7M1575.8,150.6H1583.7" stroke-width="2.7"/></g>
<g stroke="rgba(40,30,60,0.62)" fill="none"><path d="M1560.4,119.2V160" stroke-width="2.5"/><path d="M1556.5,119.2H1564.4M1556.5,160H1564.4" stroke-width="2.7"/></g>
<g stroke="rgba(40,30,60,0.62)" fill="none"><path d="M1605.9,201.5V209" stroke-width="2.5"/><path d="M1602,201.5H1609.9M1602,209H1609.9" stroke-width="2.7"/></g>
<g stroke="rgba(40,30,60,0.62)" fill="none"><path d="M1610.2,203V210.5" stroke-width="2.5"/><path d="M1606.2,203H1614.2M1606.2,210.5H1614.2" stroke-width="2.7"/></g>
<g stroke="rgba(40,30,60,0.62)" fill="none"><path d="M1584.8,204V217" stroke-width="2.5"/><path d="M1580.8,204H1588.8M1580.8,217H1588.8" stroke-width="2.7"/></g>
<g stroke="rgba(40,30,60,0.62)" fill="none"><path d="M1588.6,208V222" stroke-width="2.5"/><path d="M1584.6,208H1592.5M1584.6,222H1592.5" stroke-width="2.7"/></g>
<g stroke="rgba(40,30,60,0.62)" fill="none"><path d="M1601.5,241V254" stroke-width="2.5"/><path d="M1597.5,241H1605.5M1597.5,254H1605.5" stroke-width="2.7"/></g>
<g stroke="rgba(40,30,60,0.62)" fill="none"><path d="M1605.3,250V263" stroke-width="2.5"/><path d="M1601.3,250H1609.2M1601.3,263H1609.2" stroke-width="2.7"/></g>
<g stroke="rgba(40,30,60,0.62)" fill="none"><path d="M1608.4,258V272" stroke-width="2.5"/><path d="M1604.5,258H1612.4M1604.5,272H1612.4" stroke-width="2.7"/></g>
<g stroke="rgba(40,30,60,0.62)" fill="none"><path d="M1625.7,242.2V284" stroke-width="2.5"/><path d="M1621.8,242.2H1629.7M1621.8,284H1629.7" stroke-width="2.7"/></g>
<g stroke="rgba(40,30,60,0.62)" fill="none"><path d="M1626.3,273V280.5" stroke-width="2.5"/><path d="M1622.3,273H1630.2M1622.3,280.5H1630.2" stroke-width="2.7"/></g>
<g stroke="rgba(40,30,60,0.62)" fill="none"><path d="M1634.3,287.5V294.5" stroke-width="2.5"/><path d="M1630.3,287.5H1638.2M1630.3,294.5H1638.2" stroke-width="2.7"/></g>
<g stroke="rgba(40,30,60,0.62)" fill="none"><path d="M1618.2,289V302" stroke-width="2.5"/><path d="M1614.2,289H1622.2M1614.2,302H1622.2" stroke-width="2.7"/></g>
<g stroke="rgba(40,30,60,0.62)" fill="none"><path d="M1634.7,323V336" stroke-width="2.5"/><path d="M1630.8,323H1638.7M1630.8,336H1638.7" stroke-width="2.7"/></g>
<g stroke="rgba(40,30,60,0.62)" fill="none"><path d="M1632,330V343" stroke-width="2.5"/><path d="M1628,330H1636M1628,343H1636" stroke-width="2.7"/></g>
<g stroke="rgba(40,30,60,0.62)" fill="none"><path d="M1661.5,319.2V360.5" stroke-width="2.5"/><path d="M1657.5,319.2H1665.5M1657.5,360.5H1665.5" stroke-width="2.7"/></g>
<g stroke="rgba(40,30,60,0.62)" fill="none"><path d="M1660.9,357.5V365" stroke-width="2.5"/><path d="M1657,357.5H1664.9M1657,365H1664.9" stroke-width="2.7"/></g>
<g stroke="rgba(40,30,60,0.62)" fill="none"><path d="M1649.2,358V371" stroke-width="2.5"/><path d="M1645.2,358H1653.2M1645.2,371H1653.2" stroke-width="2.7"/></g>
<g stroke="rgba(40,30,60,0.62)" fill="none"><path d="M1649.9,368V381" stroke-width="2.5"/><path d="M1646,368H1653.9M1646,381H1653.9" stroke-width="2.7"/></g>
<g stroke="rgba(40,30,60,0.62)" fill="none"><path d="M1647.8,383V396" stroke-width="2.5"/><path d="M1643.8,383H1651.8M1643.8,396H1651.8" stroke-width="2.7"/></g>
<g stroke="rgba(40,30,60,0.62)" fill="none"><path d="M1662.2,414V428" stroke-width="2.5"/><path d="M1658.2,414H1666.2M1658.2,428H1666.2" stroke-width="2.7"/></g>
<g stroke="rgba(40,30,60,0.62)" fill="none"><path d="M1663.6,419V432" stroke-width="2.5"/><path d="M1659.6,419H1667.5M1659.6,432H1667.5" stroke-width="2.7"/></g>
<g stroke="rgba(40,30,60,0.62)" fill="none"><path d="M1675.3,418.9V452.6" stroke-width="2.5"/><path d="M1671.3,418.9H1679.2M1671.3,452.6H1679.2" stroke-width="2.7"/></g>
<g stroke="rgba(40,30,60,0.62)" fill="none"><path d="M1669.1,455V468" stroke-width="2.5"/><path d="M1665.1,455H1673M1665.1,468H1673" stroke-width="2.7"/></g>
<g stroke="rgba(40,30,60,0.62)" fill="none"><path d="M1676,465V478" stroke-width="2.5"/><path d="M1672,465H1680M1672,478H1680" stroke-width="2.7"/></g>
<g stroke="rgba(40,30,60,0.62)" fill="none"><path d="M1684.2,480V493" stroke-width="2.5"/><path d="M1680.2,480H1688.2M1680.2,493H1688.2" stroke-width="2.7"/></g>
<g stroke="rgba(40,30,60,0.62)" fill="none"><path d="M1686.3,468V475.5" stroke-width="2.5"/><path d="M1682.3,468H1690.2M1682.3,475.5H1690.2" stroke-width="2.7"/></g>
<g stroke="rgba(40,30,60,0.62)" fill="none"><path d="M1697.3,471.1V500" stroke-width="2.5"/><path d="M1693.3,471.1H1701.2M1693.3,500H1701.2" stroke-width="2.7"/></g>
<g stroke="rgba(40,30,60,0.62)" fill="none"><path d="M1689.8,506V519" stroke-width="2.5"/><path d="M1685.8,506H1693.8M1685.8,519H1693.8" stroke-width="2.7"/></g>
<g stroke="rgba(40,30,60,0.62)" fill="none"><path d="M1715.8,530.5V537.5" stroke-width="2.5"/><path d="M1711.8,530.5H1719.8M1711.8,537.5H1719.8" stroke-width="2.7"/></g>
<g stroke="rgba(40,30,60,0.62)" fill="none"><path d="M1702.6,539V551" stroke-width="2.5"/><path d="M1698.6,539H1706.5M1698.6,551H1706.5" stroke-width="2.7"/></g>
<g stroke="rgba(40,30,60,0.62)" fill="none"><path d="M1714.6,572V585" stroke-width="2.5"/><path d="M1710.6,572H1718.5M1710.6,585H1718.5" stroke-width="2.7"/></g>
<g stroke="rgba(40,30,60,0.62)" fill="none"><path d="M1716.5,585V597" stroke-width="2.5"/><path d="M1712.5,585H1720.5M1712.5,597H1720.5" stroke-width="2.7"/></g>
<g stroke="rgba(40,30,60,0.62)" fill="none"><path d="M1725.9,603V615" stroke-width="2.5"/><path d="M1722,603H1729.9M1722,615H1729.9" stroke-width="2.7"/></g>
<g stroke="rgba(40,30,60,0.62)" fill="none"><path d="M1751.9,612V634" stroke-width="2.5"/><path d="M1748,612H1755.9M1748,634H1755.9" stroke-width="2.7"/></g>
<g stroke="rgba(40,30,60,0.62)" fill="none"><path d="M1737.5,627V639" stroke-width="2.5"/><path d="M1733.5,627H1741.5M1733.5,639H1741.5" stroke-width="2.7"/></g>
<g stroke="rgba(40,30,60,0.62)" fill="none"><path d="M1748.3,647V654.5" stroke-width="2.5"/><path d="M1744.3,647H1752.2M1744.3,654.5H1752.2" stroke-width="2.7"/></g>
<g stroke="rgba(40,30,60,0.62)" fill="none"><path d="M1748.3,654V667" stroke-width="2.5"/><path d="M1744.3,654H1752.2M1744.3,667H1752.2" stroke-width="2.7"/></g>
<g stroke="rgba(40,30,60,0.62)" fill="none"><path d="M1745.9,664V676" stroke-width="2.5"/><path d="M1742,664H1749.9M1742,676H1749.9" stroke-width="2.7"/></g>
<g stroke="rgba(40,30,60,0.62)" fill="none"><path d="M1754.3,666V679" stroke-width="2.5"/><path d="M1750.3,666H1758.2M1750.3,679H1758.2" stroke-width="2.7"/></g>
<g stroke="rgba(40,30,60,0.62)" fill="none"><path d="M1773.5,691V698" stroke-width="2.5"/><path d="M1769.5,691H1777.5M1769.5,698H1777.5" stroke-width="2.7"/></g>
<g stroke="rgba(40,30,60,0.62)" fill="none"><path d="M1773.1,714V726" stroke-width="2.5"/><path d="M1769.1,714H1777M1769.1,726H1777" stroke-width="2.7"/></g>
<g stroke="rgba(40,30,60,0.62)" fill="none"><path d="M1790.4,729V736" stroke-width="2.5"/><path d="M1786.5,729H1794.4M1786.5,736H1794.4" stroke-width="2.7"/></g>
<g stroke="rgba(40,30,60,0.62)" fill="none"><path d="M1801.2,726V742" stroke-width="2.5"/><path d="M1797.2,726H1805.2M1797.2,742H1805.2" stroke-width="2.7"/></g>
<g stroke="rgba(40,30,60,0.62)" fill="none"><path d="M1804.8,748.5V755.5" stroke-width="2.5"/><path d="M1800.8,748.5H1808.8M1800.8,755.5H1808.8" stroke-width="2.7"/></g>
<g stroke="rgba(40,30,60,0.62)" fill="none"><path d="M1820,761.5V768.5" stroke-width="2.5"/><path d="M1816,761.5H1824M1816,768.5H1824" stroke-width="2.7"/></g>
<g stroke="#961e00" stroke-opacity="0.8" stroke-width="2.1" fill="none"><path d="M191.4,509.3H216.6"/><path d="M204,496.7V521.9"/><path d="M195.1,500.4L212.9,518.2"/><path d="M195.1,518.2L212.9,500.4"/></g>
<g stroke="#961e00" stroke-opacity="0.8" stroke-width="2.1" fill="none"><path d="M220.1,543H245.3"/><path d="M232.7,530.4V555.6"/><path d="M223.8,534.1L241.6,551.9"/><path d="M223.8,551.9L241.6,534.1"/></g>
<g stroke="#961e00" stroke-opacity="0.8" stroke-width="2.1" fill="none"><path d="M229.2,587.4H254.4"/><path d="M241.8,574.8V600"/><path d="M232.9,578.5L250.7,596.3"/><path d="M232.9,596.3L250.7,578.5"/></g>
<g stroke="#961e00" stroke-opacity="0.8" stroke-width="2.1" fill="none"><path d="M249.7,545.8H274.9"/><path d="M262.3,533.2V558.4"/><path d="M253.4,536.9L271.2,554.7"/><path d="M253.4,554.7L271.2,536.9"/></g>
<g stroke="#961e00" stroke-opacity="0.8" stroke-width="2.1" fill="none"><path d="M255.6,503.2H280.8"/><path d="M268.2,490.6V515.8"/><path d="M259.3,494.3L277.1,512.1"/><path d="M259.3,512.1L277.1,494.3"/></g>
<g stroke="#961e00" stroke-opacity="0.8" stroke-width="2.1" fill="none"><path d="M274.1,549.9H299.3"/><path d="M286.7,537.3V562.5"/><path d="M277.8,541L295.6,558.8"/><path d="M277.8,558.8L295.6,541"/></g>
<g stroke="#961e00" stroke-opacity="0.8" stroke-width="2.1" fill="none"><path d="M278.2,591.1H303.4"/><path d="M290.8,578.5V603.7"/><path d="M281.9,582.2L299.7,600"/><path d="M281.9,600L299.7,582.2"/></g>
<g stroke="#961e00" stroke-opacity="0.8" stroke-width="2.1" fill="none"><path d="M283,510H308.2"/><path d="M295.6,497.4V522.6"/><path d="M286.7,501.1L304.5,518.9"/><path d="M286.7,518.9L304.5,501.1"/></g>
<g stroke="#961e00" stroke-opacity="0.8" stroke-width="2.1" fill="none"><path d="M284.8,549H310"/><path d="M297.4,536.4V561.6"/><path d="M288.5,540.1L306.3,557.9"/><path d="M288.5,557.9L306.3,540.1"/></g>
<g stroke="#961e00" stroke-opacity="0.8" stroke-width="2.1" fill="none"><path d="M299.7,543.1H324.9"/><path d="M312.3,530.5V555.7"/><path d="M303.4,534.2L321.2,552"/><path d="M303.4,552L321.2,534.2"/></g>
<g stroke="#961e00" stroke-opacity="0.8" stroke-width="2.1" fill="none"><path d="M306.6,555.5H331.8"/><path d="M319.2,542.9V568.1"/><path d="M310.3,546.6L328.1,564.4"/><path d="M310.3,564.4L328.1,546.6"/></g>
<g stroke="#961e00" stroke-opacity="0.8" stroke-width="2.1" fill="none"><path d="M307.3,576.1H332.5"/><path d="M319.9,563.5V588.7"/><path d="M311,567.2L328.8,585"/><path d="M311,585L328.8,567.2"/></g>
<g stroke="#961e00" stroke-opacity="0.8" stroke-width="2.1" fill="none"><path d="M325.1,584.3H350.3"/><path d="M337.7,571.7V596.9"/><path d="M328.8,575.4L346.6,593.2"/><path d="M328.8,593.2L346.6,575.4"/></g>
<g stroke="#961e00" stroke-opacity="0.8" stroke-width="2.1" fill="none"><path d="M341.6,577.5H366.8"/><path d="M354.2,564.9V590.1"/><path d="M345.3,568.6L363.1,586.4"/><path d="M345.3,586.4L363.1,568.6"/></g>
<g stroke="#961e00" stroke-opacity="0.8" stroke-width="2.1" fill="none"><path d="M342.3,591.2H367.5"/><path d="M354.9,578.6V603.8"/><path d="M346,582.3L363.8,600.1"/><path d="M346,600.1L363.8,582.3"/></g>
<g stroke="#961e00" stroke-opacity="0.8" stroke-width="2.1" fill="none"><path d="M351.2,575.4H376.4"/><path d="M363.8,562.8V588"/><path d="M354.9,566.5L372.7,584.3"/><path d="M354.9,584.3L372.7,566.5"/></g>
<g stroke="#961e00" stroke-opacity="0.8" stroke-width="2.1" fill="none"><path d="M368.4,576.1H393.6"/><path d="M381,563.5V588.7"/><path d="M372.1,567.2L389.9,585"/><path d="M372.1,585L389.9,567.2"/></g>
<g stroke="#961e00" stroke-opacity="0.8" stroke-width="2.1" fill="none"><path d="M365,596.7H390.2"/><path d="M377.6,584.1V609.3"/><path d="M368.7,587.8L386.5,605.6"/><path d="M368.7,605.6L386.5,587.8"/></g>
<g stroke="#961e00" stroke-opacity="0.8" stroke-width="2.1" fill="none"><path d="M387,599.4H412.2"/><path d="M399.6,586.8V612"/><path d="M390.7,590.5L408.5,608.3"/><path d="M390.7,608.3L408.5,590.5"/></g>
<g stroke="#961e00" stroke-opacity="0.8" stroke-width="2.1" fill="none"><path d="M382.9,605H408.1"/><path d="M395.5,592.4V617.6"/><path d="M386.6,596.1L404.4,613.9"/><path d="M386.6,613.9L404.4,596.1"/></g>
<g stroke="#961e00" stroke-opacity="0.8" stroke-width="2.1" fill="none"><path d="M390.3,599.7H415.5"/><path d="M402.9,587.1V612.3"/><path d="M394,590.8L411.8,608.6"/><path d="M394,608.6L411.8,590.8"/></g>
<g stroke="#961e00" stroke-opacity="0.8" stroke-width="2.1" fill="none"><path d="M417.2,622.8H442.4"/><path d="M429.8,610.2V635.4"/><path d="M420.9,613.9L438.7,631.7"/><path d="M420.9,631.7L438.7,613.9"/></g>
<g stroke="#961e00" stroke-opacity="0.8" stroke-width="2.1" fill="none"><path d="M423,598.2H448.2"/><path d="M435.6,585.6V610.8"/><path d="M426.7,589.3L444.5,607.1"/><path d="M426.7,607.1L444.5,589.3"/></g>
<g stroke="#961e00" stroke-opacity="0.8" stroke-width="2.1" fill="none"><path d="M419.2,623.7H444.4"/><path d="M431.8,611.1V636.3"/><path d="M422.9,614.8L440.7,632.6"/><path d="M422.9,632.6L440.7,614.8"/></g>
<g stroke="#961e00" stroke-opacity="0.8" stroke-width="2.1" fill="none"><path d="M432.6,621.8H457.8"/><path d="M445.2,609.2V634.4"/><path d="M436.3,612.9L454.1,630.7"/><path d="M436.3,630.7L454.1,612.9"/></g>
<g stroke="#961e00" stroke-opacity="0.8" stroke-width="2.1" fill="none"><path d="M441.3,601.6H466.5"/><path d="M453.9,589V614.2"/><path d="M445,592.7L462.8,610.5"/><path d="M445,610.5L462.8,592.7"/></g>
<g stroke="#961e00" stroke-opacity="0.8" stroke-width="2.1" fill="none"><path d="M450,621.8H475.2"/><path d="M462.6,609.2V634.4"/><path d="M453.7,612.9L471.5,630.7"/><path d="M453.7,630.7L471.5,612.9"/></g>
<g stroke="#961e00" stroke-opacity="0.8" stroke-width="2.1" fill="none"><path d="M456.7,613.1H481.9"/><path d="M469.3,600.5V625.7"/><path d="M460.4,604.2L478.2,622"/><path d="M460.4,622L478.2,604.2"/></g>
<g stroke="#961e00" stroke-opacity="0.8" stroke-width="2.1" fill="none"><path d="M465.4,615.1H490.6"/><path d="M478,602.5V627.7"/><path d="M469.1,606.2L486.9,624"/><path d="M469.1,624L486.9,606.2"/></g>
<g stroke="#961e00" stroke-opacity="0.8" stroke-width="2.1" fill="none"><path d="M479.8,615.1H505"/><path d="M492.4,602.5V627.7"/><path d="M483.5,606.2L501.3,624"/><path d="M483.5,624L501.3,606.2"/></g>
<g stroke="#961e00" stroke-opacity="0.8" stroke-width="2.1" fill="none"><path d="M483.6,624.7H508.8"/><path d="M496.2,612.1V637.3"/><path d="M487.3,615.8L505.1,633.6"/><path d="M487.3,633.6L505.1,615.8"/></g>
<g stroke="#961e00" stroke-opacity="0.8" stroke-width="2.1" fill="none"><path d="M488.5,617H513.7"/><path d="M501.1,604.4V629.6"/><path d="M492.2,608.1L510,625.9"/><path d="M492.2,625.9L510,608.1"/></g>
<g stroke="#961e00" stroke-opacity="0.8" stroke-width="2.1" fill="none"><path d="M513.5,626.6H538.7"/><path d="M526.1,614V639.2"/><path d="M517.2,617.7L535,635.5"/><path d="M517.2,635.5L535,617.7"/></g>
<g stroke="#961e00" stroke-opacity="0.8" stroke-width="2.1" fill="none"><path d="M520.2,619.9H545.4"/><path d="M532.8,607.3V632.5"/><path d="M523.9,611L541.7,628.8"/><path d="M523.9,628.8L541.7,611"/></g>
<g stroke="#961e00" stroke-opacity="0.8" stroke-width="2.1" fill="none"><path d="M541.4,626.6H566.6"/><path d="M554,614V639.2"/><path d="M545.1,617.7L562.9,635.5"/><path d="M545.1,635.5L562.9,617.7"/></g>
<g stroke="#961e00" stroke-opacity="0.8" stroke-width="2.1" fill="none"><path d="M412.4,622H437.6"/><path d="M425,609.4V634.6"/><path d="M416.1,613.1L433.9,630.9"/><path d="M416.1,630.9L433.9,613.1"/></g>
<g stroke="#961e00" stroke-opacity="0.8" stroke-width="2.1" fill="none"><path d="M424.4,628H449.6"/><path d="M437,615.4V640.6"/><path d="M428.1,619.1L445.9,636.9"/><path d="M428.1,636.9L445.9,619.1"/></g>
<g stroke="#961e00" stroke-opacity="0.8" stroke-width="2.1" fill="none"><path d="M428.4,614H453.6"/><path d="M441,601.4V626.6"/><path d="M432.1,605.1L449.9,622.9"/><path d="M432.1,622.9L449.9,605.1"/></g>
<g stroke="#961e00" stroke-opacity="0.8" stroke-width="2.1" fill="none"><path d="M467.4,606H492.6"/><path d="M480,593.4V618.6"/><path d="M471.1,597.1L488.9,614.9"/><path d="M471.1,614.9L488.9,597.1"/></g>
<g stroke="#961e00" stroke-opacity="0.8" stroke-width="2.1" fill="none"><path d="M497.4,612H522.6"/><path d="M510,599.4V624.6"/><path d="M501.1,603.1L518.9,620.9"/><path d="M501.1,620.9L518.9,603.1"/></g>
<g stroke="#961e00" stroke-opacity="0.8" stroke-width="2.1" fill="none"><path d="M502.4,619H527.6"/><path d="M515,606.4V631.6"/><path d="M506.1,610.1L523.9,627.9"/><path d="M506.1,627.9L523.9,610.1"/></g>
<g stroke="#961e00" stroke-opacity="0.8" stroke-width="2.1" fill="none"><path d="M525.4,622H550.6"/><path d="M538,609.4V634.6"/><path d="M529.1,613.1L546.9,630.9"/><path d="M529.1,630.9L546.9,613.1"/></g>
<g stroke="#961e00" stroke-opacity="0.8" stroke-width="2.1" fill="none"><path d="M534.4,617H559.6"/><path d="M547,604.4V629.6"/><path d="M538.1,608.1L555.9,625.9"/><path d="M538.1,625.9L555.9,608.1"/></g>
<g stroke="#961e00" stroke-opacity="0.8" stroke-width="2.1" fill="none"><path d="M472.4,622H497.6"/><path d="M485,609.4V634.6"/><path d="M476.1,613.1L493.9,630.9"/><path d="M476.1,630.9L493.9,613.1"/></g>
<g stroke="#961e00" stroke-opacity="0.8" stroke-width="2.1" fill="none"><path d="M539.4,630H564.6"/><path d="M552,617.4V642.6"/><path d="M543.1,621.1L560.9,638.9"/><path d="M543.1,638.9L560.9,621.1"/></g>
<g stroke="#961e00" stroke-opacity="0.8" stroke-width="2.1" fill="none"><path d="M544.9,620.5H570.1"/><path d="M557.5,607.9V633.1"/><path d="M548.6,611.6L566.4,629.4"/><path d="M548.6,629.4L566.4,611.6"/></g>
<g stroke="#961e00" stroke-opacity="0.8" stroke-width="2.1" fill="none"><path d="M533.9,628.5H559.1"/><path d="M546.5,615.9V641.1"/><path d="M537.6,619.6L555.4,637.4"/><path d="M537.6,637.4L555.4,619.6"/></g>
<g stroke="#961e00" stroke-opacity="0.8" stroke-width="2.1" fill="none"><path d="M540.4,624H565.6"/><path d="M553,611.4V636.6"/><path d="M544.1,615.1L561.9,632.9"/><path d="M544.1,632.9L561.9,615.1"/></g>
<rect x="254.4" y="449.3" width="17" height="17" fill="none" stroke="#1e1530" stroke-width="2"/>
<rect x="286.5" y="471.3" width="17" height="17" fill="none" stroke="#1e1530" stroke-width="2"/>
<rect x="317.5" y="467.9" width="17" height="17" fill="none" stroke="#1e1530" stroke-width="2"/>
<rect x="316.9" y="514.7" width="17" height="17" fill="none" stroke="#1e1530" stroke-width="2"/>
<rect x="340.9" y="517.4" width="17" height="17" fill="none" stroke="#1e1530" stroke-width="2"/>
<rect x="364.6" y="543.1" width="17" height="17" fill="none" stroke="#1e1530" stroke-width="2"/>
<rect x="393.1" y="528.4" width="17" height="17" fill="none" stroke="#1e1530" stroke-width="2"/>
<rect x="406.5" y="551.1" width="17" height="17" fill="none" stroke="#1e1530" stroke-width="2"/>
<rect x="422.5" y="568.2" width="17" height="17" fill="none" stroke="#1e1530" stroke-width="2"/>
<rect x="455" y="589.2" width="17" height="17" fill="none" stroke="#1e1530" stroke-width="2"/>
<rect x="479.6" y="596.9" width="17" height="17" fill="none" stroke="#1e1530" stroke-width="2"/>
<rect x="515.7" y="608" width="17" height="17" fill="none" stroke="#1e1530" stroke-width="2"/>
<rect x="541.2" y="616.2" width="17" height="17" fill="none" stroke="#1e1530" stroke-width="2"/>
<g stroke="#961e00" stroke-opacity="0.8" stroke-width="2.1" fill="none"><path d="M561.1,611.3H586.3"/><path d="M573.7,598.7V623.9"/><path d="M564.8,602.4L582.6,620.2"/><path d="M564.8,620.2L582.6,602.4"/></g>
<g stroke="#961e00" stroke-opacity="0.8" stroke-width="2.1" fill="none"><path d="M578.9,622.1H604.1"/><path d="M591.5,609.5V634.7"/><path d="M582.6,613.2L600.4,631"/><path d="M582.6,631L600.4,613.2"/></g>
<g stroke="#961e00" stroke-opacity="0.8" stroke-width="2.1" fill="none"><path d="M598.4,628.2H623.6"/><path d="M611,615.6V640.8"/><path d="M602.1,619.3L619.9,637.1"/><path d="M602.1,637.1L619.9,619.3"/></g>
<g stroke="#961e00" stroke-opacity="0.8" stroke-width="2.1" fill="none"><path d="M565.4,624.5H590.6"/><path d="M578,611.9V637.1"/><path d="M569.1,615.6L586.9,633.4"/><path d="M569.1,633.4L586.9,615.6"/></g>
<g stroke="#961e00" stroke-opacity="0.8" stroke-width="2.1" fill="none"><path d="M543.3,627.9H568.5"/><path d="M555.9,615.3V640.5"/><path d="M547,619L564.8,636.8"/><path d="M547,636.8L564.8,619"/></g>
<g stroke="#961e00" stroke-opacity="0.8" stroke-width="2.1" fill="none"><path d="M536.9,624.5H562.1"/><path d="M549.5,611.9V637.1"/><path d="M540.6,615.6L558.4,633.4"/><path d="M540.6,633.4L558.4,615.6"/></g>
<g stroke="#961e00" stroke-opacity="0.8" stroke-width="2.1" fill="none"><path d="M546.8,626.2H572"/><path d="M559.4,613.6V638.8"/><path d="M550.5,617.3L568.3,635.1"/><path d="M550.5,635.1L568.3,617.3"/></g>
<circle cx="561.1" cy="630.9" r="9" fill="rgba(160,38,8,0.84)"/>
<circle cx="613.9" cy="642" r="9" fill="rgba(160,38,8,0.84)"/>
<circle cx="659" cy="646" r="9" fill="rgba(160,38,8,0.84)"/>
<rect x="553.5" y="614.2" width="17" height="17" fill="none" stroke="#1e1530" stroke-width="2"/>
<rect x="585.9" y="617.5" width="17" height="17" fill="none" stroke="#1e1530" stroke-width="2"/>
<rect x="615.9" y="629.4" width="17" height="17" fill="none" stroke="#1e1530" stroke-width="2"/>
<rect x="629.9" y="627.6" width="17" height="17" fill="none" stroke="#1e1530" stroke-width="2"/>
<rect x="534.5" y="616" width="17" height="17" fill="none" stroke="#1e1530" stroke-width="2"/>
<rect x="667.8" y="623.8" width="17" height="17" fill="none" stroke="#1e1530" stroke-width="2"/>
<rect x="692.5" y="630.5" width="17" height="17" fill="none" stroke="#1e1530" stroke-width="2"/>
<circle cx="699.9" cy="644.3" r="9" fill="rgba(160,38,8,0.84)"/>
<rect x="713.9" y="621.9" width="17" height="17" fill="none" stroke="#1e1530" stroke-width="2"/>
<circle cx="735.9" cy="652.5" r="9" fill="rgba(160,38,8,0.84)"/>
<rect x="744.6" y="641" width="17" height="17" fill="none" stroke="#1e1530" stroke-width="2"/>
<rect x="754.8" y="625.3" width="17" height="17" fill="none" stroke="#1e1530" stroke-width="2"/>
<circle cx="768.9" cy="642" r="9" fill="rgba(160,38,8,0.84)"/>
<rect x="772.4" y="625.3" width="17" height="17" fill="none" stroke="#1e1530" stroke-width="2"/>
<circle cx="798" cy="644" r="9" fill="rgba(160,38,8,0.84)"/>
<rect x="806.5" y="622.5" width="17" height="17" fill="none" stroke="#1e1530" stroke-width="2"/>
<circle cx="826.5" cy="631.5" r="9" fill="rgba(160,38,8,0.84)"/>
<rect x="827" y="635" width="17" height="17" fill="none" stroke="#1e1530" stroke-width="2"/>
<circle cx="851" cy="640" r="9" fill="rgba(160,38,8,0.84)"/>
<rect x="853" y="620.5" width="17" height="17" fill="none" stroke="#1e1530" stroke-width="2"/>
<circle cx="875" cy="630.5" r="9" fill="rgba(160,38,8,0.84)"/>
<rect x="867" y="638" width="17" height="17" fill="none" stroke="#1e1530" stroke-width="2"/>
<rect x="880" y="620" width="17" height="17" fill="none" stroke="#1e1530" stroke-width="2"/>
<circle cx="897.5" cy="632" r="9" fill="rgba(160,38,8,0.84)"/>
<rect x="899.5" y="630.5" width="17" height="17" fill="none" stroke="#1e1530" stroke-width="2"/>
<rect x="905" y="613.5" width="17" height="17" fill="none" stroke="#1e1530" stroke-width="2"/>
<circle cx="918" cy="618.5" r="9" fill="rgba(160,38,8,0.84)"/>
<circle cx="937.5" cy="610" r="9" fill="rgba(160,38,8,0.84)"/>
<circle cx="937.5" cy="621.5" r="9" fill="rgba(160,38,8,0.84)"/>
<rect x="929" y="622.5" width="17" height="17" fill="none" stroke="#1e1530" stroke-width="2"/>
<circle cx="956" cy="608.5" r="9" fill="rgba(160,38,8,0.84)"/>
<rect x="953.5" y="615.5" width="17" height="17" fill="none" stroke="#1e1530" stroke-width="2"/>
<circle cx="974" cy="608" r="9" fill="rgba(160,38,8,0.84)"/>
<rect x="968.5" y="606.5" width="17" height="17" fill="none" stroke="#1e1530" stroke-width="2"/>
<rect x="977.1" y="610.1" width="17" height="17" fill="none" stroke="#1e1530" stroke-width="2"/>
<rect x="981.8" y="617.4" width="17" height="17" fill="none" stroke="#1e1530" stroke-width="2"/>
<rect x="991.5" y="608.3" width="17" height="17" fill="none" stroke="#1e1530" stroke-width="2"/>
<rect x="1005.8" y="612.2" width="17" height="17" fill="none" stroke="#1e1530" stroke-width="2"/>
<rect x="1010.1" y="597.4" width="17" height="17" fill="none" stroke="#1e1530" stroke-width="2"/>
<rect x="1027.5" y="601.3" width="17" height="17" fill="none" stroke="#1e1530" stroke-width="2"/>
<rect x="1044.8" y="599.3" width="17" height="17" fill="none" stroke="#1e1530" stroke-width="2"/>
<rect x="1048.8" y="597.8" width="17" height="17" fill="none" stroke="#1e1530" stroke-width="2"/>
<rect x="1067.7" y="594.4" width="17" height="17" fill="none" stroke="#1e1530" stroke-width="2"/>
<rect x="1075.5" y="594.8" width="17" height="17" fill="none" stroke="#1e1530" stroke-width="2"/>
<rect x="1087" y="588.9" width="17" height="17" fill="none" stroke="#1e1530" stroke-width="2"/>
<rect x="1090" y="586.5" width="17" height="17" fill="none" stroke="#1e1530" stroke-width="2"/>
<rect x="1104.4" y="577.7" width="17" height="17" fill="none" stroke="#1e1530" stroke-width="2"/>
<path d="M1040.8,620.2L1058,637.4M1040.8,637.4L1058,620.2" stroke="#1e1530" stroke-width="2" fill="none"/>
<path d="M1067.4,598.4L1084.6,615.6M1067.4,615.6L1084.6,598.4" stroke="#1e1530" stroke-width="2" fill="none"/>
<path d="M1098.9,563.2L1116.1,580.4M1098.9,580.4L1116.1,563.2" stroke="#1e1530" stroke-width="2" fill="none"/>
<path d="M1103.4,572.9L1120.6,590.1M1103.4,590.1L1120.6,572.9" stroke="#1e1530" stroke-width="2" fill="none"/>
<path d="M1102.7,585.7L1119.9,602.9M1102.7,602.9L1119.9,585.7" stroke="#1e1530" stroke-width="2" fill="none"/>
<path d="M1134.4,553.9L1151.6,571.1M1134.4,571.1L1151.6,553.9" stroke="#1e1530" stroke-width="2" fill="none"/>
<path d="M1216.4,530.2L1233.6,547.4M1216.4,547.4L1233.6,530.2" stroke="#1e1530" stroke-width="2" fill="none"/>
<path d="M1235.6,621.4L1246.6,640.7L1224.6,640.7Z" fill="#2c2340"/>
<path d="M1282.7,491.2L1299.9,508.4M1282.7,508.4L1299.9,491.2" stroke="#1e1530" stroke-width="2" fill="none"/>
<path d="M1338.1,413.9L1355.3,431.1M1338.1,431.1L1355.3,413.9" stroke="#1e1530" stroke-width="2" fill="none"/>
<path d="M1385.5,336.4L1402.7,353.6M1385.5,353.6L1402.7,336.4" stroke="#1e1530" stroke-width="2" fill="none"/>
<path d="M1418.5,279L1429.5,298.3L1407.5,298.3Z" fill="#2c2340"/>
<circle cx="1420.6" cy="270.4" r="8.1" fill="none" stroke="#1e1530" stroke-width="2"/><path d="M1412.5,270.4H1428.7M1420.6,262.3V278.5" stroke="#1e1530" stroke-width="1.8"/>
<path d="M1377.6,491.5H1402.6M1390.1,479V504" stroke="#1e1530" stroke-width="2" fill="none"/>
<path d="M1397.2,394H1422.2M1409.7,381.5V406.5" stroke="#1e1530" stroke-width="2" fill="none"/>
<path d="M1416.7,371.9H1441.7M1429.2,359.4V384.4" stroke="#1e1530" stroke-width="2" fill="none"/>
<path d="M1447.9,380H1472.9M1460.4,367.5V392.5" stroke="#1e1530" stroke-width="2" fill="none"/>
<path d="M1453.5,272.4H1478.5M1466,259.9V284.9" stroke="#1e1530" stroke-width="2" fill="none"/>
<path d="M1456.9,237.4H1481.9M1469.4,224.9V249.9" stroke="#1e1530" stroke-width="2" fill="none"/>
<path d="M1467.2,216.1H1492.2M1479.7,203.6V228.6" stroke="#1e1530" stroke-width="2" fill="none"/>
<path d="M1478.2,204.4H1503.2M1490.7,191.9V216.9" stroke="#1e1530" stroke-width="2" fill="none"/>
<circle cx="1434.4" cy="209.2" r="8.1" fill="none" stroke="#1e1530" stroke-width="2"/><path d="M1426.3,209.2H1442.5M1434.4,201.1V217.3" stroke="#1e1530" stroke-width="1.8"/>
<path d="M1427.8,194.4L1445,211.6M1427.8,211.6L1445,194.4" stroke="#1e1530" stroke-width="2" fill="none"/>
<circle cx="1459.1" cy="167.3" r="8.1" fill="none" stroke="#1e1530" stroke-width="2"/><path d="M1451,167.3H1467.2M1459.1,159.2V175.4" stroke="#1e1530" stroke-width="1.8"/>
<circle cx="1471.5" cy="158.4" r="8.1" fill="none" stroke="#1e1530" stroke-width="2"/><path d="M1463.4,158.4H1479.6M1471.5,150.3V166.5" stroke="#1e1530" stroke-width="1.8"/>
<path d="M1474.2,164.3L1485.2,183.6L1463.2,183.6Z" fill="#2c2340"/>
<path d="M1464.9,136L1482.1,153.2M1464.9,153.2L1482.1,136" stroke="#1e1530" stroke-width="2" fill="none"/>
<circle cx="1483.8" cy="152.2" r="8.1" fill="none" stroke="#1e1530" stroke-width="2"/><path d="M1475.7,152.2H1491.9M1483.8,144.1V160.3" stroke="#1e1530" stroke-width="1.8"/>
<circle cx="1487" cy="173.5" r="8.1" fill="none" stroke="#1e1530" stroke-width="2"/><path d="M1478.9,173.5H1495.1M1487,165.4V181.6" stroke="#1e1530" stroke-width="1.8"/>
<circle cx="1505.4" cy="139" r="8.1" fill="none" stroke="#1e1530" stroke-width="2"/><path d="M1497.3,139H1513.5M1505.4,130.9V147.1" stroke="#1e1530" stroke-width="1.8"/>
<circle cx="1507.6" cy="135.7" r="8.1" fill="none" stroke="#1e1530" stroke-width="2"/><path d="M1499.5,135.7H1515.7M1507.6,127.6V143.8" stroke="#1e1530" stroke-width="1.8"/>
<circle cx="1526.3" cy="137.9" r="8.1" fill="none" stroke="#1e1530" stroke-width="2"/><path d="M1518.2,137.9H1534.4M1526.3,129.8V146" stroke="#1e1530" stroke-width="1.8"/>
<circle cx="1530.7" cy="128" r="8.1" fill="none" stroke="#1e1530" stroke-width="2"/><path d="M1522.6,128H1538.8M1530.7,119.9V136.1" stroke="#1e1530" stroke-width="1.8"/>
<circle cx="1546.1" cy="137.4" r="8.1" fill="none" stroke="#1e1530" stroke-width="2"/><path d="M1538,137.4H1554.2M1546.1,129.3V145.5" stroke="#1e1530" stroke-width="1.8"/>
<circle cx="1541.2" cy="155" r="8.1" fill="none" stroke="#1e1530" stroke-width="2"/><path d="M1533.1,155H1549.3M1541.2,146.9V163.1" stroke="#1e1530" stroke-width="1.8"/>
<circle cx="1554.9" cy="155" r="8.1" fill="none" stroke="#1e1530" stroke-width="2"/><path d="M1546.8,155H1563M1554.9,146.9V163.1" stroke="#1e1530" stroke-width="1.8"/>
<circle cx="1567.6" cy="173.1" r="8.1" fill="none" stroke="#1e1530" stroke-width="2"/><path d="M1559.5,173.1H1575.7M1567.6,165V181.2" stroke="#1e1530" stroke-width="1.8"/>
<circle cx="1564.8" cy="186.9" r="8.1" fill="none" stroke="#1e1530" stroke-width="2"/><path d="M1556.7,186.9H1572.9M1564.8,178.8V195" stroke="#1e1530" stroke-width="1.8"/>
<path d="M1488,135.7H1513M1500.5,123.2V148.2" stroke="#1e1530" stroke-width="2" fill="none"/>
<path d="M1499,101.8H1524M1511.5,89.3V114.3" stroke="#1e1530" stroke-width="2" fill="none"/>
<path d="M1509.4,118.7H1534.4M1521.9,106.2V131.2" stroke="#1e1530" stroke-width="2" fill="none"/>
<path d="M1521,115.9H1546M1533.5,103.4V128.4" stroke="#1e1530" stroke-width="2" fill="none"/>
<path d="M1530.9,115.9H1555.9M1543.4,103.4V128.4" stroke="#1e1530" stroke-width="2" fill="none"/>
<path d="M1553.4,131.3H1578.4M1565.9,118.8V143.8" stroke="#1e1530" stroke-width="2" fill="none"/>
<path d="M1576.5,173.1H1601.5M1589,160.6V185.6" stroke="#1e1530" stroke-width="2" fill="none"/>
<path d="M1536,66.4L1547,85.7L1525,85.7Z" fill="#2c2340"/>
<path d="M1579.7,111.5L1590.7,130.8L1568.7,130.8Z" fill="#2c2340"/>
<path d="M1560.4,132.4L1571.4,151.7L1549.4,151.7Z" fill="#2c2340"/>
<path d="M1593.4,205.1H1618.4M1605.9,192.6V217.6" stroke="#1e1530" stroke-width="2" fill="none"/>
<path d="M1597.7,206.9H1622.7M1610.2,194.4V219.4" stroke="#1e1530" stroke-width="2" fill="none"/>
<circle cx="1584.8" cy="210.6" r="8.1" fill="none" stroke="#1e1530" stroke-width="2"/><path d="M1576.7,210.6H1592.9M1584.8,202.5V218.7" stroke="#1e1530" stroke-width="1.8"/>
<circle cx="1588.6" cy="215" r="8.1" fill="none" stroke="#1e1530" stroke-width="2"/><path d="M1580.5,215H1596.7M1588.6,206.9V223.1" stroke="#1e1530" stroke-width="1.8"/>
<circle cx="1601.5" cy="247.7" r="8.1" fill="none" stroke="#1e1530" stroke-width="2"/><path d="M1593.4,247.7H1609.6M1601.5,239.6V255.8" stroke="#1e1530" stroke-width="1.8"/>
<circle cx="1605.3" cy="256.4" r="8.1" fill="none" stroke="#1e1530" stroke-width="2"/><path d="M1597.2,256.4H1613.4M1605.3,248.3V264.5" stroke="#1e1530" stroke-width="1.8"/>
<circle cx="1608.4" cy="265.1" r="8.1" fill="none" stroke="#1e1530" stroke-width="2"/><path d="M1600.3,265.1H1616.5M1608.4,257V273.2" stroke="#1e1530" stroke-width="1.8"/>
<path d="M1625.7,250.8L1636.7,270.1L1614.7,270.1Z" fill="#2c2340"/>
<path d="M1613.8,276.8H1638.8M1626.3,264.3V289.3" stroke="#1e1530" stroke-width="2" fill="none"/>
<path d="M1621.8,291H1646.8M1634.3,278.5V303.5" stroke="#1e1530" stroke-width="2" fill="none"/>
<circle cx="1618.2" cy="295.4" r="8.1" fill="none" stroke="#1e1530" stroke-width="2"/><path d="M1610.1,295.4H1626.3M1618.2,287.3V303.5" stroke="#1e1530" stroke-width="1.8"/>
<circle cx="1634.7" cy="329.6" r="8.1" fill="none" stroke="#1e1530" stroke-width="2"/><path d="M1626.6,329.6H1642.8M1634.7,321.5V337.7" stroke="#1e1530" stroke-width="1.8"/>
<circle cx="1632" cy="336.4" r="8.1" fill="none" stroke="#1e1530" stroke-width="2"/><path d="M1623.9,336.4H1640.1M1632,328.3V344.5" stroke="#1e1530" stroke-width="1.8"/>
<path d="M1661.5,327.3L1672.5,346.6L1650.5,346.6Z" fill="#2c2340"/>
<path d="M1648.4,361.2H1673.4M1660.9,348.7V373.7" stroke="#1e1530" stroke-width="2" fill="none"/>
<circle cx="1649.2" cy="364.6" r="8.1" fill="none" stroke="#1e1530" stroke-width="2"/><path d="M1641.1,364.6H1657.3M1649.2,356.5V372.7" stroke="#1e1530" stroke-width="1.8"/>
<circle cx="1649.9" cy="374.9" r="8.1" fill="none" stroke="#1e1530" stroke-width="2"/><path d="M1641.8,374.9H1658M1649.9,366.8V383" stroke="#1e1530" stroke-width="1.8"/>
<circle cx="1647.8" cy="389.3" r="8.1" fill="none" stroke="#1e1530" stroke-width="2"/><path d="M1639.7,389.3H1655.9M1647.8,381.2V397.4" stroke="#1e1530" stroke-width="1.8"/>
<circle cx="1662.2" cy="421" r="8.1" fill="none" stroke="#1e1530" stroke-width="2"/><path d="M1654.1,421H1670.3M1662.2,412.9V429.1" stroke="#1e1530" stroke-width="1.8"/>
<circle cx="1663.6" cy="425.8" r="8.1" fill="none" stroke="#1e1530" stroke-width="2"/><path d="M1655.5,425.8H1671.7M1663.6,417.7V433.9" stroke="#1e1530" stroke-width="1.8"/>
<path d="M1675.3,423.5L1686.3,442.8L1664.3,442.8Z" fill="#2c2340"/>
<circle cx="1669.1" cy="461.5" r="8.1" fill="none" stroke="#1e1530" stroke-width="2"/><path d="M1661,461.5H1677.2M1669.1,453.4V469.6" stroke="#1e1530" stroke-width="1.8"/>
<circle cx="1676" cy="471.1" r="8.1" fill="none" stroke="#1e1530" stroke-width="2"/><path d="M1667.9,471.1H1684.1M1676,463V479.2" stroke="#1e1530" stroke-width="1.8"/>
<circle cx="1684.2" cy="486.9" r="8.1" fill="none" stroke="#1e1530" stroke-width="2"/><path d="M1676.1,486.9H1692.3M1684.2,478.8V495" stroke="#1e1530" stroke-width="1.8"/>
<path d="M1673.8,471.8H1698.8M1686.3,459.3V484.3" stroke="#1e1530" stroke-width="2" fill="none"/>
<path d="M1697.3,474.4L1708.3,493.7L1686.3,493.7Z" fill="#2c2340"/>
<circle cx="1689.8" cy="512.5" r="8.1" fill="none" stroke="#1e1530" stroke-width="2"/><path d="M1681.7,512.5H1697.9M1689.8,504.4V520.6" stroke="#1e1530" stroke-width="1.8"/>
<path d="M1703.3,534.1H1728.3M1715.8,521.6V546.6" stroke="#1e1530" stroke-width="2" fill="none"/>
<circle cx="1702.6" cy="545" r="8.1" fill="none" stroke="#1e1530" stroke-width="2"/><path d="M1694.5,545H1710.7M1702.6,536.9V553.1" stroke="#1e1530" stroke-width="1.8"/>
<circle cx="1714.6" cy="578.7" r="8.1" fill="none" stroke="#1e1530" stroke-width="2"/><path d="M1706.5,578.7H1722.7M1714.6,570.6V586.8" stroke="#1e1530" stroke-width="1.8"/>
<circle cx="1716.5" cy="591.2" r="8.1" fill="none" stroke="#1e1530" stroke-width="2"/><path d="M1708.4,591.2H1724.6M1716.5,583.1V599.3" stroke="#1e1530" stroke-width="1.8"/>
<circle cx="1725.9" cy="609.2" r="8.1" fill="none" stroke="#1e1530" stroke-width="2"/><path d="M1717.8,609.2H1734M1725.9,601.1V617.3" stroke="#1e1530" stroke-width="1.8"/>
<path d="M1751.9,611.5L1762.9,630.8L1740.9,630.8Z" fill="#2c2340"/>
<circle cx="1737.5" cy="633.3" r="8.1" fill="none" stroke="#1e1530" stroke-width="2"/><path d="M1729.4,633.3H1745.6M1737.5,625.2V641.4" stroke="#1e1530" stroke-width="1.8"/>
<path d="M1735.8,650.8H1760.8M1748.3,638.3V663.3" stroke="#1e1530" stroke-width="2" fill="none"/>
<circle cx="1748.3" cy="660.5" r="8.1" fill="none" stroke="#1e1530" stroke-width="2"/><path d="M1740.2,660.5H1756.4M1748.3,652.4V668.6" stroke="#1e1530" stroke-width="1.8"/>
<circle cx="1745.9" cy="670.1" r="8.1" fill="none" stroke="#1e1530" stroke-width="2"/><path d="M1737.8,670.1H1754M1745.9,662V678.2" stroke="#1e1530" stroke-width="1.8"/>
<circle cx="1754.3" cy="672.5" r="8.1" fill="none" stroke="#1e1530" stroke-width="2"/><path d="M1746.2,672.5H1762.4M1754.3,664.4V680.6" stroke="#1e1530" stroke-width="1.8"/>
<path d="M1761,694.6H1786M1773.5,682.1V707.1" stroke="#1e1530" stroke-width="2" fill="none"/>
<circle cx="1773.1" cy="719.9" r="8.1" fill="none" stroke="#1e1530" stroke-width="2"/><path d="M1765,719.9H1781.2M1773.1,711.8V728" stroke="#1e1530" stroke-width="1.8"/>
<path d="M1777.9,732.6H1802.9M1790.4,720.1V745.1" stroke="#1e1530" stroke-width="2" fill="none"/>
<path d="M1801.2,723.3L1812.2,742.6L1790.2,742.6Z" fill="#2c2340"/>
<path d="M1792.3,751.9H1817.3M1804.8,739.4V764.4" stroke="#1e1530" stroke-width="2" fill="none"/>
<path d="M1807.5,765.1H1832.5M1820,752.6V777.6" stroke="#1e1530" stroke-width="2" fill="none"/>
</g>
</defs>
<rect x="1015" y="15" width="709" height="992" fill="#e3e3e3"/>
<g clip-path="url(#cu)"><use href="#upc"/></g>
<circle cx="740.4" cy="327.4" r="173" fill="#fff"/>
<g clip-path="url(#ci)"><use href="#upc" transform="translate(740.4,327.4) scale(3) translate(-600,-636)"/></g>
<circle cx="740.4" cy="327.4" r="172.5" fill="none" stroke="#808080" stroke-width="2.8"/>
<circle cx="600" cy="636" r="57.4" fill="none" stroke="#808080" stroke-width="5"/>
<path d="M623.8,583.7L668.6,485.5" stroke="#808080" stroke-width="10"/>
<text x="214.2" y="178.5" style="font-family:'DejaVu Serif',serif;font-size:41px">3</text>
<text x="240.3" y="202" font-size="62">He(d,p)</text>
<text x="444.2" y="178.5" style="font-family:'DejaVu Serif',serif;font-size:41px">4</text>
<text x="468.8" y="202" font-size="62">He</text>
<text x="235" y="746" font-size="64" transform="translate(235,746) scale(0.97,1) translate(-235,-746)">S</text>
<text x="277" y="755" style="font-family:'DejaVu Serif',serif;font-size:40px;font-style:italic" textLength="101" lengthAdjust="spacingAndGlyphs">bare</text>
<rect x="1786.5" y="189.9" width="17.4" height="17.4" fill="none" stroke="#241a33" stroke-width="2"/>
<text x="1822" y="211.4" class="lg">Ali01a</text>
<circle cx="1795.2" cy="242.2" r="9.2" fill="#a8442c"/>
<text x="1822" y="255" class="lg">Ali01b</text>
<path d="M1782.8,285.8H1807.6M1795.2,273.4V298.2M1786.4,277L1804,294.6M1786.4,294.6L1804,277" stroke="#a83a1e" stroke-width="2" fill="none"/>
<text x="1822" y="298.6" class="lg">Cos00</text>
<circle cx="1795.2" cy="329.4" r="8.1" fill="none" stroke="#2a2038" stroke-width="2"/><path d="M1787.1,329.4H1803.3M1795.2,321.3V337.5" stroke="#2a2038" stroke-width="1.8"/>
<text x="1822" y="342.2" class="lg">Gei99</text>
<path d="M1786.6,364.4L1803.8,381.6M1786.6,381.6L1803.8,364.4" stroke="#2a2038" stroke-width="2" fill="none"/>
<text x="1822" y="385.8" class="lg">Kra87</text>
<path d="M1795.2,406.1L1806.2,425.4L1784.2,425.4Z" fill="#2c2340"/>
<text x="1822" y="429.4" class="lg">Mol80</text>
<path d="M1782.7,460.2H1807.7M1795.2,447.7V472.7" stroke="#2a2038" stroke-width="2" fill="none"/>
<text x="1822" y="473" class="lg">Zhi77</text>
<path d="M158.9,1007V14.5H1985.5V1007" fill="none" stroke="#333" stroke-width="1.5"/>
<rect x="158.9" y="1021.7" width="1826.6" height="307.7" fill="none" stroke="#333" stroke-width="1.5"/>
<g clip-path="url(#cl)">
<g stroke="rgba(175,65,35,0.55)" fill="none"><path d="M204.1,1100.1V1234.1" stroke-width="3.0"/><path d="M200.2,1100.1H208M200.2,1234.1H208" stroke-width="2.9"/></g>
<g stroke="rgba(175,65,35,0.55)" fill="none"><path d="M232.9,1110.7V1236.9" stroke-width="3.0"/><path d="M229,1110.7H236.8M229,1236.9H236.8" stroke-width="2.9"/></g>
<g stroke="rgba(175,65,35,0.55)" fill="none"><path d="M241.8,1130.2V1262" stroke-width="3.0"/><path d="M237.9,1130.2H245.8M237.9,1262H245.8" stroke-width="2.9"/></g>
<g stroke="rgba(175,65,35,0.55)" fill="none"><path d="M262.6,1101.4V1222" stroke-width="3.0"/><path d="M258.7,1101.4H266.6M258.7,1222H266.6" stroke-width="2.9"/></g>
<g stroke="rgba(175,65,35,0.55)" fill="none"><path d="M268.5,1062.5V1190" stroke-width="3.0"/><path d="M264.6,1062.5H272.4M264.6,1190H272.4" stroke-width="2.9"/></g>
<g stroke="rgba(175,65,35,0.55)" fill="none"><path d="M286.7,1085.7V1219.3" stroke-width="3.0"/><path d="M282.8,1085.7H290.6M282.8,1219.3H290.6" stroke-width="2.9"/></g>
<g stroke="rgba(175,65,35,0.55)" fill="none"><path d="M291.3,1126.5V1236.9" stroke-width="3.0"/><path d="M287.4,1126.5H295.2M287.4,1236.9H295.2" stroke-width="2.9"/></g>
<g stroke="rgba(175,65,35,0.55)" fill="none"><path d="M295.4,1063.4V1199.8" stroke-width="3.0"/><path d="M291.4,1063.4H299.3M291.4,1199.8H299.3" stroke-width="2.9"/></g>
<g stroke="rgba(175,65,35,0.55)" fill="none"><path d="M296.9,1082V1199.8" stroke-width="3.0"/><path d="M292.9,1082H300.8M292.9,1199.8H300.8" stroke-width="2.9"/></g>
<g stroke="rgba(175,65,35,0.55)" fill="none"><path d="M311.7,1068V1199.8" stroke-width="3.0"/><path d="M307.8,1068H315.6M307.8,1199.8H315.6" stroke-width="2.9"/></g>
<g stroke="rgba(175,65,35,0.55)" fill="none"><path d="M315.5,1076.4V1194.2" stroke-width="3.0"/><path d="M311.6,1076.4H319.4M311.6,1194.2H319.4" stroke-width="2.9"/></g>
<g stroke="rgba(175,65,35,0.55)" fill="none"><path d="M321,1095V1219.3" stroke-width="3.0"/><path d="M317.1,1095H324.9M317.1,1219.3H324.9" stroke-width="2.9"/></g>
<g stroke="rgba(175,65,35,0.55)" fill="none"><path d="M320.1,1100V1225" stroke-width="3.0"/><path d="M316.2,1100H324.1M316.2,1225H324.1" stroke-width="2.9"/></g>
<g stroke="rgba(175,65,35,0.55)" fill="none"><path d="M337.7,1105.2V1223" stroke-width="3.0"/><path d="M333.8,1105.2H341.6M333.8,1223H341.6" stroke-width="2.9"/></g>
<g stroke="rgba(175,65,35,0.55)" fill="none"><path d="M338.6,1096V1222" stroke-width="3.0"/><path d="M334.7,1096H342.6M334.7,1222H342.6" stroke-width="2.9"/></g>
<g stroke="rgba(175,65,35,0.55)" fill="none"><path d="M355.3,1093V1219" stroke-width="3.0"/><path d="M351.4,1093H359.2M351.4,1219H359.2" stroke-width="2.9"/></g>
<g stroke="rgba(175,65,35,0.55)" fill="none"><path d="M363.6,1082V1206" stroke-width="3.0"/><path d="M359.7,1082H367.6M359.7,1206H367.6" stroke-width="2.9"/></g>
<g stroke="rgba(175,65,35,0.55)" fill="none"><path d="M381.2,1080V1204" stroke-width="3.0"/><path d="M377.2,1080H385.1M377.2,1204H385.1" stroke-width="2.9"/></g>
<g stroke="rgba(175,65,35,0.55)" fill="none"><path d="M375.7,1098V1222" stroke-width="3.0"/><path d="M371.8,1098H379.6M371.8,1222H379.6" stroke-width="2.9"/></g>
<g stroke="rgba(175,65,35,0.55)" fill="none"><path d="M396.1,1098V1222" stroke-width="3.0"/><path d="M392.2,1098H400.1M392.2,1222H400.1" stroke-width="2.9"/></g>
<g stroke="rgba(175,65,35,0.55)" fill="none"><path d="M399.8,1105V1229" stroke-width="3.0"/><path d="M395.9,1105H403.8M395.9,1229H403.8" stroke-width="2.9"/></g>
<g stroke="rgba(175,65,35,0.55)" fill="none"><path d="M429.5,1109V1233" stroke-width="3.0"/><path d="M425.6,1109H433.4M425.6,1233H433.4" stroke-width="2.9"/></g>
<g stroke="rgba(175,65,35,0.55)" fill="none"><path d="M431.3,1087V1211" stroke-width="3.0"/><path d="M427.4,1087H435.2M427.4,1211H435.2" stroke-width="2.9"/></g>
<g stroke="rgba(175,65,35,0.55)" fill="none"><path d="M442.5,1105V1229" stroke-width="3.0"/><path d="M438.6,1105H446.4M438.6,1229H446.4" stroke-width="2.9"/></g>
<g stroke="rgba(175,65,35,0.55)" fill="none"><path d="M451.7,1085V1209" stroke-width="3.0"/><path d="M447.8,1085H455.6M447.8,1209H455.6" stroke-width="2.9"/></g>
<g stroke="rgba(175,65,35,0.55)" fill="none"><path d="M468.4,1089V1212" stroke-width="3.0"/><path d="M464.4,1089H472.3M464.4,1212H472.3" stroke-width="2.9"/></g>
<g stroke="rgba(175,65,35,0.55)" fill="none"><path d="M477.7,1098V1222" stroke-width="3.0"/><path d="M473.8,1098H481.6M473.8,1222H481.6" stroke-width="2.9"/></g>
<g stroke="rgba(175,65,35,0.55)" fill="none"><path d="M465,1092V1216" stroke-width="3.0"/><path d="M461.1,1092H468.9M461.1,1216H468.9" stroke-width="2.9"/></g>
<g stroke="rgba(175,65,35,0.55)" fill="none"><path d="M476.5,1090V1214" stroke-width="3.0"/><path d="M472.6,1090H480.4M472.6,1214H480.4" stroke-width="2.9"/></g>
<g stroke="rgba(175,65,35,0.55)" fill="none"><path d="M493,1097V1221" stroke-width="3.0"/><path d="M489.1,1097H496.9M489.1,1221H496.9" stroke-width="2.9"/></g>
<g stroke="rgba(175,65,35,0.55)" fill="none"><path d="M499.6,1094V1217" stroke-width="3.0"/><path d="M495.7,1094H503.6M495.7,1217H503.6" stroke-width="2.9"/></g>
<g stroke="rgba(175,65,35,0.55)" fill="none"><path d="M509.5,1090V1214" stroke-width="3.0"/><path d="M505.6,1090H513.5M505.6,1214H513.5" stroke-width="2.9"/></g>
<g stroke="rgba(175,65,35,0.55)" fill="none"><path d="M529.3,1092V1216" stroke-width="3.0"/><path d="M525.3,1092H533.2M525.3,1216H533.2" stroke-width="2.9"/></g>
<g stroke="rgba(175,65,35,0.55)" fill="none"><path d="M550.7,1095V1219" stroke-width="3.0"/><path d="M546.8,1095H554.7M546.8,1219H554.7" stroke-width="2.9"/></g>
<g stroke="rgba(175,65,35,0.55)" fill="none"><path d="M559,1092V1216" stroke-width="3.0"/><path d="M555,1092H563M555,1216H563" stroke-width="2.9"/></g>
<g stroke="rgba(175,65,35,0.55)" fill="none"><path d="M573.8,1079V1202" stroke-width="3.0"/><path d="M569.8,1079H577.8M569.8,1202H577.8" stroke-width="2.9"/></g>
<g stroke="rgba(175,65,35,0.55)" fill="none"><path d="M580.4,1087V1211" stroke-width="3.0"/><path d="M576.4,1087H584.4M576.4,1211H584.4" stroke-width="2.9"/></g>
<g stroke="rgba(175,65,35,0.55)" fill="none"><path d="M592,1085V1209" stroke-width="3.0"/><path d="M588,1085H596M588,1209H596" stroke-width="2.9"/></g>
<g stroke="rgba(175,65,35,0.55)" fill="none"><path d="M611,1088V1212" stroke-width="3.0"/><path d="M607,1088H615M607,1212H615" stroke-width="2.9"/></g>
<g stroke="rgba(40,30,60,0.62)" fill="none"><path d="M262.9,1107V1244.3" stroke-width="2.5"/><path d="M258.9,1107H266.8M258.9,1244.3H266.8" stroke-width="2.7"/></g>
<g stroke="rgba(40,30,60,0.62)" fill="none"><path d="M295,1090.3V1228.6" stroke-width="2.5"/><path d="M291.1,1090.3H298.9M291.1,1228.6H298.9" stroke-width="2.7"/></g>
<g stroke="rgba(40,30,60,0.62)" fill="none"><path d="M326.5,1076.4V1196" stroke-width="2.5"/><path d="M322.6,1076.4H330.4M322.6,1196H330.4" stroke-width="2.7"/></g>
<g stroke="rgba(40,30,60,0.62)" fill="none"><path d="M326.5,1113.5V1240.6" stroke-width="2.5"/><path d="M322.6,1113.5H330.4M322.6,1240.6H330.4" stroke-width="2.7"/></g>
<g stroke="rgba(40,30,60,0.62)" fill="none"><path d="M349.7,1099V1221" stroke-width="2.5"/><path d="M345.8,1099H353.6M345.8,1221H353.6" stroke-width="2.7"/></g>
<g stroke="rgba(40,30,60,0.62)" fill="none"><path d="M372.9,1103V1240.6" stroke-width="2.5"/><path d="M368.9,1103H376.8M368.9,1240.6H376.8" stroke-width="2.7"/></g>
<g stroke="rgba(40,30,60,0.62)" fill="none"><path d="M401.6,1078.6V1204.4" stroke-width="2.5"/><path d="M397.7,1078.6H405.6M397.7,1204.4H405.6" stroke-width="2.7"/></g>
<g stroke="rgba(40,30,60,0.62)" fill="none"><path d="M414.6,1096.2V1218.4" stroke-width="2.5"/><path d="M410.7,1096.2H418.6M410.7,1218.4H418.6" stroke-width="2.7"/></g>
<g stroke="rgba(40,30,60,0.62)" fill="none"><path d="M431.3,1100.5V1222.6" stroke-width="2.5"/><path d="M427.4,1100.5H435.2M427.4,1222.6H435.2" stroke-width="2.7"/></g>
<g stroke="rgba(40,30,60,0.62)" fill="none"><path d="M462.9,1096V1220.6" stroke-width="2.5"/><path d="M458.9,1096H466.8M458.9,1220.6H466.8" stroke-width="2.7"/></g>
<g stroke="rgba(40,30,60,0.62)" fill="none"><path d="M486.4,1101V1223.1" stroke-width="2.5"/><path d="M482.4,1101H490.3M482.4,1223.1H490.3" stroke-width="2.7"/></g>
<g stroke="rgba(40,30,60,0.62)" fill="none"><path d="M523.5,1103.5V1226.4" stroke-width="2.5"/><path d="M519.5,1103.5H527.5M519.5,1226.4H527.5" stroke-width="2.7"/></g>
<g stroke="rgba(40,30,60,0.62)" fill="none"><path d="M545.8,1101.9V1227.2" stroke-width="2.5"/><path d="M541.8,1101.9H549.8M541.8,1227.2H549.8" stroke-width="2.7"/></g>
<g stroke="rgba(40,30,60,0.62)" fill="none"><path d="M563.1,1097.7V1214.8" stroke-width="2.5"/><path d="M559.1,1097.7H567.1M559.1,1214.8H567.1" stroke-width="2.7"/></g>
<g stroke="rgba(40,30,60,0.62)" fill="none"><path d="M594.4,1099.4V1224.7" stroke-width="2.5"/><path d="M590.4,1099.4H598.4M590.4,1224.7H598.4" stroke-width="2.7"/></g>
<g stroke="rgba(40,30,60,0.62)" fill="none"><path d="M624.1,1094.4V1224.7" stroke-width="2.5"/><path d="M620.1,1094.4H628.1M620.1,1224.7H628.1" stroke-width="2.7"/></g>
<g stroke="rgba(40,30,60,0.62)" fill="none"><path d="M639,1099.4V1215.7" stroke-width="2.5"/><path d="M635,1099.4H643M635,1215.7H643" stroke-width="2.7"/></g>
<g stroke="rgba(40,30,60,0.62)" fill="none"><path d="M676.9,1101V1213.2" stroke-width="2.5"/><path d="M672.9,1101H680.9M672.9,1213.2H680.9" stroke-width="2.7"/></g>
<g stroke="rgba(40,30,60,0.62)" fill="none"><path d="M697.5,1096V1222.3" stroke-width="2.5"/><path d="M693.5,1096H701.5M693.5,1222.3H701.5" stroke-width="2.7"/></g>
<g stroke="rgba(175,65,35,0.55)" fill="none"><path d="M561.1,1095V1222" stroke-width="3.0"/><path d="M557.1,1095H565.1M557.1,1222H565.1" stroke-width="2.9"/></g>
<g stroke="rgba(175,65,35,0.55)" fill="none"><path d="M614.2,1092.8V1219.8" stroke-width="3.0"/><path d="M610.2,1092.8H618.2M610.2,1219.8H618.2" stroke-width="2.9"/></g>
<g stroke="rgba(175,65,35,0.55)" fill="none"><path d="M659.6,1101.9V1227.2" stroke-width="3.0"/><path d="M655.6,1101.9H663.6M655.6,1227.2H663.6" stroke-width="2.9"/></g>
<g stroke="rgba(175,65,35,0.55)" fill="none"><path d="M700.2,1100.2V1230.5" stroke-width="3.0"/><path d="M696.2,1100.2H704.2M696.2,1230.5H704.2" stroke-width="2.9"/></g>
<g stroke="rgba(40,30,60,0.62)" fill="none"><path d="M722.2,1096.9V1208.2" stroke-width="2.5"/><path d="M718.2,1096.9H726.2M718.2,1208.2H726.2" stroke-width="2.7"/></g>
<g stroke="rgba(175,65,35,0.55)" fill="none"><path d="M735.9,1105.6V1226.4" stroke-width="3.0"/><path d="M731.9,1105.6H739.9M731.9,1226.4H739.9" stroke-width="2.9"/></g>
<g stroke="rgba(40,30,60,0.62)" fill="none"><path d="M753,1102.4V1223.1" stroke-width="2.5"/><path d="M749,1102.4H757M749,1223.1H757" stroke-width="2.7"/></g>
<g stroke="rgba(40,30,60,0.62)" fill="none"><path d="M762.6,1096.1V1214.8" stroke-width="2.5"/><path d="M758.6,1096.1H766.6M758.6,1214.8H766.6" stroke-width="2.7"/></g>
<g stroke="rgba(175,65,35,0.55)" fill="none"><path d="M768.7,1100.2V1214" stroke-width="3.0"/><path d="M764.8,1100.2H772.7M764.8,1214H772.7" stroke-width="2.9"/></g>
<g stroke="rgba(40,30,60,0.62)" fill="none"><path d="M780.7,1092.5V1212.4" stroke-width="2.5"/><path d="M776.8,1092.5H784.7M776.8,1212.4H784.7" stroke-width="2.7"/></g>
<g stroke="rgba(175,65,35,0.55)" fill="none"><path d="M798.5,1098.1V1219.8" stroke-width="3.0"/><path d="M794.5,1098.1H802.5M794.5,1219.8H802.5" stroke-width="2.9"/></g>
<g stroke="rgba(40,30,60,0.62)" fill="none"><path d="M798.5,1094.4V1222.3" stroke-width="2.5"/><path d="M794.5,1094.4H802.5M794.5,1222.3H802.5" stroke-width="2.7"/></g>
<g stroke="rgba(40,30,60,0.62)" fill="none"><path d="M814.9,1089.8V1217.8" stroke-width="2.5"/><path d="M810.9,1089.8H818.9M810.9,1217.8H818.9" stroke-width="2.7"/></g>
<g stroke="rgba(175,65,35,0.55)" fill="none"><path d="M826.1,1100.2V1211.5" stroke-width="3.0"/><path d="M822.1,1100.2H830.1M822.1,1211.5H830.1" stroke-width="2.9"/></g>
<g stroke="rgba(40,30,60,0.62)" fill="none"><path d="M835.2,1098.6V1222.6" stroke-width="2.5"/><path d="M831.2,1098.6H839.2M831.2,1222.6H839.2" stroke-width="2.7"/></g>
<g stroke="rgba(175,65,35,0.55)" fill="none"><path d="M851.2,1098.6V1214.8" stroke-width="3.0"/><path d="M847.2,1098.6H855.2M847.2,1214.8H855.2" stroke-width="2.9"/></g>
<g stroke="rgba(40,30,60,0.62)" fill="none"><path d="M861.5,1089.5V1212.4" stroke-width="2.5"/><path d="M857.5,1089.5H865.5M857.5,1212.4H865.5" stroke-width="2.7"/></g>
<g stroke="rgba(175,65,35,0.55)" fill="none"><path d="M874.7,1089.5V1219.8" stroke-width="3.0"/><path d="M870.8,1089.5H878.7M870.8,1219.8H878.7" stroke-width="2.9"/></g>
<g stroke="rgba(40,30,60,0.62)" fill="none"><path d="M874.7,1105.2V1224" stroke-width="2.5"/><path d="M870.8,1105.2H878.7M870.8,1224H878.7" stroke-width="2.7"/></g>
<g stroke="rgba(40,30,60,0.62)" fill="none"><path d="M888.8,1092.5V1209.9" stroke-width="2.5"/><path d="M884.8,1092.5H892.8M884.8,1209.9H892.8" stroke-width="2.7"/></g>
<g stroke="rgba(175,65,35,0.55)" fill="none"><path d="M897.5,1094.1V1216.2" stroke-width="3.0"/><path d="M893.5,1094.1H901.5M893.5,1216.2H901.5" stroke-width="2.9"/></g>
<g stroke="rgba(40,30,60,0.62)" fill="none"><path d="M907.7,1102.7V1217.8" stroke-width="2.5"/><path d="M903.8,1102.7H911.7M903.8,1217.8H911.7" stroke-width="2.7"/></g>
<g stroke="rgba(40,30,60,0.62)" fill="none"><path d="M914.3,1091.5V1202.5" stroke-width="2.5"/><path d="M910.3,1091.5H918.2M910.3,1202.5H918.2" stroke-width="2.7"/></g>
<g stroke="rgba(175,65,35,0.55)" fill="none"><path d="M918,1083.2V1211.5" stroke-width="3.0"/><path d="M914,1083.2H922M914,1211.5H922" stroke-width="2.9"/></g>
<g stroke="rgba(175,65,35,0.55)" fill="none"><path d="M937.4,1086.5V1205" stroke-width="3.0"/><path d="M933.4,1086.5H941.4M933.4,1205H941.4" stroke-width="2.9"/></g>
<g stroke="rgba(175,65,35,0.55)" fill="none"><path d="M937.4,1096.4V1213.2" stroke-width="3.0"/><path d="M933.4,1096.4H941.4M933.4,1213.2H941.4" stroke-width="2.9"/></g>
<g stroke="rgba(40,30,60,0.62)" fill="none"><path d="M937.4,1097V1215" stroke-width="2.5"/><path d="M933.4,1097H941.4M933.4,1215H941.4" stroke-width="2.7"/></g>
<g stroke="rgba(175,65,35,0.55)" fill="none"><path d="M955.9,1084.2V1214" stroke-width="3.0"/><path d="M951.9,1084.2H959.9M951.9,1214H959.9" stroke-width="2.9"/></g>
<g stroke="rgba(40,30,60,0.62)" fill="none"><path d="M962.2,1099.1V1212.9" stroke-width="2.5"/><path d="M958.2,1099.1H966.2M958.2,1212.9H966.2" stroke-width="2.7"/></g>
<g stroke="rgba(175,65,35,0.55)" fill="none"><path d="M973.4,1090.3V1205" stroke-width="3.0"/><path d="M969.4,1090.3H977.4M969.4,1205H977.4" stroke-width="2.9"/></g>
<g stroke="rgba(40,30,60,0.62)" fill="none"><path d="M980.3,1096.4V1220.1" stroke-width="2.5"/><path d="M976.3,1096.4H984.2M976.3,1220.1H984.2" stroke-width="2.7"/></g>
<g stroke="rgba(40,30,60,0.62)" fill="none"><path d="M990.2,1103.5V1218.5" stroke-width="2.5"/><path d="M986.2,1103.5H994.2M986.2,1218.5H994.2" stroke-width="2.7"/></g>
<g stroke="rgba(40,30,60,0.62)" fill="none"><path d="M996.8,1094.1V1209.1" stroke-width="2.5"/><path d="M992.8,1094.1H1000.8M992.8,1209.1H1000.8" stroke-width="2.7"/></g>
<g stroke="rgba(40,30,60,0.62)" fill="none"><path d="M1000.2,1094V1209.1" stroke-width="2.5"/><path d="M996.2,1094H1004.2M996.2,1209.1H1004.2" stroke-width="2.7"/></g>
<g stroke="rgba(40,30,60,0.62)" fill="none"><path d="M1014.1,1095V1221.1" stroke-width="2.5"/><path d="M1010.1,1095H1018.1M1010.1,1221.1H1018.1" stroke-width="2.7"/></g>
<g stroke="rgba(40,30,60,0.62)" fill="none"><path d="M1018.8,1086.6V1205.4" stroke-width="2.5"/><path d="M1014.8,1086.6H1022.8M1014.8,1205.4H1022.8" stroke-width="2.7"/></g>
<g stroke="rgba(40,30,60,0.62)" fill="none"><path d="M1036.4,1091.6V1220.2" stroke-width="2.5"/><path d="M1032.5,1091.6H1040.4M1032.5,1220.2H1040.4" stroke-width="2.7"/></g>
<g stroke="rgba(40,30,60,0.62)" fill="none"><path d="M1053.1,1096.4V1215.6" stroke-width="2.5"/><path d="M1049.1,1096.4H1057M1049.1,1215.6H1057" stroke-width="2.7"/></g>
<g stroke="rgba(40,30,60,0.62)" fill="none"><path d="M1056.8,1090.3V1218.3" stroke-width="2.5"/><path d="M1052.8,1090.3H1060.8M1052.8,1218.3H1060.8" stroke-width="2.7"/></g>
<g stroke="rgba(40,30,60,0.62)" fill="none"><path d="M1068.9,1095V1215.6" stroke-width="2.5"/><path d="M1065,1095H1072.9M1065,1215.6H1072.9" stroke-width="2.7"/></g>
<g stroke="rgba(40,30,60,0.62)" fill="none"><path d="M1077.2,1098V1218" stroke-width="2.5"/><path d="M1073.2,1098H1081.2M1073.2,1218H1081.2" stroke-width="2.7"/></g>
<g stroke="rgba(40,30,60,0.62)" fill="none"><path d="M1084.3,1100.5V1222" stroke-width="2.5"/><path d="M1080.3,1100.5H1088.2M1080.3,1222H1088.2" stroke-width="2.7"/></g>
<g stroke="rgba(40,30,60,0.62)" fill="none"><path d="M1094.8,1100.5V1221.1" stroke-width="2.5"/><path d="M1090.8,1100.5H1098.8M1090.8,1221.1H1098.8" stroke-width="2.7"/></g>
<g stroke="rgba(40,30,60,0.62)" fill="none"><path d="M1098.6,1096.8V1218.3" stroke-width="2.5"/><path d="M1094.6,1096.8H1102.5M1094.6,1218.3H1102.5" stroke-width="2.7"/></g>
<g stroke="rgba(40,30,60,0.62)" fill="none"><path d="M1113.4,1086.6V1212.8" stroke-width="2.5"/><path d="M1109.5,1086.6H1117.4M1109.5,1212.8H1117.4" stroke-width="2.7"/></g>
<g stroke="#961e00" stroke-opacity="0.8" stroke-width="2.1" fill="none"><path d="M191.5,1163.2H216.7"/><path d="M204.1,1150.6V1175.8"/><path d="M195.2,1154.3L213,1172.1"/><path d="M195.2,1172.1L213,1154.3"/></g>
<g stroke="#961e00" stroke-opacity="0.8" stroke-width="2.1" fill="none"><path d="M220.3,1171H245.5"/><path d="M232.9,1158.4V1183.6"/><path d="M224,1162.1L241.8,1179.9"/><path d="M224,1179.9L241.8,1162.1"/></g>
<g stroke="#961e00" stroke-opacity="0.8" stroke-width="2.1" fill="none"><path d="M229.2,1202.9H254.4"/><path d="M241.8,1190.3V1215.5"/><path d="M232.9,1194L250.7,1211.8"/><path d="M232.9,1211.8L250.7,1194"/></g>
<g stroke="#961e00" stroke-opacity="0.8" stroke-width="2.1" fill="none"><path d="M250,1159.9H275.2"/><path d="M262.6,1147.3V1172.5"/><path d="M253.7,1151L271.5,1168.8"/><path d="M253.7,1168.8L271.5,1151"/></g>
<g stroke="#961e00" stroke-opacity="0.8" stroke-width="2.1" fill="none"><path d="M255.9,1123.7H281.1"/><path d="M268.5,1111.1V1136.3"/><path d="M259.6,1114.8L277.4,1132.6"/><path d="M259.6,1132.6L277.4,1114.8"/></g>
<g stroke="#961e00" stroke-opacity="0.8" stroke-width="2.1" fill="none"><path d="M274.1,1151.5H299.3"/><path d="M286.7,1138.9V1164.1"/><path d="M277.8,1142.6L295.6,1160.4"/><path d="M277.8,1160.4L295.6,1142.6"/></g>
<g stroke="#961e00" stroke-opacity="0.8" stroke-width="2.1" fill="none"><path d="M278.7,1182.2H303.9"/><path d="M291.3,1169.6V1194.8"/><path d="M282.4,1173.3L300.2,1191.1"/><path d="M282.4,1191.1L300.2,1173.3"/></g>
<g stroke="#961e00" stroke-opacity="0.8" stroke-width="2.1" fill="none"><path d="M282.8,1116.8H308"/><path d="M295.4,1104.2V1129.4"/><path d="M286.5,1107.9L304.3,1125.7"/><path d="M286.5,1125.7L304.3,1107.9"/></g>
<g stroke="#961e00" stroke-opacity="0.8" stroke-width="2.1" fill="none"><path d="M284.3,1147.3H309.5"/><path d="M296.9,1134.7V1159.9"/><path d="M288,1138.4L305.8,1156.2"/><path d="M288,1156.2L305.8,1138.4"/></g>
<g stroke="#961e00" stroke-opacity="0.8" stroke-width="2.1" fill="none"><path d="M299.1,1137.6H324.3"/><path d="M311.7,1125V1150.2"/><path d="M302.8,1128.7L320.6,1146.5"/><path d="M302.8,1146.5L320.6,1128.7"/></g>
<g stroke="#961e00" stroke-opacity="0.8" stroke-width="2.1" fill="none"><path d="M302.9,1139.5H328.1"/><path d="M315.5,1126.9V1152.1"/><path d="M306.6,1130.6L324.4,1148.4"/><path d="M306.6,1148.4L324.4,1130.6"/></g>
<g stroke="#961e00" stroke-opacity="0.8" stroke-width="2.1" fill="none"><path d="M308.4,1141.3H333.6"/><path d="M321,1128.7V1153.9"/><path d="M312.1,1132.4L329.9,1150.2"/><path d="M312.1,1150.2L329.9,1132.4"/></g>
<g stroke="#961e00" stroke-opacity="0.8" stroke-width="2.1" fill="none"><path d="M307.5,1161.8H332.7"/><path d="M320.1,1149.2V1174.4"/><path d="M311.2,1152.9L329,1170.7"/><path d="M311.2,1170.7L329,1152.9"/></g>
<g stroke="#961e00" stroke-opacity="0.8" stroke-width="2.1" fill="none"><path d="M325.1,1160.8H350.3"/><path d="M337.7,1148.2V1173.4"/><path d="M328.8,1151.9L346.6,1169.7"/><path d="M328.8,1169.7L346.6,1151.9"/></g>
<g stroke="#961e00" stroke-opacity="0.8" stroke-width="2.1" fill="none"><path d="M326,1159.9H351.2"/><path d="M338.6,1147.3V1172.5"/><path d="M329.7,1151L347.5,1168.8"/><path d="M329.7,1168.8L347.5,1151"/></g>
<g stroke="#961e00" stroke-opacity="0.8" stroke-width="2.1" fill="none"><path d="M342.7,1156.2H367.9"/><path d="M355.3,1143.6V1168.8"/><path d="M346.4,1147.3L364.2,1165.1"/><path d="M346.4,1165.1L364.2,1147.3"/></g>
<g stroke="#961e00" stroke-opacity="0.8" stroke-width="2.1" fill="none"><path d="M351,1144.1H376.2"/><path d="M363.6,1131.5V1156.7"/><path d="M354.7,1135.2L372.5,1153"/><path d="M354.7,1153L372.5,1135.2"/></g>
<g stroke="#961e00" stroke-opacity="0.8" stroke-width="2.1" fill="none"><path d="M368.6,1142.3H393.8"/><path d="M381.2,1129.7V1154.9"/><path d="M372.3,1133.4L390.1,1151.2"/><path d="M372.3,1151.2L390.1,1133.4"/></g>
<g stroke="#961e00" stroke-opacity="0.8" stroke-width="2.1" fill="none"><path d="M363.1,1159.9H388.3"/><path d="M375.7,1147.3V1172.5"/><path d="M366.8,1151L384.6,1168.8"/><path d="M366.8,1168.8L384.6,1151"/></g>
<g stroke="#961e00" stroke-opacity="0.8" stroke-width="2.1" fill="none"><path d="M383.5,1159.9H408.7"/><path d="M396.1,1147.3V1172.5"/><path d="M387.2,1151L405,1168.8"/><path d="M387.2,1168.8L405,1151"/></g>
<g stroke="#961e00" stroke-opacity="0.8" stroke-width="2.1" fill="none"><path d="M387.2,1167.3H412.4"/><path d="M399.8,1154.7V1179.9"/><path d="M390.9,1158.4L408.7,1176.2"/><path d="M390.9,1176.2L408.7,1158.4"/></g>
<g stroke="#961e00" stroke-opacity="0.8" stroke-width="2.1" fill="none"><path d="M416.9,1171H442.1"/><path d="M429.5,1158.4V1183.6"/><path d="M420.6,1162.1L438.4,1179.9"/><path d="M420.6,1179.9L438.4,1162.1"/></g>
<g stroke="#961e00" stroke-opacity="0.8" stroke-width="2.1" fill="none"><path d="M418.7,1148.8H443.9"/><path d="M431.3,1136.2V1161.4"/><path d="M422.4,1139.9L440.2,1157.7"/><path d="M422.4,1157.7L440.2,1139.9"/></g>
<g stroke="#961e00" stroke-opacity="0.8" stroke-width="2.1" fill="none"><path d="M429.9,1167.3H455.1"/><path d="M442.5,1154.7V1179.9"/><path d="M433.6,1158.4L451.4,1176.2"/><path d="M433.6,1176.2L451.4,1158.4"/></g>
<g stroke="#961e00" stroke-opacity="0.8" stroke-width="2.1" fill="none"><path d="M439.1,1146.9H464.3"/><path d="M451.7,1134.3V1159.5"/><path d="M442.8,1138L460.6,1155.8"/><path d="M442.8,1155.8L460.6,1138"/></g>
<g stroke="#961e00" stroke-opacity="0.8" stroke-width="2.1" fill="none"><path d="M455.8,1150.6H481"/><path d="M468.4,1138V1163.2"/><path d="M459.5,1141.7L477.3,1159.5"/><path d="M459.5,1159.5L477.3,1141.7"/></g>
<g stroke="#961e00" stroke-opacity="0.8" stroke-width="2.1" fill="none"><path d="M465.1,1159.9H490.3"/><path d="M477.7,1147.3V1172.5"/><path d="M468.8,1151L486.6,1168.8"/><path d="M468.8,1168.8L486.6,1151"/></g>
<g stroke="#961e00" stroke-opacity="0.8" stroke-width="2.1" fill="none"><path d="M452.4,1153.8H477.6"/><path d="M465,1141.2V1166.4"/><path d="M456.1,1144.9L473.9,1162.7"/><path d="M456.1,1162.7L473.9,1144.9"/></g>
<g stroke="#961e00" stroke-opacity="0.8" stroke-width="2.1" fill="none"><path d="M463.9,1152.2H489.1"/><path d="M476.5,1139.6V1164.8"/><path d="M467.6,1143.3L485.4,1161.1"/><path d="M467.6,1161.1L485.4,1143.3"/></g>
<g stroke="#961e00" stroke-opacity="0.8" stroke-width="2.1" fill="none"><path d="M480.4,1158.8H505.6"/><path d="M493,1146.2V1171.4"/><path d="M484.1,1149.9L501.9,1167.7"/><path d="M484.1,1167.7L501.9,1149.9"/></g>
<g stroke="#961e00" stroke-opacity="0.8" stroke-width="2.1" fill="none"><path d="M487,1155.5H512.2"/><path d="M499.6,1142.9V1168.1"/><path d="M490.7,1146.6L508.5,1164.4"/><path d="M490.7,1164.4L508.5,1146.6"/></g>
<g stroke="#961e00" stroke-opacity="0.8" stroke-width="2.1" fill="none"><path d="M496.9,1152.2H522.1"/><path d="M509.5,1139.6V1164.8"/><path d="M500.6,1143.3L518.4,1161.1"/><path d="M500.6,1161.1L518.4,1143.3"/></g>
<g stroke="#961e00" stroke-opacity="0.8" stroke-width="2.1" fill="none"><path d="M516.7,1153.8H541.9"/><path d="M529.3,1141.2V1166.4"/><path d="M520.4,1144.9L538.2,1162.7"/><path d="M520.4,1162.7L538.2,1144.9"/></g>
<g stroke="#961e00" stroke-opacity="0.8" stroke-width="2.1" fill="none"><path d="M538.1,1157.1H563.3"/><path d="M550.7,1144.5V1169.7"/><path d="M541.8,1148.2L559.6,1166"/><path d="M541.8,1166L559.6,1148.2"/></g>
<g stroke="#961e00" stroke-opacity="0.8" stroke-width="2.1" fill="none"><path d="M546.4,1153.8H571.6"/><path d="M559,1141.2V1166.4"/><path d="M550.1,1144.9L567.9,1162.7"/><path d="M550.1,1162.7L567.9,1144.9"/></g>
<g stroke="#961e00" stroke-opacity="0.8" stroke-width="2.1" fill="none"><path d="M561.2,1140.6H586.4"/><path d="M573.8,1128V1153.2"/><path d="M564.9,1131.7L582.7,1149.5"/><path d="M564.9,1149.5L582.7,1131.7"/></g>
<g stroke="#961e00" stroke-opacity="0.8" stroke-width="2.1" fill="none"><path d="M567.8,1148.9H593"/><path d="M580.4,1136.3V1161.5"/><path d="M571.5,1140L589.3,1157.8"/><path d="M571.5,1157.8L589.3,1140"/></g>
<g stroke="#961e00" stroke-opacity="0.8" stroke-width="2.1" fill="none"><path d="M579.4,1147.2H604.6"/><path d="M592,1134.6V1159.8"/><path d="M583.1,1138.3L600.9,1156.1"/><path d="M583.1,1156.1L600.9,1138.3"/></g>
<g stroke="#961e00" stroke-opacity="0.8" stroke-width="2.1" fill="none"><path d="M598.4,1150H623.6"/><path d="M611,1137.4V1162.6"/><path d="M602.1,1141.1L619.9,1158.9"/><path d="M602.1,1158.9L619.9,1141.1"/></g>
<rect x="254.4" y="1167.2" width="17" height="17" fill="none" stroke="#1e1530" stroke-width="2"/>
<rect x="286.5" y="1153.3" width="17" height="17" fill="none" stroke="#1e1530" stroke-width="2"/>
<rect x="318" y="1126.3" width="17" height="17" fill="none" stroke="#1e1530" stroke-width="2"/>
<rect x="318" y="1162.5" width="17" height="17" fill="none" stroke="#1e1530" stroke-width="2"/>
<rect x="341.2" y="1148.6" width="17" height="17" fill="none" stroke="#1e1530" stroke-width="2"/>
<rect x="364.4" y="1155.1" width="17" height="17" fill="none" stroke="#1e1530" stroke-width="2"/>
<rect x="393.1" y="1130.1" width="17" height="17" fill="none" stroke="#1e1530" stroke-width="2"/>
<rect x="406.1" y="1143" width="17" height="17" fill="none" stroke="#1e1530" stroke-width="2"/>
<rect x="422.8" y="1147.7" width="17" height="17" fill="none" stroke="#1e1530" stroke-width="2"/>
<rect x="454.4" y="1156" width="17" height="17" fill="none" stroke="#1e1530" stroke-width="2"/>
<rect x="477.9" y="1156.9" width="17" height="17" fill="none" stroke="#1e1530" stroke-width="2"/>
<rect x="515" y="1157.7" width="17" height="17" fill="none" stroke="#1e1530" stroke-width="2"/>
<rect x="537.3" y="1158.5" width="17" height="17" fill="none" stroke="#1e1530" stroke-width="2"/>
<rect x="554.6" y="1155.2" width="17" height="17" fill="none" stroke="#1e1530" stroke-width="2"/>
<rect x="585.9" y="1150.3" width="17" height="17" fill="none" stroke="#1e1530" stroke-width="2"/>
<rect x="615.6" y="1155.2" width="17" height="17" fill="none" stroke="#1e1530" stroke-width="2"/>
<rect x="630.5" y="1153.6" width="17" height="17" fill="none" stroke="#1e1530" stroke-width="2"/>
<rect x="668.4" y="1147.8" width="17" height="17" fill="none" stroke="#1e1530" stroke-width="2"/>
<rect x="689" y="1150.3" width="17" height="17" fill="none" stroke="#1e1530" stroke-width="2"/>
<circle cx="561.1" cy="1160" r="9" fill="rgba(160,38,8,0.84)"/>
<circle cx="614.2" cy="1160.4" r="9" fill="rgba(160,38,8,0.84)"/>
<circle cx="659.6" cy="1162.1" r="9" fill="rgba(160,38,8,0.84)"/>
<circle cx="700.2" cy="1161.2" r="9" fill="rgba(160,38,8,0.84)"/>
<rect x="713.7" y="1143.7" width="17" height="17" fill="none" stroke="#1e1530" stroke-width="2"/>
<circle cx="735.9" cy="1165.4" r="9" fill="rgba(160,38,8,0.84)"/>
<rect x="744.5" y="1157.7" width="17" height="17" fill="none" stroke="#1e1530" stroke-width="2"/>
<rect x="754.1" y="1146.1" width="17" height="17" fill="none" stroke="#1e1530" stroke-width="2"/>
<circle cx="768.7" cy="1157.9" r="9" fill="rgba(160,38,8,0.84)"/>
<rect x="772.2" y="1142.8" width="17" height="17" fill="none" stroke="#1e1530" stroke-width="2"/>
<circle cx="798.5" cy="1162.1" r="9" fill="rgba(160,38,8,0.84)"/>
<rect x="790" y="1152.7" width="17" height="17" fill="none" stroke="#1e1530" stroke-width="2"/>
<rect x="806.4" y="1142" width="17" height="17" fill="none" stroke="#1e1530" stroke-width="2"/>
<circle cx="826.1" cy="1153" r="9" fill="rgba(160,38,8,0.84)"/>
<rect x="826.7" y="1152.7" width="17" height="17" fill="none" stroke="#1e1530" stroke-width="2"/>
<circle cx="851.2" cy="1159.6" r="9" fill="rgba(160,38,8,0.84)"/>
<rect x="853" y="1141.2" width="17" height="17" fill="none" stroke="#1e1530" stroke-width="2"/>
<circle cx="874.7" cy="1154.6" r="9" fill="rgba(160,38,8,0.84)"/>
<rect x="866.2" y="1157.7" width="17" height="17" fill="none" stroke="#1e1530" stroke-width="2"/>
<rect x="880.3" y="1142.8" width="17" height="17" fill="none" stroke="#1e1530" stroke-width="2"/>
<circle cx="897.5" cy="1157.4" r="9" fill="rgba(160,38,8,0.84)"/>
<rect x="899.2" y="1153.6" width="17" height="17" fill="none" stroke="#1e1530" stroke-width="2"/>
<rect x="905.8" y="1138.7" width="17" height="17" fill="none" stroke="#1e1530" stroke-width="2"/>
<circle cx="918" cy="1148" r="9" fill="rgba(160,38,8,0.84)"/>
<circle cx="937.4" cy="1145.6" r="9" fill="rgba(160,38,8,0.84)"/>
<circle cx="937.4" cy="1153.8" r="9" fill="rgba(160,38,8,0.84)"/>
<rect x="928.9" y="1147.8" width="17" height="17" fill="none" stroke="#1e1530" stroke-width="2"/>
<circle cx="955.9" cy="1146.4" r="9" fill="rgba(160,38,8,0.84)"/>
<rect x="953.7" y="1146.1" width="17" height="17" fill="none" stroke="#1e1530" stroke-width="2"/>
<circle cx="973.4" cy="1147.2" r="9" fill="rgba(160,38,8,0.84)"/>
<rect x="971.8" y="1145.3" width="17" height="17" fill="none" stroke="#1e1530" stroke-width="2"/>
<rect x="981.7" y="1154.4" width="17" height="17" fill="none" stroke="#1e1530" stroke-width="2"/>
<rect x="988.3" y="1140.4" width="17" height="17" fill="none" stroke="#1e1530" stroke-width="2"/>
<rect x="991.7" y="1144.9" width="17" height="17" fill="none" stroke="#1e1530" stroke-width="2"/>
<rect x="1005.6" y="1151.4" width="17" height="17" fill="none" stroke="#1e1530" stroke-width="2"/>
<rect x="1010.3" y="1138.4" width="17" height="17" fill="none" stroke="#1e1530" stroke-width="2"/>
<rect x="1027.9" y="1145.5" width="17" height="17" fill="none" stroke="#1e1530" stroke-width="2"/>
<rect x="1044.6" y="1145.8" width="17" height="17" fill="none" stroke="#1e1530" stroke-width="2"/>
<rect x="1048.3" y="1144" width="17" height="17" fill="none" stroke="#1e1530" stroke-width="2"/>
<rect x="1060.4" y="1149.5" width="17" height="17" fill="none" stroke="#1e1530" stroke-width="2"/>
<rect x="1068.7" y="1149.5" width="17" height="17" fill="none" stroke="#1e1530" stroke-width="2"/>
<rect x="1075.8" y="1149.5" width="17" height="17" fill="none" stroke="#1e1530" stroke-width="2"/>
<rect x="1086.3" y="1149.5" width="17" height="17" fill="none" stroke="#1e1530" stroke-width="2"/>
<rect x="1090.1" y="1148.6" width="17" height="17" fill="none" stroke="#1e1530" stroke-width="2"/>
<rect x="1104.9" y="1144" width="17" height="17" fill="none" stroke="#1e1530" stroke-width="2"/>
</g>
<path d="M158.34,1156.7H1985" stroke="#9647aa" stroke-width="2.6" stroke-dasharray="10.8 10.758" clip-path="url(#cl)"/>
<g clip-path="url(#cl)">
<g stroke="rgba(40,30,60,0.62)" fill="none"><path d="M1049,1120.6V1235" stroke-width="2.5"/><path d="M1045,1120.6H1053M1045,1235H1053" stroke-width="2.7"/></g>
<g stroke="rgba(40,30,60,0.62)" fill="none"><path d="M1076.3,1108.9V1215.6" stroke-width="2.5"/><path d="M1072.3,1108.9H1080.2M1072.3,1215.6H1080.2" stroke-width="2.7"/></g>
<g stroke="rgba(40,30,60,0.62)" fill="none"><path d="M1107.8,1076.4V1205.4" stroke-width="2.5"/><path d="M1103.8,1076.4H1111.8M1103.8,1205.4H1111.8" stroke-width="2.7"/></g>
<g stroke="rgba(40,30,60,0.62)" fill="none"><path d="M1111.5,1085.7V1226.7" stroke-width="2.5"/><path d="M1107.5,1085.7H1115.5M1107.5,1226.7H1115.5" stroke-width="2.7"/></g>
<g stroke="rgba(40,30,60,0.62)" fill="none"><path d="M1143.1,1085.7V1204.4" stroke-width="2.5"/><path d="M1139.1,1085.7H1147M1139.1,1204.4H1147" stroke-width="2.7"/></g>
<g stroke="rgba(40,30,60,0.62)" fill="none"><path d="M1225.3,1102.2V1224.2" stroke-width="2.5"/><path d="M1221.3,1102.2H1229.2M1221.3,1224.2H1229.2" stroke-width="2.7"/></g>
<g stroke="rgba(40,30,60,0.62)" fill="none"><path d="M1235.6,1179.8V1312.4" stroke-width="2.5"/><path d="M1231.6,1179.8H1239.5M1231.6,1312.4H1239.5" stroke-width="2.7"/></g>
<g stroke="rgba(40,30,60,0.62)" fill="none"><path d="M1291.4,1112.7V1237.4" stroke-width="2.5"/><path d="M1287.5,1112.7H1295.4M1287.5,1237.4H1295.4" stroke-width="2.7"/></g>
<g stroke="rgba(40,30,60,0.62)" fill="none"><path d="M1346.8,1109.5V1229.9" stroke-width="2.5"/><path d="M1342.8,1109.5H1350.8M1342.8,1229.9H1350.8" stroke-width="2.7"/></g>
<g stroke="rgba(40,30,60,0.62)" fill="none"><path d="M1394.1,1098.9V1220.3" stroke-width="2.5"/><path d="M1390.1,1098.9H1398M1390.1,1220.3H1398" stroke-width="2.7"/></g>
<g stroke="rgba(40,30,60,0.62)" fill="none"><path d="M1389.9,1196.5V1316.2" stroke-width="2.5"/><path d="M1386,1196.5H1393.9M1386,1316.2H1393.9" stroke-width="2.7"/></g>
<g stroke="rgba(40,30,60,0.62)" fill="none"><path d="M1409.7,1139.4V1270.4" stroke-width="2.5"/><path d="M1405.8,1139.4H1413.7M1405.8,1270.4H1413.7" stroke-width="2.7"/></g>
<g stroke="rgba(40,30,60,0.62)" fill="none"><path d="M1418.6,1099.9V1220.3" stroke-width="2.5"/><path d="M1414.6,1099.9H1422.5M1414.6,1220.3H1422.5" stroke-width="2.7"/></g>
<g stroke="rgba(40,30,60,0.62)" fill="none"><path d="M1420.3,1057.3V1178.8" stroke-width="2.5"/><path d="M1416.3,1057.3H1424.2M1416.3,1178.8H1424.2" stroke-width="2.7"/></g>
<g stroke="rgba(40,30,60,0.62)" fill="none"><path d="M1429.9,1148.9V1270.4" stroke-width="2.5"/><path d="M1426,1148.9H1433.9M1426,1270.4H1433.9" stroke-width="2.7"/></g>
<g stroke="rgba(40,30,60,0.62)" fill="none"><path d="M1434.2,1022.1V1177.7" stroke-width="2.5"/><path d="M1430.2,1022.1H1438.2M1430.2,1177.7H1438.2" stroke-width="2.7"/></g>
<g stroke="rgba(40,30,60,0.62)" fill="none"><path d="M1436.3,1033.9V1177" stroke-width="2.5"/><path d="M1432.3,1033.9H1440.2M1432.3,1177H1440.2" stroke-width="2.7"/></g>
<g stroke="rgba(40,30,60,0.62)" fill="none"><path d="M1460.4,1207.6V1314.1" stroke-width="2.5"/><path d="M1456.5,1207.6H1464.4M1456.5,1314.1H1464.4" stroke-width="2.7"/></g>
<g stroke="rgba(40,30,60,0.62)" fill="none"><path d="M1459.5,1030V1152.1" stroke-width="2.5"/><path d="M1455.5,1030H1463.5M1455.5,1152.1H1463.5" stroke-width="2.7"/></g>
<g stroke="rgba(40,30,60,0.62)" fill="none"><path d="M1471,1041.5V1175" stroke-width="2.5"/><path d="M1467,1041.5H1475M1467,1175H1475" stroke-width="2.7"/></g>
<g stroke="rgba(40,30,60,0.62)" fill="none"><path d="M1472,1050V1180" stroke-width="2.5"/><path d="M1468,1050H1476M1468,1180H1476" stroke-width="2.7"/></g>
<g stroke="rgba(40,30,60,0.62)" fill="none"><path d="M1483,1057.1V1202.6" stroke-width="2.5"/><path d="M1479,1057.1H1487M1479,1202.6H1487" stroke-width="2.7"/></g>
<g stroke="rgba(40,30,60,0.62)" fill="none"><path d="M1486.1,1074.7V1193.3" stroke-width="2.5"/><path d="M1482.1,1074.7H1490M1482.1,1193.3H1490" stroke-width="2.7"/></g>
<g stroke="rgba(40,30,60,0.62)" fill="none"><path d="M1477.9,1088V1200" stroke-width="2.5"/><path d="M1474,1088H1481.9M1474,1200H1481.9" stroke-width="2.7"/></g>
<g stroke="rgba(40,30,60,0.62)" fill="none"><path d="M1465.8,1126.6V1239.5" stroke-width="2.5"/><path d="M1461.8,1126.6H1469.8M1461.8,1239.5H1469.8" stroke-width="2.7"/></g>
<g stroke="rgba(40,30,60,0.62)" fill="none"><path d="M1469.6,1104V1225" stroke-width="2.5"/><path d="M1465.6,1104H1473.5M1465.6,1225H1473.5" stroke-width="2.7"/></g>
<g stroke="rgba(40,30,60,0.62)" fill="none"><path d="M1490.2,1104.6V1229.4" stroke-width="2.5"/><path d="M1486.2,1104.6H1494.2M1486.2,1229.4H1494.2" stroke-width="2.7"/></g>
<g stroke="rgba(40,30,60,0.62)" fill="none"><path d="M1510.9,1042.3V1169.6" stroke-width="2.5"/><path d="M1507,1042.3H1514.9M1507,1169.6H1514.9" stroke-width="2.7"/></g>
<g stroke="rgba(40,30,60,0.62)" fill="none"><path d="M1506.7,1061.3V1186.1" stroke-width="2.5"/><path d="M1502.8,1061.3H1510.7M1502.8,1186.1H1510.7" stroke-width="2.7"/></g>
<g stroke="rgba(40,30,60,0.62)" fill="none"><path d="M1507.8,1062V1187" stroke-width="2.5"/><path d="M1503.8,1062H1511.8M1503.8,1187H1511.8" stroke-width="2.7"/></g>
<g stroke="rgba(40,30,60,0.62)" fill="none"><path d="M1522.2,1068V1190" stroke-width="2.5"/><path d="M1518.2,1068H1526.2M1518.2,1190H1526.2" stroke-width="2.7"/></g>
<g stroke="rgba(40,30,60,0.62)" fill="none"><path d="M1536.7,1068.5V1197" stroke-width="2.5"/><path d="M1532.8,1068.5H1540.7M1532.8,1197H1540.7" stroke-width="2.7"/></g>
<g stroke="rgba(40,30,60,0.62)" fill="none"><path d="M1526.3,1075V1197" stroke-width="2.5"/><path d="M1522.3,1075H1530.2M1522.3,1197H1530.2" stroke-width="2.7"/></g>
<g stroke="rgba(40,30,60,0.62)" fill="none"><path d="M1536.7,1070V1195" stroke-width="2.5"/><path d="M1532.8,1070H1540.7M1532.8,1195H1540.7" stroke-width="2.7"/></g>
<g stroke="rgba(40,30,60,0.62)" fill="none"><path d="M1545.9,1087V1210" stroke-width="2.5"/><path d="M1542,1087H1549.9M1542,1210H1549.9" stroke-width="2.7"/></g>
<g stroke="rgba(40,30,60,0.62)" fill="none"><path d="M1541.8,1088.1V1224.3" stroke-width="2.5"/><path d="M1537.8,1088.1H1545.8M1537.8,1224.3H1545.8" stroke-width="2.7"/></g>
<g stroke="rgba(40,30,60,0.62)" fill="none"><path d="M1554.2,1104.6V1225.3" stroke-width="2.5"/><path d="M1550.2,1104.6H1558.2M1550.2,1225.3H1558.2" stroke-width="2.7"/></g>
<g stroke="rgba(40,30,60,0.62)" fill="none"><path d="M1557.3,1118V1240" stroke-width="2.5"/><path d="M1553.3,1118H1561.2M1553.3,1240H1561.2" stroke-width="2.7"/></g>
<g stroke="rgba(40,30,60,0.62)" fill="none"><path d="M1567.6,1110V1232" stroke-width="2.5"/><path d="M1563.6,1110H1571.5M1563.6,1232H1571.5" stroke-width="2.7"/></g>
<g stroke="rgba(40,30,60,0.62)" fill="none"><path d="M1564.5,1113.9V1238.7" stroke-width="2.5"/><path d="M1560.5,1113.9H1568.5M1560.5,1238.7H1568.5" stroke-width="2.7"/></g>
<g stroke="rgba(40,30,60,0.62)" fill="none"><path d="M1566.6,1077.8V1201" stroke-width="2.5"/><path d="M1562.6,1077.8H1570.5M1562.6,1201H1570.5" stroke-width="2.7"/></g>
<g stroke="rgba(40,30,60,0.62)" fill="none"><path d="M1579.6,1079.8V1240" stroke-width="2.5"/><path d="M1575.6,1079.8H1583.5M1575.6,1240H1583.5" stroke-width="2.7"/></g>
<g stroke="rgba(40,30,60,0.62)" fill="none"><path d="M1588.2,1090V1212" stroke-width="2.5"/><path d="M1584.2,1090H1592.2M1584.2,1212H1592.2" stroke-width="2.7"/></g>
<g stroke="rgba(40,30,60,0.62)" fill="none"><path d="M1586.2,1117V1247" stroke-width="2.5"/><path d="M1582.2,1117H1590.2M1582.2,1247H1590.2" stroke-width="2.7"/></g>
<g stroke="rgba(40,30,60,0.62)" fill="none"><path d="M1589.3,1117V1245" stroke-width="2.5"/><path d="M1585.3,1117H1593.2M1585.3,1245H1593.2" stroke-width="2.7"/></g>
<g stroke="rgba(40,30,60,0.62)" fill="none"><path d="M1607.8,1073.6V1250" stroke-width="2.5"/><path d="M1603.8,1073.6H1611.8M1603.8,1250H1611.8" stroke-width="2.7"/></g>
<g stroke="rgba(40,30,60,0.62)" fill="none"><path d="M1610.9,1075V1200" stroke-width="2.5"/><path d="M1607,1075H1614.9M1607,1200H1614.9" stroke-width="2.7"/></g>
<g stroke="rgba(40,30,60,0.62)" fill="none"><path d="M1603.7,1085V1241.8" stroke-width="2.5"/><path d="M1599.8,1085H1607.7M1599.8,1241.8H1607.7" stroke-width="2.7"/></g>
<g stroke="rgba(40,30,60,0.62)" fill="none"><path d="M1606.8,1120V1245" stroke-width="2.5"/><path d="M1602.8,1120H1610.8M1602.8,1245H1610.8" stroke-width="2.7"/></g>
<g stroke="rgba(40,30,60,0.62)" fill="none"><path d="M1618.1,1127.3V1248" stroke-width="2.5"/><path d="M1614.1,1127.3H1622M1614.1,1248H1622" stroke-width="2.7"/></g>
<g stroke="rgba(40,30,60,0.62)" fill="none"><path d="M1625.4,1096.3V1235" stroke-width="2.5"/><path d="M1621.5,1096.3H1629.4M1621.5,1235H1629.4" stroke-width="2.7"/></g>
<g stroke="rgba(40,30,60,0.62)" fill="none"><path d="M1632.4,1115.9V1249.9" stroke-width="2.5"/><path d="M1628.5,1115.9H1636.4M1628.5,1249.9H1636.4" stroke-width="2.7"/></g>
<g stroke="rgba(40,30,60,0.62)" fill="none"><path d="M1633.4,1110V1235" stroke-width="2.5"/><path d="M1629.5,1110H1637.4M1629.5,1235H1637.4" stroke-width="2.7"/></g>
<g stroke="rgba(40,30,60,0.62)" fill="none"><path d="M1635.5,1075.7V1233.4" stroke-width="2.5"/><path d="M1631.5,1075.7H1639.5M1631.5,1233.4H1639.5" stroke-width="2.7"/></g>
<g stroke="rgba(40,30,60,0.62)" fill="none"><path d="M1648.9,1093.2V1233" stroke-width="2.5"/><path d="M1645,1093.2H1652.9M1645,1233H1652.9" stroke-width="2.7"/></g>
<g stroke="rgba(40,30,60,0.62)" fill="none"><path d="M1648.9,1108.7V1247.8" stroke-width="2.5"/><path d="M1645,1108.7H1652.9M1645,1247.8H1652.9" stroke-width="2.7"/></g>
<g stroke="rgba(40,30,60,0.62)" fill="none"><path d="M1661.2,1066.4V1224.1" stroke-width="2.5"/><path d="M1657.2,1066.4H1665.2M1657.2,1224.1H1665.2" stroke-width="2.7"/></g>
<g stroke="rgba(40,30,60,0.62)" fill="none"><path d="M1663.3,1102.5V1229.3" stroke-width="2.5"/><path d="M1659.3,1102.5H1667.2M1659.3,1229.3H1667.2" stroke-width="2.7"/></g>
<g stroke="rgba(40,30,60,0.62)" fill="none"><path d="M1668.5,1114.8V1246.8" stroke-width="2.5"/><path d="M1664.5,1114.8H1672.5M1664.5,1246.8H1672.5" stroke-width="2.7"/></g>
<g stroke="rgba(40,30,60,0.62)" fill="none"><path d="M1681.9,1081.9V1213.8" stroke-width="2.5"/><path d="M1678,1081.9H1685.9M1678,1213.8H1685.9" stroke-width="2.7"/></g>
<g stroke="rgba(40,30,60,0.62)" fill="none"><path d="M1675.7,1095V1220" stroke-width="2.5"/><path d="M1671.8,1095H1679.7M1671.8,1220H1679.7" stroke-width="2.7"/></g>
<g stroke="rgba(40,30,60,0.62)" fill="none"><path d="M1675.7,1101.4V1230.3" stroke-width="2.5"/><path d="M1671.8,1101.4H1679.7M1671.8,1230.3H1679.7" stroke-width="2.7"/></g>
<g stroke="rgba(40,30,60,0.62)" fill="none"><path d="M1690.1,1097.3V1221" stroke-width="2.5"/><path d="M1686.1,1097.3H1694M1686.1,1221H1694" stroke-width="2.7"/></g>
<g stroke="rgba(40,30,60,0.62)" fill="none"><path d="M1696.3,1078.8V1209.7" stroke-width="2.5"/><path d="M1692.3,1078.8H1700.2M1692.3,1209.7H1700.2" stroke-width="2.7"/></g>
<g stroke="rgba(40,30,60,0.62)" fill="none"><path d="M1702.5,1087V1207.6" stroke-width="2.5"/><path d="M1698.5,1087H1706.5M1698.5,1207.6H1706.5" stroke-width="2.7"/></g>
<g stroke="rgba(40,30,60,0.62)" fill="none"><path d="M1715.3,1057.1V1212.8" stroke-width="2.5"/><path d="M1711.3,1057.1H1719.2M1711.3,1212.8H1719.2" stroke-width="2.7"/></g>
<g stroke="rgba(40,30,60,0.62)" fill="none"><path d="M1715.9,1093.2V1213.8" stroke-width="2.5"/><path d="M1712,1093.2H1719.9M1712,1213.8H1719.9" stroke-width="2.7"/></g>
<g stroke="rgba(40,30,60,0.62)" fill="none"><path d="M1727.2,1085V1210.7" stroke-width="2.5"/><path d="M1723.2,1085H1731.2M1723.2,1210.7H1731.2" stroke-width="2.7"/></g>
<g stroke="rgba(40,30,60,0.62)" fill="none"><path d="M1738.6,1082.9V1206.6" stroke-width="2.5"/><path d="M1734.6,1082.9H1742.5M1734.6,1206.6H1742.5" stroke-width="2.7"/></g>
<g stroke="rgba(40,30,60,0.62)" fill="none"><path d="M1745.8,1081.9V1214.8" stroke-width="2.5"/><path d="M1741.8,1081.9H1749.8M1741.8,1214.8H1749.8" stroke-width="2.7"/></g>
<g stroke="rgba(40,30,60,0.62)" fill="none"><path d="M1753,1070.5V1207.6" stroke-width="2.5"/><path d="M1749,1070.5H1757M1749,1207.6H1757" stroke-width="2.7"/></g>
<g stroke="rgba(40,30,60,0.62)" fill="none"><path d="M1750.9,1053V1199.4" stroke-width="2.5"/><path d="M1747,1053H1754.9M1747,1199.4H1754.9" stroke-width="2.7"/></g>
<g stroke="rgba(40,30,60,0.62)" fill="none"><path d="M1773.6,1087V1191.1" stroke-width="2.5"/><path d="M1769.6,1087H1777.5M1769.6,1191.1H1777.5" stroke-width="2.7"/></g>
<g stroke="rgba(40,30,60,0.62)" fill="none"><path d="M1773.6,1067V1201.4" stroke-width="2.5"/><path d="M1769.6,1067H1777.5M1769.6,1201.4H1777.5" stroke-width="2.7"/></g>
<g stroke="rgba(40,30,60,0.62)" fill="none"><path d="M1790.1,1071.1V1186" stroke-width="2.5"/><path d="M1786.1,1071.1H1794M1786.1,1186H1794" stroke-width="2.7"/></g>
<g stroke="rgba(40,30,60,0.62)" fill="none"><path d="M1801.4,1053V1186" stroke-width="2.5"/><path d="M1797.5,1053H1805.4M1797.5,1186H1805.4" stroke-width="2.7"/></g>
<g stroke="rgba(40,30,60,0.62)" fill="none"><path d="M1820,1062.3V1178.1" stroke-width="2.5"/><path d="M1816,1062.3H1824M1816,1178.1H1824" stroke-width="2.7"/></g>
<path d="M1040.4,1168L1057.6,1185.2M1040.4,1185.2L1057.6,1168" stroke="#1e1530" stroke-width="2" fill="none"/>
<path d="M1067.7,1155L1084.9,1172.2M1067.7,1172.2L1084.9,1155" stroke="#1e1530" stroke-width="2" fill="none"/>
<path d="M1099.2,1135.5L1116.4,1152.7M1099.2,1152.7L1116.4,1135.5" stroke="#1e1530" stroke-width="2" fill="none"/>
<path d="M1102.9,1155L1120.1,1172.2M1102.9,1172.2L1120.1,1155" stroke="#1e1530" stroke-width="2" fill="none"/>
<path d="M1134.5,1138.3L1151.7,1155.5M1134.5,1155.5L1151.7,1138.3" stroke="#1e1530" stroke-width="2" fill="none"/>
<path d="M1216.7,1154.9L1233.9,1172.1M1216.7,1172.1L1233.9,1154.9" stroke="#1e1530" stroke-width="2" fill="none"/>
<path d="M1235.6,1233.3L1246.6,1252.6L1224.6,1252.6Z" fill="#2c2340"/>
<path d="M1282.8,1165.9L1300,1183.1M1282.8,1183.1L1300,1165.9" stroke="#1e1530" stroke-width="2" fill="none"/>
<path d="M1338.2,1158.5L1355.4,1175.7M1338.2,1175.7L1355.4,1158.5" stroke="#1e1530" stroke-width="2" fill="none"/>
<path d="M1385.5,1153.1L1402.7,1170.3M1385.5,1170.3L1402.7,1153.1" stroke="#1e1530" stroke-width="2" fill="none"/>
<path d="M1377.4,1254.4H1402.4M1389.9,1241.9V1266.9" stroke="#1e1530" stroke-width="2" fill="none"/>
<path d="M1397.2,1203.7H1422.2M1409.7,1191.2V1216.2" stroke="#1e1530" stroke-width="2" fill="none"/>
<path d="M1418.6,1142.7L1429.6,1162L1407.6,1162Z" fill="#2c2340"/>
<circle cx="1420.3" cy="1120.2" r="8.1" fill="none" stroke="#1e1530" stroke-width="2"/><path d="M1412.2,1120.2H1428.4M1420.3,1112.1V1128.3" stroke="#1e1530" stroke-width="1.8"/>
<path d="M1417.4,1211.2H1442.4M1429.9,1198.7V1223.7" stroke="#1e1530" stroke-width="2" fill="none"/>
<circle cx="1434.2" cy="1091.4" r="8.1" fill="none" stroke="#1e1530" stroke-width="2"/><path d="M1426.1,1091.4H1442.3M1434.2,1083.3V1099.5" stroke="#1e1530" stroke-width="1.8"/>
<path d="M1427.7,1100.9L1444.9,1118.1M1427.7,1118.1L1444.9,1100.9" stroke="#1e1530" stroke-width="2" fill="none"/>
<path d="M1447.9,1262.5H1472.9M1460.4,1250V1275" stroke="#1e1530" stroke-width="2" fill="none"/>
<circle cx="1459.5" cy="1093.9" r="8.1" fill="none" stroke="#1e1530" stroke-width="2"/><path d="M1451.4,1093.9H1467.6M1459.5,1085.8V1102" stroke="#1e1530" stroke-width="1.8"/>
<circle cx="1471" cy="1103.4" r="8.1" fill="none" stroke="#1e1530" stroke-width="2"/><path d="M1462.9,1103.4H1479.1M1471,1095.3V1111.5" stroke="#1e1530" stroke-width="1.8"/>
<path d="M1463.4,1108.4L1480.6,1125.6M1463.4,1125.6L1480.6,1108.4" stroke="#1e1530" stroke-width="2" fill="none"/>
<circle cx="1483" cy="1114.9" r="8.1" fill="none" stroke="#1e1530" stroke-width="2"/><path d="M1474.9,1114.9H1491.1M1483,1106.8V1123" stroke="#1e1530" stroke-width="1.8"/>
<circle cx="1486.1" cy="1134.5" r="8.1" fill="none" stroke="#1e1530" stroke-width="2"/><path d="M1478,1134.5H1494.2M1486.1,1126.4V1142.6" stroke="#1e1530" stroke-width="1.8"/>
<path d="M1477.9,1136.4L1488.9,1155.7L1466.9,1155.7Z" fill="#2c2340"/>
<path d="M1453.3,1186.1H1478.3M1465.8,1173.6V1198.6" stroke="#1e1530" stroke-width="2" fill="none"/>
<path d="M1457.1,1162.4H1482.1M1469.6,1149.9V1174.9" stroke="#1e1530" stroke-width="2" fill="none"/>
<path d="M1477.7,1165.4H1502.7M1490.2,1152.9V1177.9" stroke="#1e1530" stroke-width="2" fill="none"/>
<path d="M1498.4,1107.7H1523.4M1510.9,1095.2V1120.2" stroke="#1e1530" stroke-width="2" fill="none"/>
<circle cx="1506.7" cy="1128.3" r="8.1" fill="none" stroke="#1e1530" stroke-width="2"/><path d="M1498.6,1128.3H1514.8M1506.7,1120.2V1136.4" stroke="#1e1530" stroke-width="1.8"/>
<circle cx="1507.8" cy="1129.3" r="8.1" fill="none" stroke="#1e1530" stroke-width="2"/><path d="M1499.7,1129.3H1515.9M1507.8,1121.2V1137.4" stroke="#1e1530" stroke-width="1.8"/>
<path d="M1509.7,1129.3H1534.7M1522.2,1116.8V1141.8" stroke="#1e1530" stroke-width="2" fill="none"/>
<path d="M1536.7,1118.8L1547.7,1138.1L1525.7,1138.1Z" fill="#2c2340"/>
<circle cx="1526.3" cy="1142.8" r="8.1" fill="none" stroke="#1e1530" stroke-width="2"/><path d="M1518.2,1142.8H1534.4M1526.3,1134.7V1150.9" stroke="#1e1530" stroke-width="1.8"/>
<path d="M1524.2,1134.5H1549.2M1536.7,1122V1147" stroke="#1e1530" stroke-width="2" fill="none"/>
<circle cx="1545.9" cy="1149" r="8.1" fill="none" stroke="#1e1530" stroke-width="2"/><path d="M1537.8,1149H1554M1545.9,1140.9V1157.1" stroke="#1e1530" stroke-width="1.8"/>
<circle cx="1541.8" cy="1164.4" r="8.1" fill="none" stroke="#1e1530" stroke-width="2"/><path d="M1533.7,1164.4H1549.9M1541.8,1156.3V1172.5" stroke="#1e1530" stroke-width="1.8"/>
<circle cx="1554.2" cy="1164.4" r="8.1" fill="none" stroke="#1e1530" stroke-width="2"/><path d="M1546.1,1164.4H1562.3M1554.2,1156.3V1172.5" stroke="#1e1530" stroke-width="1.8"/>
<path d="M1557.3,1172.5L1568.3,1191.8L1546.3,1191.8Z" fill="#2c2340"/>
<circle cx="1567.6" cy="1171.6" r="8.1" fill="none" stroke="#1e1530" stroke-width="2"/><path d="M1559.5,1171.6H1575.7M1567.6,1163.5V1179.7" stroke="#1e1530" stroke-width="1.8"/>
<circle cx="1564.5" cy="1183" r="8.1" fill="none" stroke="#1e1530" stroke-width="2"/><path d="M1556.4,1183H1572.6M1564.5,1174.9V1191.1" stroke="#1e1530" stroke-width="1.8"/>
<path d="M1554.1,1139.7H1579.1M1566.6,1127.2V1152.2" stroke="#1e1530" stroke-width="2" fill="none"/>
<path d="M1579.6,1135.4L1590.6,1154.7L1568.6,1154.7Z" fill="#2c2340"/>
<path d="M1575.7,1150H1600.7M1588.2,1137.5V1162.5" stroke="#1e1530" stroke-width="2" fill="none"/>
<circle cx="1586.2" cy="1182" r="8.1" fill="none" stroke="#1e1530" stroke-width="2"/><path d="M1578.1,1182H1594.3M1586.2,1173.9V1190.1" stroke="#1e1530" stroke-width="1.8"/>
<circle cx="1589.3" cy="1182" r="8.1" fill="none" stroke="#1e1530" stroke-width="2"/><path d="M1581.2,1182H1597.4M1589.3,1173.9V1190.1" stroke="#1e1530" stroke-width="1.8"/>
<path d="M1595.3,1139.7H1620.3M1607.8,1127.2V1152.2" stroke="#1e1530" stroke-width="2" fill="none"/>
<path d="M1598.4,1135.5H1623.4M1610.9,1123V1148" stroke="#1e1530" stroke-width="2" fill="none"/>
<circle cx="1603.7" cy="1185" r="8.1" fill="none" stroke="#1e1530" stroke-width="2"/><path d="M1595.6,1185H1611.8M1603.7,1176.9V1193.1" stroke="#1e1530" stroke-width="1.8"/>
<circle cx="1606.8" cy="1185" r="8.1" fill="none" stroke="#1e1530" stroke-width="2"/><path d="M1598.7,1185H1614.9M1606.8,1176.9V1193.1" stroke="#1e1530" stroke-width="1.8"/>
<circle cx="1618.1" cy="1188.1" r="8.1" fill="none" stroke="#1e1530" stroke-width="2"/><path d="M1610,1188.1H1626.2M1618.1,1180V1196.2" stroke="#1e1530" stroke-width="1.8"/>
<path d="M1625.4,1158L1636.4,1177.3L1614.4,1177.3Z" fill="#2c2340"/>
<circle cx="1632.4" cy="1186" r="8.1" fill="none" stroke="#1e1530" stroke-width="2"/><path d="M1624.3,1186H1640.5M1632.4,1177.9V1194.1" stroke="#1e1530" stroke-width="1.8"/>
<circle cx="1633.4" cy="1173.6" r="8.1" fill="none" stroke="#1e1530" stroke-width="2"/><path d="M1625.3,1173.6H1641.5M1633.4,1165.5V1181.7" stroke="#1e1530" stroke-width="1.8"/>
<path d="M1623,1140.6H1648M1635.5,1128.1V1153.1" stroke="#1e1530" stroke-width="2" fill="none"/>
<circle cx="1648.9" cy="1164.3" r="8.1" fill="none" stroke="#1e1530" stroke-width="2"/><path d="M1640.8,1164.3H1657M1648.9,1156.2V1172.4" stroke="#1e1530" stroke-width="1.8"/>
<circle cx="1648.9" cy="1182.9" r="8.1" fill="none" stroke="#1e1530" stroke-width="2"/><path d="M1640.8,1182.9H1657M1648.9,1174.8V1191" stroke="#1e1530" stroke-width="1.8"/>
<path d="M1661.2,1113.6L1672.2,1132.9L1650.2,1132.9Z" fill="#2c2340"/>
<circle cx="1663.3" cy="1167.4" r="8.1" fill="none" stroke="#1e1530" stroke-width="2"/><path d="M1655.2,1167.4H1671.4M1663.3,1159.3V1175.5" stroke="#1e1530" stroke-width="1.8"/>
<circle cx="1668.5" cy="1182.9" r="8.1" fill="none" stroke="#1e1530" stroke-width="2"/><path d="M1660.4,1182.9H1676.6M1668.5,1174.8V1191" stroke="#1e1530" stroke-width="1.8"/>
<path d="M1669.4,1141.6H1694.4M1681.9,1129.1V1154.1" stroke="#1e1530" stroke-width="2" fill="none"/>
<path d="M1675.7,1145.6L1686.7,1164.9L1664.7,1164.9Z" fill="#2c2340"/>
<circle cx="1675.7" cy="1168.5" r="8.1" fill="none" stroke="#1e1530" stroke-width="2"/><path d="M1667.6,1168.5H1683.8M1675.7,1160.4V1176.6" stroke="#1e1530" stroke-width="1.8"/>
<circle cx="1690.1" cy="1160.2" r="8.1" fill="none" stroke="#1e1530" stroke-width="2"/><path d="M1682,1160.2H1698.2M1690.1,1152.1V1168.3" stroke="#1e1530" stroke-width="1.8"/>
<path d="M1696.3,1129.1L1707.3,1148.4L1685.3,1148.4Z" fill="#2c2340"/>
<circle cx="1702.5" cy="1154" r="8.1" fill="none" stroke="#1e1530" stroke-width="2"/><path d="M1694.4,1154H1710.6M1702.5,1145.9V1162.1" stroke="#1e1530" stroke-width="1.8"/>
<path d="M1702.8,1114.8H1727.8M1715.3,1102.3V1127.3" stroke="#1e1530" stroke-width="2" fill="none"/>
<circle cx="1715.9" cy="1152" r="8.1" fill="none" stroke="#1e1530" stroke-width="2"/><path d="M1707.8,1152H1724M1715.9,1143.9V1160.1" stroke="#1e1530" stroke-width="1.8"/>
<circle cx="1727.2" cy="1145.8" r="8.1" fill="none" stroke="#1e1530" stroke-width="2"/><path d="M1719.1,1145.8H1735.3M1727.2,1137.7V1153.9" stroke="#1e1530" stroke-width="1.8"/>
<circle cx="1738.6" cy="1143.7" r="8.1" fill="none" stroke="#1e1530" stroke-width="2"/><path d="M1730.5,1143.7H1746.7M1738.6,1135.6V1151.8" stroke="#1e1530" stroke-width="1.8"/>
<circle cx="1745.8" cy="1152" r="8.1" fill="none" stroke="#1e1530" stroke-width="2"/><path d="M1737.7,1152H1753.9M1745.8,1143.9V1160.1" stroke="#1e1530" stroke-width="1.8"/>
<circle cx="1753" cy="1141.6" r="8.1" fill="none" stroke="#1e1530" stroke-width="2"/><path d="M1744.9,1141.6H1761.1M1753,1133.5V1149.7" stroke="#1e1530" stroke-width="1.8"/>
<path d="M1750.9,1104.3L1761.9,1123.6L1739.9,1123.6Z" fill="#2c2340"/>
<circle cx="1773.6" cy="1144.7" r="8.1" fill="none" stroke="#1e1530" stroke-width="2"/><path d="M1765.5,1144.7H1781.7M1773.6,1136.6V1152.8" stroke="#1e1530" stroke-width="1.8"/>
<path d="M1761.1,1124.7H1786.1M1773.6,1112.2V1137.2" stroke="#1e1530" stroke-width="2" fill="none"/>
<path d="M1777.6,1131.3H1802.6M1790.1,1118.8V1143.8" stroke="#1e1530" stroke-width="2" fill="none"/>
<path d="M1801.4,1113.6L1812.4,1132.9L1790.4,1132.9Z" fill="#2c2340"/>
<path d="M1807.5,1120H1832.5M1820,1107.5V1132.5" stroke="#1e1530" stroke-width="2" fill="none"/>
</g>
<path d="M159,979H180" stroke="#333" stroke-width="1.8"/>
<text transform="translate(144,997.3) scale(0.95,1)" text-anchor="end" class="tl">0</text>
<path d="M159,737H180" stroke="#333" stroke-width="1.8"/>
<text transform="translate(144,755.3) scale(0.95,1)" text-anchor="end" class="tl">5</text>
<path d="M159,495H180" stroke="#333" stroke-width="1.8"/>
<text transform="translate(144,513.3) scale(0.95,1)" text-anchor="end" class="tl">10</text>
<path d="M159,253H180" stroke="#333" stroke-width="1.8"/>
<text transform="translate(144,271.3) scale(0.95,1)" text-anchor="end" class="tl">15</text>
<path d="M159,1080.8H180" stroke="#333" stroke-width="1.8"/>
<text transform="translate(144,1099.1) scale(0.95,1)" text-anchor="end" class="tl">2</text>
<path d="M159,1156.9H180" stroke="#333" stroke-width="1.8"/>
<text transform="translate(144,1175.2) scale(0.95,1)" text-anchor="end" class="tl">0</text>
<path d="M159,1233H180" stroke="#333" stroke-width="1.8"/>
<text transform="translate(144,1251.3) scale(0.95,1)" text-anchor="end" class="tl">−2</text>
<path d="M159,1309H180" stroke="#333" stroke-width="1.8"/>
<text transform="translate(144,1327.3) scale(0.95,1)" text-anchor="end" class="tl">−4</text>
<path d="M185.8,1329.4V1315.4" stroke="#111" stroke-width="2.4"/>
<path d="M262.3,1329.4V1311.4" stroke="#111" stroke-width="2.4"/>
<path d="M324.8,1329.4V1315.4" stroke="#111" stroke-width="2.4"/>
<path d="M377.6,1329.4V1315.4" stroke="#111" stroke-width="2.4"/>
<path d="M423.4,1329.4V1315.4" stroke="#111" stroke-width="2.4"/>
<path d="M463.7,1329.4V1315.4" stroke="#111" stroke-width="2.4"/>
<path d="M499.9,1329.4V1308.4" stroke="#111" stroke-width="2.4"/>
<path d="M737.4,1329.4V1315.4" stroke="#111" stroke-width="2.4"/>
<path d="M876.3,1329.4V1315.4" stroke="#111" stroke-width="2.4"/>
<path d="M974.9,1329.4V1315.4" stroke="#111" stroke-width="2.4"/>
<path d="M1051.4,1329.4V1311.4" stroke="#111" stroke-width="2.4"/>
<path d="M1113.9,1329.4V1315.4" stroke="#111" stroke-width="2.4"/>
<path d="M1166.7,1329.4V1315.4" stroke="#111" stroke-width="2.4"/>
<path d="M1212.5,1329.4V1315.4" stroke="#111" stroke-width="2.4"/>
<path d="M1252.8,1329.4V1315.4" stroke="#111" stroke-width="2.4"/>
<path d="M1289,1329.4V1308.4" stroke="#111" stroke-width="2.4"/>
<path d="M1526.5,1329.4V1315.4" stroke="#111" stroke-width="2.4"/>
<path d="M1665.4,1329.4V1315.4" stroke="#111" stroke-width="2.4"/>
<path d="M1764,1329.4V1315.4" stroke="#111" stroke-width="2.4"/>
<path d="M1840.5,1329.4V1311.4" stroke="#111" stroke-width="2.4"/>
<path d="M1903,1329.4V1315.4" stroke="#111" stroke-width="2.4"/>
<path d="M1955.8,1329.4V1315.4" stroke="#111" stroke-width="2.4"/>
<text transform="translate(496.5,1380.8) scale(0.95,1)" text-anchor="middle" class="tl">0<tspan dx="-3">.</tspan><tspan dx="-3">01</tspan></text>
<text transform="translate(1285.8,1380.8) scale(0.95,1)" text-anchor="middle" class="tl">0<tspan dx="-3">.</tspan><tspan dx="-3">1</tspan></text>
<text x="1073" y="1435" text-anchor="middle" class="ax">Energy (MeV)</text>
<text transform="translate(61,513) rotate(-90)" text-anchor="middle" class="ax">S−Factor (MeV b)</text>
<text transform="translate(55,1176) rotate(-90)" text-anchor="middle" class="ax"><tspan class="sr">Φ</tspan> (MeV b)</text>
</svg>
</body></html>
